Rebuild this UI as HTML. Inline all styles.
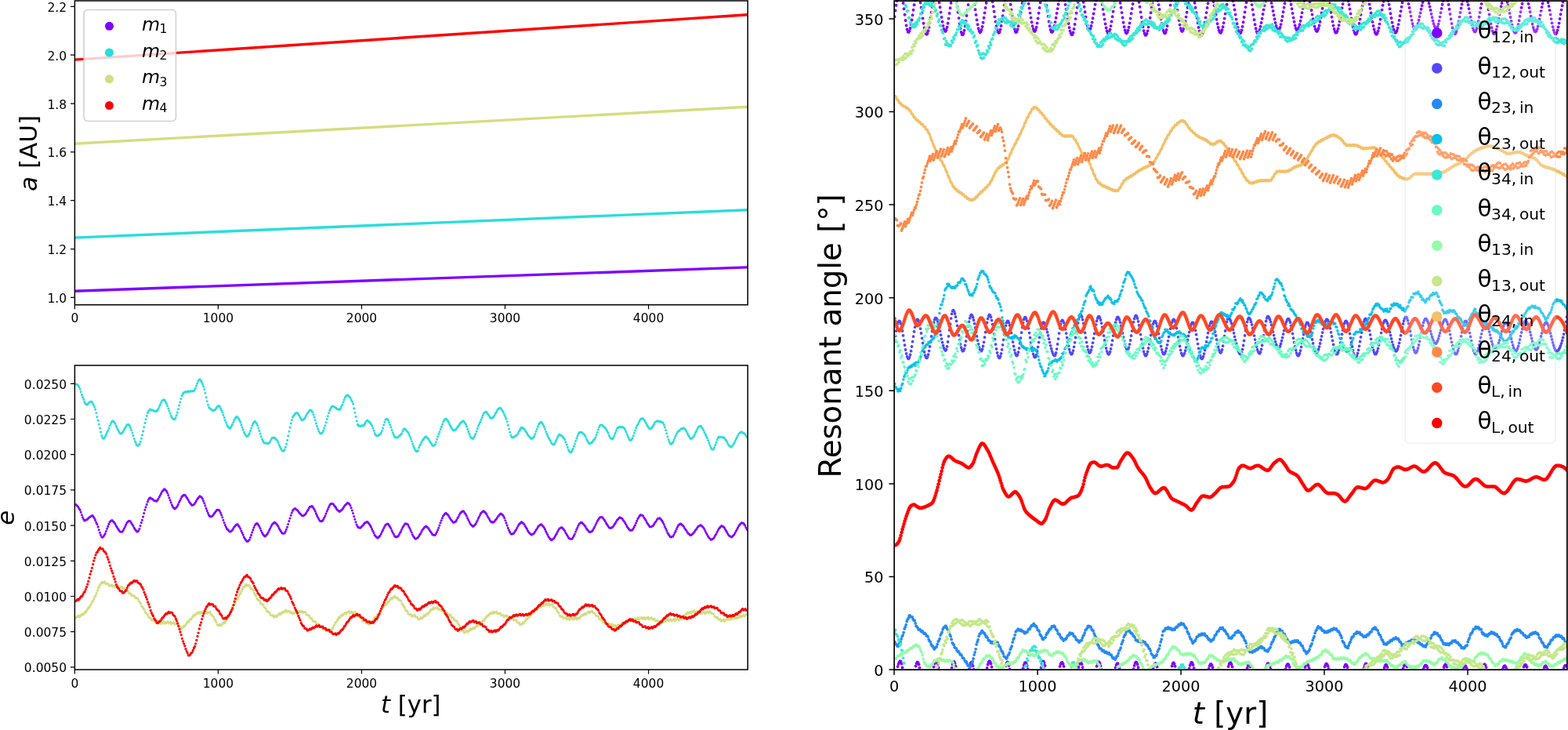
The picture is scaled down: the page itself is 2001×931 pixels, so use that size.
<!DOCTYPE html>
<html><head><meta charset="utf-8"><title>Resonant angles</title>
<style>html,body{margin:0;padding:0;background:#fff;width:2001px;height:931px;overflow:hidden}svg{display:block}</style>
</head><body>
<svg width="2001" height="931" viewBox="0 0 2001 931" font-family="'DejaVu Sans', 'Liberation Sans', sans-serif">
<rect width="100%" height="100%" fill="#fff"/>
<g>
<path d="M95.4 371.2L954 340.9" stroke="#8000ff" stroke-width="3.4" stroke-linecap="butt" fill="none"/>
<path d="M95.4 303.1L954 267.7" stroke="#2adddd" stroke-width="3.4" stroke-linecap="butt" fill="none"/>
<path d="M95.4 183.2L954 136.2" stroke="#d4dd80" stroke-width="3.4" stroke-linecap="butt" fill="none"/>
<path d="M95.4 76.1L954 18.8" stroke="#ff0000" stroke-width="3.4" stroke-linecap="butt" fill="none"/>
</g>
<path d="M96.4 489.9h0m1.2 0.1h0m1.1 0.6h0m1.2 1.1h0m1.1 2h0m1.2 2.6h0m1.1 3.4h0m1.2 3.8h0m1.1 3h0m1.2 2.9h0m1.1 3.2h0m1.2 2.3h0m1.1 0.9h0m1.2 0.3h0m1.1 -1.3h0m1.2 -1.5h0m1.1 -0.6h0m1.2 -0.6h0m1.1 0.3h0m1.2 1.5h0m1.1 2.7h0m1.2 2.4h0m1.1 3.1h0m1.2 4.7h0m1.1 4.8h0m1.2 4.5h0m1.1 4.9h0m1.2 5.1h0m1.1 4.9h0m1.2 4.5h0m1.1 2.9h0m1.2 0.8h0m1.1 -0.3h0m1.2 -2.3h0m1.1 -2.7h0m1.2 -2.6h0m1.1 -2.1h0m1.2 -3h0m1.1 -3.2h0m1.2 -2.5h0m1.1 -2.3h0m1.2 -1.4h0m1.1 0.8h0m1.2 0.9h0m1.1 1.8h0m1.2 2.8h0m1.1 2.5h0m1.2 2.4h0m1.1 2.1h0m1.2 2.2h0m1.1 0.6h0m1.2 -0.4h0m1.1 -0.5h0m1.2 -2h0m1.1 -2.3h0m1.2 -1.9h0m1.1 -2.2h0m1.2 -1.8h0m1.1 -0.2h0m1.2 0h0m1.1 1.3h0m1.2 2.7h0m1.1 3h0m1.2 3.4h0m1.1 3.6h0m1.2 3.9h0m1.1 3.2h0m1.2 2.6h0m1.1 2.4h0m1.2 0.7h0m1.1 -0.7h0m1.2 -1.4h0m1.1 -3.1h0m1.2 -3.9h0m1.1 -4.3h0m1.2 -5.1h0m1.1 -5.2h0m1.2 -5.3h0m1.1 -4.6h0m1.2 -4.5h0m1.1 -3.7h0m1.2 -2.4h0m1.1 -1.6h0m1.2 -0.5h0m1.1 0.9h0m1.2 0.1h0m1.1 0.2h0m1.2 1h0m1.1 0.1h0m1.2 -0.1h0m1.1 0.2h0m1.2 -1.6h0m1.1 -2.2h0m1.2 -2.5h0m1.1 -2.3h0m1.2 -2.6h0m1.1 -2.2h0m1.2 -0.7h0m1.1 -0.6h0m1.2 0.6h0m1.1 2.2h0m1.2 2.2h0m1.1 2.8h0m1.2 3.4h0m1.1 3.1h0m1.2 3.1h0m1.1 3.2h0m1.2 2.2h0m1.1 1.5h0m1.2 0.5h0m1.1 0.1h0m1.2 -2h0m1.1 -3.1h0m1.2 -3.5h0m1.1 -4.4h0m1.2 -4.7h0m1.1 -4.3h0m1.2 -4.2h0m1.1 -3.7h0m1.2 -2.3h0m1.1 -1.6h0m1.2 -0.7h0m1.1 -0.7h0m1.2 0.4h0m1.1 -0.5h0m1.2 -0.5h0m1.1 0.5h0m1.2 -0.4h0m1.1 -0.4h0m1.2 0.6h0m1.1 -0.4h0m1.2 -0.4h0m1.1 -0.7h0m1.2 -2.5h0m1.1 -3.2h0m1.2 -2.9h0m1.1 -2.8h0m1.2 -2h0m1.1 -0.6h0m1.2 1.7h0m1.1 2h0m1.2 2.5h0m1.1 3h0m1.2 3.6h0m1.1 4.7h0m1.2 5.5h0m1.1 5.1h0m1.2 4.4h0m1.1 3.4h0m1.2 1.3h0m1.1 0.8h0m1.2 0.6h0m1.1 1.2h0m1.2 0.1h0m1.1 -0.5h0m1.2 -0.5h0m1.1 -1.8h0m1.2 -1.9h0m1.1 -0.7h0m1.2 -0.7h0m1.1 1.1h0m1.2 2.7h0m1.1 2h0m1.2 2.6h0m1.1 3.4h0m1.2 3.2h0m1.1 3.3h0m1.2 3.1h0m1.1 3.1h0m1.2 2.1h0m1.1 1.2h0m1.2 1.1h0m1.1 -1h0m1.2 -1.9h0m1.1 -2.1h0m1.2 -2.9h0m1.1 -2.8h0m1.2 -2h0m1.1 -1.7h0m1.2 -0.8h0m1.1 1.3h0m1.2 1.3h0m1.1 2.1h0m1.2 2.7h0m1.1 3.3h0m1.2 3.2h0m1.1 3h0m1.2 3.2h0m1.1 2.3h0m1.2 1.6h0m1.1 1.6h0m1.2 -0.5h0m1.1 -1.6h0m1.2 -2.1h0m1.1 -3.2h0m1.2 -3.4h0m1.1 -3.3h0m1.2 -2.4h0m1.1 -2h0m1.2 -1h0m1.1 1.3h0m1.2 1.5h0m1.1 2.5h0m1.2 3.4h0m1.1 3.5h0m1.2 3.6h0m1.1 3.7h0m1.2 3.2h0m1.1 2.4h0m1.2 2.2h0m1.1 0.5h0m1.2 0h0m1.1 -0.1h0m1.2 0.8h0m1.1 -0.3h0m1.2 -0.9h0m1.1 -1.5h0m1.2 -2.5h0m1.1 -2.1h0m1.2 -0.2h0m1.1 -0.1h0m1.2 0.2h0m1.1 1.3h0m1.2 0.8h0m1.1 1.8h0m1.2 2.3h0m1.1 3h0m1.2 2.5h0m1.1 2.2h0m1.2 2.2h0m1.1 0.8h0m1.2 -0.5h0m1.1 -1.3h0m1.2 -3.2h0m1.1 -4.2h0m1.2 -4.7h0m1.1 -5.5h0m1.2 -5.6h0m1.1 -5.2h0m1.2 -5.2h0m1.1 -4.4h0m1.2 -3.6h0m1.1 -1.8h0m1.2 -1.5h0m1.1 -1.5h0m1.2 -0.2h0m1.1 -0.3h0m1.2 0.8h0m1.1 2.3h0m1.2 2.1h0m1.1 1.8h0m1.2 2h0m1.1 0.1h0m1.2 -0.9h0m1.1 -0.8h0m1.2 -2h0m1.1 -2.2h0m1.2 -2.3h0m1.1 -1.5h0m1.2 -1.8h0m1.1 -1.2h0m1.2 0.3h0m1.1 0.6h0m1.2 1.9h0m1.1 3h0m1.2 3.3h0m1.1 3.7h0m1.2 4.1h0m1.1 3.7h0m1.2 3.3h0m1.1 2.8h0m1.2 2.4h0m1.1 0.8h0m1.2 -0.4h0m1.1 -0.8h0m1.2 -2.5h0m1.1 -3.1h0m1.2 -3.4h0m1.1 -4h0m1.2 -4.2h0m1.1 -3.8h0m1.2 -3.9h0m1.1 -3.4h0m1.2 -2.4h0m1.1 -1.9h0m1.2 -1h0m1.1 -0.1h0m1.2 1.1h0m1.1 0.5h0m1.2 0.6h0m1.1 1.4h0m1.2 0.4h0m1.1 0.1h0m1.2 0.3h0m1.1 -1.5h0m1.2 -2.3h0m1.1 -2.4h0m1.2 -3.1h0m1.1 -3.1h0m1.2 -2.7h0m1.1 -1.7h0m1.2 -1.3h0m1.1 -0.4h0m1.2 1.2h0m1.1 1h0m1.2 1.4h0m1.1 2.5h0m1.2 2.1h0m1.1 3h0m1.2 5.8h0m1.1 5.4h0m1.2 5.1h0m1.1 5.6h0m1.2 4.2h0m1.1 1.9h0m1.2 -0.3h0m1.1 0.6h0m1.2 -0.4h0m1.1 -0.4h0m1.2 0.4h0m1.1 -0.6h0m1.2 -2h0m1.1 -2.1h0m1.2 -1.8h0m1.1 -0.3h0m1.2 1.2h0m1.1 0.7h0m1.2 1h0m1.1 1.8h0m1.2 2.2h0m1.1 3h0m1.2 3.2h0m1.1 3.3h0m1.2 2.2h0m1.1 0.7h0m1.2 0.6h0m1.1 -0.8h0m1.2 -1.1h0m1.1 -0.4h0m1.2 -1.5h0m1.1 -2.8h0m1.2 -3.5h0m1.1 -4h0m1.2 -3.8h0m1.1 -3h0m1.2 -0.8h0m1.1 0.2h0m1.2 1.4h0m1.1 2.8h0m1.2 2.9h0m1.1 3.2h0m1.2 3.7h0m1.1 3.2h0m1.2 2.6h0m1.1 2.6h0m1.2 0.9h0m1.1 -0.1h0m1.2 0.3h0m1.1 -0.9h0m1.2 -1h0m1.1 -1.2h0m1.2 -0.5h0m1.1 -1.7h0m1.2 -3.1h0m1.1 -2.2h0m1.2 -0.6h0m1.1 0.5h0m1.2 1.6h0m1.1 1.1h0m1.2 1.4h0m1.1 2.5h0m1.2 2.6h0m1.1 2.9h0m1.2 3.2h0m1.1 3.4h0m1.2 3h0m1.1 2.5h0m1.2 2.5h0m1.1 1.3h0m1.2 0.4h0m1.1 -1.1h0m1.2 -3.8h0m1.1 -2.8h0m1.2 -1.9h0m1.1 -2.4h0m1.2 -2.2h0m1.1 -1.4h0m1.2 -1.6h0m1.1 -1.2h0m1.2 -0.5h0m1.1 1.1h0m1.2 1h0m1.1 1.5h0m1.2 2.3h0m1.1 1.8h0m1.2 1.5h0m1.1 1.9h0m1.2 0.5h0m1.1 -0.5h0m1.2 -1.3h0m1.1 -3h0m1.2 -3.5h0m1.1 -3.3h0m1.2 -3.4h0m1.1 -2.8h0m1.2 -3.2h0m1.1 -3.1h0m1.2 -3.3h0m1.1 -3.1h0m1.2 -1.9h0m1.1 -1.6h0m1.2 -0.5h0m1.1 1.3h0m1.2 1.3h0m1.1 1.9h0m1.2 2.6h0m1.1 2.3h0m1.2 2.1h0m1.1 1.6h0m1.2 1.6h0m1.1 0.1h0m1.2 -0.7h0m1.1 -0.3h0m1.2 -1.6h0m1.1 -1.8h0m1.2 -1.2h0m1.1 -1.9h0m1.2 -1.8h0m1.1 -0.8h0m1.2 -1.2h0m1.1 -0.7h0m1.2 1h0m1.1 1.2h0m1.2 2.1h0m1.1 2.8h0m1.2 3.4h0m1.1 3.1h0m1.2 3h0m1.1 3h0m1.2 1.8h0m1.1 0.8h0m1.2 0.5h0m1.1 -1.5h0m1.2 -2.3h0m1.1 -2.4h0m1.2 -3.3h0m1.1 -3.4h0m1.2 -3.3h0m1.1 -2.6h0m1.2 -2.6h0m1.1 -2.9h0m1.2 -2.6h0m1.1 -2.9h0m1.2 -2.5h0m1.1 -1.1h0m1.2 -0.9h0m1.1 0.2h0m1.2 1.8h0m1.1 1.5h0m1.2 1.6h0m1.1 2.1h0m1.2 1h0m1.1 -0.1h0m1.2 -0.9h0m1.1 -0.8h0m1.2 -2.1h0m1.1 -2.2h0m1.2 -1.8h0m1.1 -2.2h0m1.2 -1.9h0m1.1 -0.5h0m1.2 -0.5h0m1.1 0.4h0m1.2 1.8h0m1.1 1.7h0m1.2 2.2h0m1.1 2.8h0m1.2 2.4h0m1.1 2.5h0m1.2 3.6h0m1.1 4.6h0m1.2 4.6h0m1.1 4.3h0m1.2 3.8h0m1.1 2.3h0m1.2 0.3h0m1.1 0.3h0m1.2 -0.9h0m1.1 -1.1h0m1.2 -0.5h0m1.1 -1.3h0m1.2 -1.6h0m1.1 -2.3h0m1.2 -1.9h0m1.1 -2.1h0m1.2 -1.3h0m1.1 0.9h0m1.2 0.5h0m1.1 0.9h0m1.2 2h0m1.1 1.5h0m1.2 1.7h0m1.1 2.2h0m1.2 1.5h0m1.1 1.2h0m1.2 1.6h0m1.1 0.4h0m1.2 -0.2h0m1.1 -1.3h0m1.2 -1.6h0m1.1 -2.8h0m1.2 -3.2h0m1.1 -3h0m1.2 -3.2h0m1.1 -2.8h0m1.2 -1.5h0m1.1 -1.3h0m1.2 -0.1h0m1.1 1.7h0m1.2 1.8h0m1.1 2.5h0m1.2 2.8h0m1.1 3.3h0m1.2 2.9h0m1.1 2.5h0m1.2 2.5h0m1.1 1.9h0m1.2 2h0m1.1 2.5h0m1.2 1.3h0m1.1 0.6h0m1.2 0.3h0m1.1 -1.9h0m1.2 -2.5h0m1.1 -2.5h0m1.2 -2.7h0m1.1 -2.2h0m1.2 -1.1h0m1.1 0.9h0m1.2 0.4h0m1.1 0.8h0m1.2 1.7h0m1.1 1h0m1.2 1.9h0m1.1 3.2h0m1.2 3.3h0m1.1 3.3h0m1.2 3.2h0m1.1 2.1h0m1.2 0.7h0m1.1 0.1h0m1.2 -1.8h0m1.1 -2.5h0m1.2 -3.1h0m1.1 -3.2h0m1.2 -3.6h0m1.1 -3.5h0m1.2 -2.9h0m1.1 -2.6h0m1.2 -2h0m1.1 -0.1h0m1.2 -0.1h0m1.1 0.2h0m1.2 1.4h0m1.1 0.6h0m1.2 1.4h0m1.1 2.1h0m1.2 3h0m1.1 2.3h0m1.2 1.8h0m1.1 1.7h0m1.2 -0.2h0m1.1 -0.9h0m1.2 -0.4h0m1.1 -1.5h0m1.2 -1.7h0m1.1 -1h0m1.2 -2.4h0m1.1 -3.1h0m1.2 -3.1h0m1.1 -3.5h0m1.2 -3.1h0m1.1 -2.3h0m1.2 -0.5h0m1.1 -0.1h0m1.2 0.5h0m1.1 1.5h0m1.2 0.9h0m1.1 1h0m1.2 2h0m1.1 2h0m1.2 2.4h0m1.1 3h0m1.2 2.2h0m1.1 1.5h0m1.2 0.6h0m1.1 0.3h0m1.2 -2h0m1.1 -2.7h0m1.2 -2.8h0m1.1 -3.2h0m1.2 -2.8h0m1.1 -1.1h0m1.2 -0.6h0m1.1 -0.3h0m1.2 0.7h0m1.1 -0.3h0m1.2 -0.3h0m1.1 0.8h0m1.2 0.9h0m1.1 2h0m1.2 2.7h0m1.1 3.2h0m1.2 2.7h0m1.1 2.3h0m1.2 2.1h0m1.1 0.3h0m1.2 -1.1h0m1.1 -1.6h0m1.2 -3h0m1.1 -3.5h0m1.2 -3.2h0m1.1 -3.4h0m1.2 -2.7h0m1.1 -1.8h0m1.2 -2.4h0m1.1 -2.3h0m1.2 -1.9h0m1.1 -0.6h0m1.2 -0.5h0m1.1 0.5h0m1.2 1.8h0m1.1 1.7h0m1.2 1.9h0m1.1 2.6h0m1.2 1.8h0m1.1 1.5h0m1.2 1.6h0m1.1 0h0m1.2 -0.9h0m1.1 -1.6h0m1.2 -1.5h0m1.1 -2.2h0m1.2 -2.1h0m1.1 -0.8h0m1.2 -0.8h0m1.1 -0.3h0m1.2 0.8h0m1.1 -0.1h0m1.2 0h0m1.1 1h0m1.2 0h0m1.1 0.8h0m1.2 2.6h0m1.1 3.1h0m1.2 3.7h0m1.1 4.1h0m1.2 4.3h0m1.1 3.7h0m1.2 2.9h0m1.1 2.3h0m1.2 0.4h0m1.1 -1h0m1.2 -1.5h0m1.1 -2.7h0m1.2 -2.9h0m1.1 -2.6h0m1.2 -2.6h0m1.1 -1.9h0m1.2 -1.4h0m1.1 -0.5h0m1.2 -1.2h0m1.1 -1.1h0m1.2 0h0m1.1 -0.7h0m1.2 -0.4h0m1.1 1.2h0m1.2 1.2h0m1.1 1.9h0m1.2 2.6h0m1.1 2.2h0m1.2 1.9h0m1.1 2.1h0m1.2 0.6h0m1.1 -0.5h0m1.2 -1.2h0m1.1 -1.3h0m1.2 -2.3h0m1.1 -2.6h0m1.2 -2.1h0m1.1 -2.5h0m1.2 -2.1h0m1.1 -0.8h0m1.2 -0.7h0m1.1 0.1h0m1.2 1.7h0m1.1 1.7h0m1.2 2.1h0m1.1 2.8h0m1.2 2.4h0m1.1 2.3h0m1.2 2.2h0m1.1 3.1h0m1.2 3.1h0m1.1 3h0m1.2 3h0m1.1 1.8h0m1.2 0.4h0m1.1 -0.2h0m1.2 -2.4h0m1.1 -3.1h0m1.2 -3.1h0m1.1 -3.2h0m1.2 -2.6h0m1.1 -1.5h0m1.2 0.5h0m1.1 -0.2h0m1.2 -0.1h0m1.1 0.8h0m1.2 -0.1h0m1.1 0.4h0m1.2 1.9h0m1.1 1.6h0m1.2 2h0m1.1 2.5h0m1.2 1.7h0m1.1 1.1h0m1.2 1.2h0m1.1 -0.7h0m1.2 -1.3h0m1.1 -1.8h0m1.2 -1.7h0m1.1 -2.4h0m1.2 -2.6h0m1.1 -2.1h0m1.2 -2.4h0m1.1 -2.1h0m1.2 -0.9h0m1.1 -1.1h0m1.2 -0.4h0m1.1 0.9h0m1.2 0.4h0m1.1 0.7h0m1.2 1h0m1.1 2.1h0m1.2 1.6h0" stroke="#2adddd" stroke-width="3.1" stroke-linecap="round" fill="none"/>
<path d="M96.3 643.3h0m1.2 0.8h0m1.1 1.1h0m1.2 1.3h0m1.1 2.1h0m1.2 1.8h0m1.1 2.8h0m1.2 3.5h0m1.1 3.2h0m1.2 2.4h0m1.1 1.7h0m1.2 -0.4h0m1.1 -0.8h0m1.2 -0.3h0m1.1 -1.2h0m1.2 -1.3h0m1.1 -0.5h0m1.2 -1h0m1.1 -0.7h0m1.2 -0.3h0m1.1 1.7h0m1.2 1.9h0m1.1 2.3h0m1.2 2.8h0m1.1 2.4h0m1.2 3.3h0m1.1 3.9h0m1.2 3.5h0m1.1 2.9h0m1.2 2.5h0m1.1 0.5h0m1.2 -0.9h0m1.1 -1.8h0m1.2 -2h0m1.1 -3h0m1.2 -3.2h0m1.1 -2.9h0m1.2 -3h0m1.1 -2.6h0m1.2 -1.2h0m1.1 -0.9h0m1.2 0.1h0m1.1 1.5h0m1.2 1.1h0m1.1 1.6h0m1.2 2.4h0m1.1 1.9h0m1.2 1.8h0m1.1 1.6h0m1.2 1.9h0m1.1 0.7h0m1.2 -0.1h0m1.1 -0.1h0m1.2 -1.8h0m1.1 -2.3h0m1.2 -2.2h0m1.1 -2.6h0m1.2 -2.4h0m1.1 -1.3h0m1.2 -1h0m1.1 -0.2h0m1.2 0.8h0m1.1 1.9h0m1.2 1.7h0m1.1 1.9h0m1.2 2.5h0m1.1 1.8h0m1.2 1.4h0m1.1 1.6h0m1.2 0.1h0m1.1 -1.3h0m1.2 -2.4h0m1.1 -3.8h0m1.2 -3.9h0m1.1 -3.3h0m1.2 -4.2h0m1.1 -4.5h0m1.2 -4.3h0m1.1 -3.4h0m1.2 -3.5h0m1.1 -3.5h0m1.2 -2.6h0m1.1 -1.9h0m1.2 -0.6h0m1.1 1.1h0m1.2 0.4h0m1.1 0.6h0m1.2 1.4h0m1.1 0.4h0m1.2 0.1h0m1.1 0.4h0m1.2 -1.3h0m1.1 -1.9h0m1.2 -2.2h0m1.1 -2h0m1.2 -2.4h0m1.1 -2.4h0m1.2 -1.3h0m1.1 -1.3h0m1.2 -0.7h0m1.1 1.3h0m1.2 1.3h0m1.1 2.2h0m1.2 3.1h0m1.1 3.1h0m1.2 3.2h0m1.1 3h0m1.2 3.1h0m1.1 2.3h0m1.2 1.4h0m1.1 1.3h0m1.2 -0.7h0m1.1 -1.3h0m1.2 -1.4h0m1.1 -2.4h0m1.2 -2.7h0m1.1 -2.3h0m1.2 -2.5h0m1.1 -2.3h0m1.2 -1h0m1.1 -1h0m1.2 -0.1h0m1.1 0.6h0m1.2 1.9h0m1.1 1.6h0m1.2 1.8h0m1.1 2.4h0m1.2 1.7h0m1.1 1.3h0m1.2 1.6h0m1.1 0.1h0m1.2 -0.8h0m1.1 -0.7h0m1.2 -1.8h0m1.1 -2.1h0m1.2 -2.1h0m1.1 -1.4h0m1.2 -1.5h0m1.1 -1.1h0m1.2 0.7h0m1.1 0.8h0m1.2 1.8h0m1.1 2.8h0m1.2 2.8h0m1.1 3.2h0m1.2 3.5h0m1.1 3h0m1.2 2.8h0m1.1 2.7h0m1.2 1.5h0m1.1 0.5h0m1.2 -0.4h0m1.1 -0.4h0m1.2 -1.6h0m1.1 -1.8h0m1.2 -1.3h0m1.1 -1.7h0m1.2 -1.4h0m1.1 0.1h0m1.2 0h0m1.1 1.2h0m1.2 2.5h0m1.1 2.6h0m1.2 3.1h0m1.1 3.5h0m1.2 3.2h0m1.1 3h0m1.2 2.5h0m1.1 2.4h0m1.2 1.1h0m1.1 1.1h0m1.2 1.4h0m1.1 0h0m1.2 -1h0m1.1 -0.8h0m1.2 -2h0m1.1 -2h0m1.2 -1.2h0m1.1 -1.5h0m1.2 -0.8h0m1.1 0.2h0m1.2 1.7h0m1.1 1.5h0m1.2 2.1h0m1.1 2.9h0m1.2 2.5h0m1.1 2.5h0m1.2 2.9h0m1.1 2h0m1.2 1.6h0m1.1 1.7h0m1.2 0.1h0m1.1 -0.9h0m1.2 -1.3h0m1.1 -2.7h0m1.2 -3.1h0m1.1 -3.4h0m1.2 -3.1h0m1.1 -3.2h0m1.2 -2.7h0m1.1 -1.4h0m1.2 -1h0m1.1 0.2h0m1.2 1.8h0m1.1 1.9h0m1.2 2.4h0m1.1 2.9h0m1.2 2.5h0m1.1 2h0m1.2 1.4h0m1.1 1.3h0m1.2 -0.6h0m1.1 -1.3h0m1.2 -1.2h0m1.1 -2.2h0m1.2 -2.5h0m1.1 -2.2h0m1.2 -2.5h0m1.1 -2.3h0m1.2 -1.2h0m1.1 -1.3h0m1.2 -0.6h0m1.1 1.1h0m1.2 0.9h0m1.1 1.5h0m1.2 1.8h0m1.1 2.5h0m1.2 2h0m1.1 1.7h0m1.2 2h0m1.1 0.7h0m1.2 0h0m1.1 -0.3h0m1.2 -2.1h0m1.1 -2.7h0m1.2 -3h0m1.1 -3.7h0m1.2 -3.9h0m1.1 -3.6h0m1.2 -3.7h0m1.1 -3.3h0m1.2 -2.8h0m1.1 -1.5h0m1.2 -1h0m1.1 -0.2h0m1.2 1.3h0m1.1 0.8h0m1.2 1h0m1.1 1.9h0m1.2 1.2h0m1.1 1.1h0m1.2 1.5h0m1.1 0.5h0m1.2 -0.2h0m1.1 -0.8h0m1.2 -0.7h0m1.1 -1.9h0m1.2 -2.2h0m1.1 -1.6h0m1.2 -2.1h0m1.1 -1.7h0m1.2 -0.5h0m1.1 -0.5h0m1.2 0.3h0m1.1 1.9h0m1.2 1.8h0m1.1 2.3h0m1.2 3h0m1.1 2.5h0m1.2 2.4h0m1.1 2.1h0m1.2 2.1h0m1.1 0.8h0m1.2 -0.2h0m1.1 -0.2h0m1.2 -1.8h0m1.1 -2.3h0m1.2 -2.2h0m1.1 -3h0m1.2 -3h0m1.1 -2.5h0m1.2 -2.7h0m1.1 -2.3h0m1.2 -1.8h0m1.1 -0.3h0m1.2 -0.3h0m1.1 0.5h0m1.2 1.8h0m1.1 1.4h0m1.2 1.5h0m1.1 2.1h0m1.2 1.2h0m1.1 0.7h0m1.2 1h0m1.1 -0.7h0m1.2 -1.1h0m1.1 -0.8h0m1.2 -1.7h0m1.1 -1.8h0m1.2 -1.8h0m1.1 -0.9h0m1.2 -1.4h0m1.1 -0.9h0m1.2 0.7h0m1.1 0.8h0m1.2 1.9h0m1.1 3.1h0m1.2 3.2h0m1.1 3.6h0m1.2 4h0m1.1 3.7h0m1.2 3.4h0m1.1 3.4h0m1.2 2.3h0m1.1 1.4h0m1.2 0.2h0m1.1 0.3h0m1.2 -1.1h0m1.1 -1.4h0m1.2 -0.8h0m1.1 -1.6h0m1.2 -1.5h0m1.1 -0.4h0m1.2 -0.8h0m1.1 -0.2h0m1.2 1.4h0m1.1 1.3h0m1.2 1.8h0m1.1 2.1h0m1.2 2.8h0m1.1 2.4h0m1.2 2.3h0m1.1 2.6h0m1.2 1.6h0m1.1 1.1h0m1.2 1.2h0m1.1 -0.5h0m1.2 -1.2h0m1.1 -1.1h0m1.2 -2.3h0m1.1 -2.5h0m1.2 -2.1h0m1.1 -2.6h0m1.2 -2.3h0m1.1 -2h0m1.2 -0.7h0m1.1 -0.7h0m1.2 0.2h0m1.1 1.8h0m1.2 1.6h0m1.1 2.1h0m1.2 2.8h0m1.1 2.3h0m1.2 2.2h0m1.1 2.3h0m1.2 1.2h0m1.1 0.3h0m1.2 -0.5h0m1.1 -0.5h0m1.2 -1.8h0m1.1 -2.3h0m1.2 -1.9h0m1.1 -2.6h0m1.2 -2.5h0m1.1 -1.8h0m1.2 -1.9h0m1.1 -1.3h0m1.2 0.2h0m1.1 0.2h0m1.2 1.1h0m1.1 2.4h0m1.2 2.2h0m1.1 2.6h0m1.2 2.5h0m1.1 2.9h0m1.2 2.2h0m1.1 1.5h0m1.2 1.5h0m1.1 -0.1h0m1.2 -0.8h0m1.1 -0.6h0m1.2 -1.8h0m1.1 -2h0m1.2 -1.6h0m1.1 -2.3h0m1.2 -2.1h0m1.1 -1.3h0m1.2 -1.6h0m1.1 -1.2h0m1.2 -0.6h0m1.1 1h0m1.2 0.8h0m1.1 1.3h0m1.2 2.1h0m1.1 1.7h0m1.2 1.5h0m1.1 1.9h0m1.2 0.8h0m1.1 0.1h0m1.2 0.1h0m1.1 -1.6h0m1.2 -2.2h0m1.1 -2.6h0m1.2 -2.7h0m1.1 -3.2h0m1.2 -3.4h0m1.1 -2.9h0m1.2 -3h0m1.1 -2.7h0m1.2 -1.6h0m1.1 -1.4h0m1.2 -0.8h0m1.1 1.1h0m1.2 0.8h0m1.1 1.4h0m1.2 2.2h0m1.1 1.8h0m1.2 1.6h0m1.1 1.3h0m1.2 1.6h0m1.1 0.1h0m1.2 -0.6h0m1.1 -0.7h0m1.2 -1.9h0m1.1 -2.2h0m1.2 -1.8h0m1.1 -2.4h0m1.2 -2.1h0m1.1 -1.1h0m1.2 -1.1h0m1.1 -0.4h0m1.2 0.4h0m1.1 1.9h0m1.2 1.6h0m1.1 2.1h0m1.2 2.8h0m1.1 2.3h0m1.2 2.2h0m1.1 2.5h0m1.2 1.6h0m1.1 1h0m1.2 1.1h0m1.1 -0.6h0m1.2 -1.3h0m1.1 -1.1h0m1.2 -2.3h0m1.1 -2.4h0m1.2 -2.6h0m1.1 -2.1h0m1.2 -2.5h0m1.1 -2.1h0m1.2 -1.1h0m1.1 -1.1h0m1.2 -0.5h0m1.1 1.2h0m1.2 1h0m1.1 1.5h0m1.2 2.4h0m1.1 1.9h0m1.2 1.9h0m1.1 2.2h0m1.2 1.4h0m1.1 0.7h0m1.2 0h0m1.1 0.2h0m1.2 -1.2h0m1.1 -1.6h0m1.2 -1.2h0m1.1 -1.9h0m1.2 -1.9h0m1.1 -1h0m1.2 -1.4h0m1.1 -0.9h0m1.2 0.8h0m1.1 0.7h0m1.2 1.7h0m1.1 2.4h0m1.2 3.2h0m1.1 3.1h0m1.2 3.2h0m1.1 3.3h0m1.2 2.8h0m1.1 2.2h0m1.2 2.1h0m1.1 0.7h0m1.2 -0.4h0m1.1 -0.2h0m1.2 -1.6h0m1.1 -1.9h0m1.2 -1.6h0m1.1 -2.3h0m1.2 -2.2h0m1.1 -2.1h0m1.2 -1h0m1.1 -1.3h0m1.2 -0.7h0m1.1 1h0m1.2 0.6h0m1.1 1.2h0m1.2 2.2h0m1.1 1.8h0m1.2 1.9h0m1.1 2.4h0m1.2 1.7h0m1.1 1.3h0m1.2 0.9h0m1.1 1.1h0m1.2 -0.4h0m1.1 -0.9h0m1.2 -0.8h0m1.1 -1.8h0m1.2 -2.1h0m1.1 -1.5h0m1.2 -2h0m1.1 -1.8h0m1.2 -0.7h0m1.1 -0.9h0m1.2 -0.3h0m1.1 1.3h0m1.2 1.1h0m1.1 1.6h0m1.2 2.1h0m1.1 2.7h0m1.2 2.3h0m1.1 2.2h0m1.2 2.5h0m1.1 1.7h0m1.2 1.1h0m1.1 1.3h0m1.2 -0.4h0m1.1 -1h0m1.2 -0.9h0m1.1 -2h0m1.2 -2.2h0m1.1 -1.8h0m1.2 -2.3h0m1.1 -2.1h0m1.2 -1.9h0m1.1 -0.6h0m1.2 -0.7h0m1.1 0h0m1.2 1.4h0m1.1 1.3h0m1.2 1.6h0m1.1 2.4h0m1.2 1.9h0m1.1 1.8h0m1.2 2.2h0m1.1 1.3h0m1.2 0.6h0m1.1 -0.1h0m1.2 0h0m1.1 -1.6h0m1.2 -2.2h0m1.1 -2.2h0m1.2 -2.9h0m1.1 -2.9h0m1.2 -2.5h0m1.1 -2.6h0m1.2 -2.2h0m1.1 -0.9h0m1.2 -0.8h0m1.1 0h0m1.2 1.4h0m1.1 1h0m1.2 1.4h0m1.1 1.6h0m1.2 2.2h0m1.1 1.5h0m1.2 1.2h0m1.1 1.6h0m1.2 0.3h0m1.1 -0.5h0m1.2 -0.3h0m1.1 -1.6h0m1.2 -2.1h0m1.1 -1.8h0m1.2 -2.5h0m1.1 -2.5h0m1.2 -2.5h0m1.1 -1.7h0m1.2 -1.9h0m1.1 -1.5h0m1.2 0h0m1.1 -0.2h0m1.2 0.6h0m1.1 1.8h0m1.2 1.4h0m1.1 1.7h0m1.2 2.4h0m1.1 1.7h0m1.2 1.6h0m1.1 1.9h0m1.2 0.7h0m1.1 0.1h0m1.2 -0.6h0m1.1 -0.4h0m1.2 -1.6h0m1.1 -1.9h0m1.2 -1.5h0m1.1 -2.1h0m1.2 -2h0m1.1 -1.1h0m1.2 -1.4h0m1.1 -0.9h0m1.2 0.6h0m1.1 0.3h0m1.2 0.9h0m1.1 2h0m1.2 1.6h0m1.1 1.8h0m1.2 1.9h0m1.1 2.4h0m1.2 1.6h0m1.1 1.4h0m1.2 1.6h0m1.1 0.4h0m1.2 -0.3h0m1.1 -0.2h0m1.2 -1.8h0m1.1 -2.2h0m1.2 -2.1h0m1.1 -2.8h0m1.2 -2.8h0m1.1 -2.6h0m1.2 -1.8h0m1.1 -1.9h0m1.2 -1.3h0m1.1 0.4h0m1.2 0.2h0m1.1 0.9h0m1.2 2.1h0m1.1 1.7h0m1.2 1.8h0m1.1 2.5h0m1.2 1.8h0m1.1 1.5h0m1.2 1.9h0m1.1 0.6h0m1.2 -0.2h0m1.1 -0.8h0m1.2 -0.6h0m1.1 -1.8h0m1.2 -2h0m1.1 -1.4h0m1.2 -1.9h0m1.1 -1.7h0m1.2 -0.3h0m1.1 -0.4h0m1.2 0.3h0m1.1 1.7h0m1.2 1.5h0m1.1 2h0m1.2 2.3h0m1.1 2.9h0m1.2 2.5h0m1.1 2.5h0m1.2 2.8h0m1.1 2h0m1.2 1.5h0m1.1 1.7h0m1.2 0.4h0m1.1 -0.5h0m1.2 -0.5h0m1.1 -2h0m1.2 -2.4h0m1.1 -2.2h0m1.2 -2.7h0m1.1 -2.5h0m1.2 -2.3h0m1.1 -0.9h0m1.2 -0.9h0m1.1 0h0m1.2 1.3h0m1.1 0.9h0m1.2 1.2h0m1.1 2.2h0m1.2 1.5h0m1.1 1.6h0m1.2 2.1h0m1.1 1.3h0m1.2 0.9h0m1.1 1.3h0m1.2 0h0m1.1 -0.7h0m1.2 -1.1h0m1.1 -0.8h0m1.2 -1.8h0m1.1 -1.9h0m1.2 -1.2h0m1.1 -1.9h0m1.2 -1.6h0m1.1 -0.6h0m1.2 -0.8h0m1.1 -0.3h0m1.2 1.2h0m1.1 0.9h0m1.2 1.4h0m1.1 1.9h0m1.2 2.5h0m1.1 2.1h0m1.2 2h0m1.1 2.4h0m1.2 1.6h0m1.1 1.1h0m1.2 1.4h0m1.1 -0.1h0m1.2 -0.8h0m1.1 -0.6h0m1.2 -1.8h0m1.1 -2.1h0m1.2 -1.8h0m1.1 -2.4h0m1.2 -2.3h0m1.1 -2.1h0m1.2 -1.3h0m1.1 -1.4h0m1.2 -0.9h0m1.1 0.7h0m1.2 0.5h0m1.1 1.1h0m1.2 2.2h0m1.1 1.8h0m1.2 1.8h0m1.1 2.4h0m1.2 1.6h0m1.1 1.1h0m1.2 0.5h0m1.1 0.7h0m1.2 -0.8h0m1.1 -1.4h0m1.2 -1.1h0m1.1 -2.2h0m1.2 -2.3h0m1.1 -1.9h0m1.2 -2.3h0m1.1 -2.3h0m1.2 -1.3h0m1.1 -1.6h0m1.2 -1.1h0m1.1 0.4h0m1.2 0.2h0m1.1 1.1h0m1.2 1.7h0m1.1 2.6h0m1.2 2.5h0" stroke="#8000ff" stroke-width="3.1" stroke-linecap="round" fill="none"/>
<path d="M96.7 787.9h0m1.2 -0.8h0m1.1 -0.9h0m1.2 -1h0m1.1 1.5h0m1.2 -1.1h0m1.1 -1.1h0m1.2 -1.3h0m1.1 0.9h0m1.2 -1.6h0m1.1 -1.8h0m1.2 0.2h0m1.1 -1.9h0m1.2 -2h0m1.1 -2h0m1.2 -0.2h0m1.1 -2.3h0m1.2 -2.4h0m1.1 -2.4h0m1.2 -1.2h0m1.1 -2.7h0m1.2 -2.7h0m1.1 -1.4h0m1.2 -3.1h0m1.1 -3.4h0m1.2 -3.3h0m1.1 -1.8h0m1.2 -2.3h0m1.1 -1.7h0m1.2 -1.6h0m1.1 1h0m1.2 -1h0m1.1 -0.6h0m1.2 2.4h0m1.1 0.1h0m1.2 0.2h0m1.1 0.2h0m1.2 2.4h0m1.1 -0.3h0m1.2 -0.5h0m1.1 -0.5h0m1.2 2.1h0m1.1 -0.6h0m1.2 -0.5h0m1.1 2.1h0m1.2 -0.6h0m1.1 -0.5h0m1.2 -0.5h0m1.1 2.2h0m1.2 -0.4h0m1.1 -0.4h0m1.2 -0.4h0m1.1 2.3h0m1.2 -0.3h0m1.1 -0.1h0m1.2 2.4h0m1.1 0.3h0m1.2 0.4h0m1.1 0.4h0m1.2 2.7h0m1.1 0.4h0m1.2 0.3h0m1.1 2.4h0m1.2 0.1h0m1.1 0.1h0m1.2 0h0m1.1 2.5h0m1.2 0.2h0m1.1 0.4h0m1.2 0.8h0m1.1 2.9h0m1.2 1.4h0m1.1 1.7h0m1.2 3.2h0m1.1 1.6h0m1.2 1.5h0m1.1 1.3h0m1.2 3h0m1.1 1.5h0m1.2 1.3h0m1.1 1.2h0m1.2 2.9h0m1.1 0.6h0m1.2 0.3h0m1.1 2.6h0m1.2 0.2h0m1.1 0.1h0m1.2 0.1h0m1.1 2.4h0m1.2 -0.1h0m1.1 -0.3h0m1.2 -0.4h0m1.1 2.1h0m1.2 -0.7h0m1.1 -0.7h0m1.2 2h0m1.1 -0.8h0m1.2 -0.7h0m1.1 -0.8h0m1.2 2h0m1.1 -0.7h0m1.2 -0.8h0m1.1 -0.8h0m1.2 2.1h0m1.1 -0.8h0m1.2 -0.7h0m1.1 2.1h0m1.2 -0.6h0m1.1 -0.6h0m1.2 -0.5h0m1.1 2.1h0m1.2 -0.2h0m1.1 0.2h0m1.2 0.5h0m1.1 2.6h0m1.2 0.5h0m1.1 0.2h0m1.2 2.3h0m1.1 -0.9h0m1.2 -1.3h0m1.1 -1.5h0m1.2 0.3h0m1.1 -1.9h0m1.2 -1.9h0m1.1 -1.9h0m1.2 0.4h0m1.1 -1.8h0m1.2 -1.9h0m1.1 0.1h0m1.2 -1.9h0m1.1 -1.8h0m1.2 -1.7h0m1.1 0.6h0m1.2 -1.3h0m1.1 -1.2h0m1.2 -1.2h0m1.1 1.3h0m1.2 -1.1h0m1.1 -1h0m1.2 1.7h0m1.1 -0.9h0m1.2 -0.8h0m1.1 -0.7h0m1.2 2h0m1.1 -0.8h0m1.2 -0.7h0m1.1 2h0m1.2 -0.8h0m1.1 -0.7h0m1.2 0h0m1.1 2.7h0m1.2 1h0m1.1 1.2h0m1.2 1.2h0m1.1 2.9h0m1.2 1.7h0m1.1 2h0m1.2 3.3h0m1.1 1h0m1.2 -0.4h0m1.1 -0.9h0m1.2 1.5h0m1.1 -1.2h0m1.2 -1.4h0m1.1 -1.3h0m1.2 0.8h0m1.1 -1.8h0m1.2 -2.2h0m1.1 -1.1h0m1.2 -2.8h0m1.1 -3h0m1.2 -2.9h0m1.1 -1.4h0m1.2 -2.5h0m1.1 -2.6h0m1.2 -2.6h0m1.1 -1.1h0m1.2 -2.6h0m1.1 -2.6h0m1.2 -0.9h0m1.1 -2.4h0m1.2 -2.4h0m1.1 -2.3h0m1.2 -1h0m1.1 -2.6h0m1.2 -2.5h0m1.1 -2.5h0m1.2 -0.3h0m1.1 -1.9h0m1.2 -1.5h0m1.1 1.8h0m1.2 -0.5h0m1.1 0.1h0m1.2 0.6h0m1.1 2.7h0m1.2 0.9h0m1.1 0.9h0m1.2 1.3h0m1.1 3.3h0m1.2 1.9h0m1.1 1.9h0m1.2 3.2h0m1.1 1.2h0m1.2 1h0m1.1 0.8h0m1.2 2.8h0m1.1 0.8h0m1.2 0.7h0m1.1 0.8h0m1.2 2.8h0m1.1 1h0m1.2 1h0m1.1 2.9h0m1.2 0.9h0m1.1 0.8h0m1.2 0.5h0m1.1 2.7h0m1.2 0.5h0m1.1 0.4h0m1.2 0h0m1.1 2.2h0m1.2 -0.8h0m1.1 -1.1h0m1.2 1.1h0m1.1 -1.4h0m1.2 -1.4h0m1.1 -1.3h0m1.2 1.1h0m1.1 -1.4h0m1.2 -1.4h0m1.1 1h0m1.2 -1.2h0m1.1 -1.2h0m1.2 -1h0m1.1 2.1h0m1.2 -0.5h0m1.1 -0.3h0m1.2 -0.1h0m1.1 2.3h0m1.2 -0.3h0m1.1 -0.5h0m1.2 2h0m1.1 -0.8h0m1.2 -0.9h0m1.1 -0.9h0m1.2 1.8h0m1.1 -0.9h0m1.2 -0.9h0m1.1 -0.9h0m1.2 1.7h0m1.1 -0.9h0m1.2 -0.8h0m1.1 1.9h0m1.2 -0.6h0m1.1 0h0m1.2 0.3h0m1.1 2.7h0m1.2 0.6h0m1.1 0.4h0m1.2 0.5h0m1.1 2.7h0m1.2 0.7h0m1.1 0.6h0m1.2 2.7h0m1.1 0.5h0m1.2 0.3h0m1.1 0.2h0m1.2 2.5h0m1.1 0.2h0m1.2 0.2h0m1.1 0.3h0m1.2 2.6h0m1.1 0.6h0m1.2 0.6h0m1.1 2.6h0m1.2 0.3h0m1.1 0h0m1.2 -0.4h0m1.1 2.1h0m1.2 -0.5h0m1.1 -0.6h0m1.2 -0.6h0m1.1 2h0m1.2 -0.8h0m1.1 -1.5h0m1.2 -0.3h0m1.1 -2.6h0m1.2 -2.7h0m1.1 -2.7h0m1.2 -0.8h0m1.1 -2h0m1.2 -2h0m1.1 -1.9h0m1.2 0.1h0m1.1 -1.8h0m1.2 -1.6h0m1.1 0.7h0m1.2 -1.2h0m1.1 -1.2h0m1.2 -1.2h0m1.1 1.4h0m1.2 -1.1h0m1.1 -1.1h0m1.2 -0.9h0m1.1 1.9h0m1.2 -0.8h0m1.1 -0.6h0m1.2 2.1h0m1.1 -0.6h0m1.2 -0.5h0m1.1 -0.4h0m1.2 2.2h0m1.1 -0.3h0m1.2 0h0m1.1 2.7h0m1.2 1.1h0m1.1 1.3h0m1.2 1.2h0m1.1 2.9h0m1.2 0.3h0m1.1 0.2h0m1.2 0h0m1.1 2.4h0m1.2 -0.1h0m1.1 -0.4h0m1.2 2.2h0m1.1 -1h0m1.2 -1.3h0m1.1 -1.6h0m1.2 0.2h0m1.1 -1.9h0m1.2 -1.9h0m1.1 -1.8h0m1.2 0.2h0m1.1 -2h0m1.2 -2h0m1.1 -0.1h0m1.2 -2h0m1.1 -2h0m1.2 -1.9h0m1.1 -0.1h0m1.2 -2h0m1.1 -1.9h0m1.2 -2h0m1.1 0.2h0m1.2 -1.7h0m1.1 -1.8h0m1.2 0.2h0m1.1 -1.9h0m1.2 -1.8h0m1.1 -1.7h0m1.2 0.7h0m1.1 -1.3h0m1.2 -1h0m1.1 -0.8h0m1.2 2.2h0m1.1 -0.2h0m1.2 0h0m1.1 2.5h0m1.2 0.2h0m1.1 0.5h0m1.2 1h0m1.1 3.2h0m1.2 1.7h0m1.1 1.8h0m1.2 1.6h0m1.1 3.1h0m1.2 1h0m1.1 0.9h0m1.2 2.8h0m1.1 0.7h0m1.2 0.5h0m1.1 0h0m1.2 2.2h0m1.1 -0.5h0m1.2 -0.6h0m1.1 -0.5h0m1.2 2.2h0m1.1 0.1h0m1.2 0.3h0m1.1 2.6h0m1.2 -0.2h0m1.1 -0.8h0m1.2 -1h0m1.1 1.2h0m1.2 -1.3h0m1.1 -1.5h0m1.2 -1.5h0m1.1 0.8h0m1.2 -1.5h0m1.1 -1.4h0m1.2 0.6h0m1.1 -1.8h0m1.2 -1.8h0m1.1 -1.8h0m1.2 0.3h0m1.1 -1.6h0m1.2 -1.4h0m1.1 1.4h0m1.2 -0.8h0m1.1 -0.5h0m1.2 -0.3h0m1.1 2.3h0m1.2 -0.1h0m1.1 -0.1h0m1.2 0h0m1.1 2.3h0m1.2 -0.1h0m1.1 -0.1h0m1.2 2.4h0m1.1 0h0m1.2 0h0m1.1 0h0m1.2 2.5h0m1.1 0.1h0m1.2 0.2h0m1.1 0.3h0m1.2 2.6h0m1.1 0.3h0m1.2 0.5h0m1.1 2.6h0m1.2 0.6h0m1.1 0.6h0m1.2 0.8h0m1.1 2.8h0m1.2 1.3h0m1.1 1.7h0m1.2 1.6h0m1.1 3.2h0m1.2 1.2h0m1.1 0.4h0m1.2 2.3h0m1.1 -0.8h0m1.2 -0.9h0m1.1 -1h0m1.2 1.4h0m1.1 -1.2h0m1.2 -1.2h0m1.1 -1.3h0m1.2 1.2h0m1.1 -1.3h0m1.2 -1.2h0m1.1 1.1h0m1.2 -1.3h0m1.1 -1.4h0m1.2 -1.4h0m1.1 0.9h0m1.2 -1.5h0m1.1 -1.4h0m1.2 -1.5h0m1.1 0.6h0m1.2 -1.7h0m1.1 -1.8h0m1.2 0.1h0m1.1 -1.9h0m1.2 -1.9h0m1.1 -1.8h0m1.2 0.3h0m1.1 -1.6h0m1.2 -1.4h0m1.1 -1.3h0m1.2 1.1h0m1.1 -1.2h0m1.2 -1.2h0m1.1 1.6h0m1.2 -0.9h0m1.1 -0.6h0m1.2 -0.4h0m1.1 2.3h0m1.2 -0.1h0m1.1 -0.1h0m1.2 0h0m1.1 2.4h0m1.2 -0.1h0m1.1 -0.3h0m1.2 2.2h0m1.1 -0.5h0m1.2 -0.5h0m1.1 -0.5h0m1.2 2.2h0m1.1 -0.5h0m1.2 -0.4h0m1.1 2.2h0m1.2 -0.3h0m1.1 -0.1h0m1.2 0.1h0m1.1 2.5h0m1.2 0.2h0m1.1 0.2h0m1.2 0.1h0m1.1 2.6h0m1.2 0.4h0m1.1 0.2h0m1.2 2.4h0m1.1 -0.4h0m1.2 -0.9h0m1.1 -1.3h0m1.2 0.8h0m1.1 -1.8h0m1.2 -1.9h0m1.1 -1.9h0m1.2 0h0m1.1 -1.8h0m1.2 -1.8h0m1.1 0.4h0m1.2 -1.8h0m1.1 -1.9h0m1.2 -1.8h0m1.1 0.2h0m1.2 -1.7h0m1.1 -1.6h0m1.2 -1.6h0m1.1 0.9h0m1.2 -1.4h0m1.1 -1.4h0m1.2 1h0m1.1 -1.3h0m1.2 -1.2h0m1.1 -1.2h0m1.2 1.5h0m1.1 -1h0m1.2 -0.9h0m1.1 -1h0m1.2 1.8h0m1.1 -0.8h0m1.2 -0.9h0m1.1 2h0m1.2 -0.8h0m1.1 -0.3h0m1.2 0.2h0m1.1 2.7h0m1.2 0.7h0m1.1 0.8h0m1.2 0.8h0m1.1 2.8h0m1.2 1.3h0m1.1 1.5h0m1.2 3.2h0m1.1 1h0m1.2 0.4h0m1.1 -0.2h0m1.2 2.4h0m1.1 -0.3h0m1.2 -0.3h0m1.1 -0.5h0m1.2 2.2h0m1.1 -0.7h0m1.2 -0.7h0m1.1 2h0m1.2 -0.8h0m1.1 -0.7h0m1.2 -0.8h0m1.1 2h0m1.2 -0.7h0m1.1 -0.8h0m1.2 -0.8h0m1.1 2.1h0m1.2 -0.9h0m1.1 -1.1h0m1.2 0.9h0m1.1 -1.6h0m1.2 -1.6h0m1.1 -1.6h0m1.2 0.8h0m1.1 -1.2h0m1.2 -1.2h0m1.1 1.2h0m1.2 -1.2h0m1.1 -1.2h0m1.2 -1.1h0m1.1 1.5h0m1.2 -1h0m1.1 -0.9h0m1.2 -0.6h0m1.1 2.3h0m1.2 0.3h0m1.1 0.5h0m1.2 2.7h0m1.1 0.5h0m1.2 0.5h0m1.1 0.6h0m1.2 2.8h0m1.1 0.7h0m1.2 0.7h0m1.1 0.5h0m1.2 2.5h0m1.1 0.1h0m1.2 -0.1h0m1.1 2.3h0m1.2 -0.2h0m1.1 -0.2h0m1.2 -0.4h0m1.1 2.3h0m1.2 -0.4h0m1.1 -0.4h0m1.2 -0.4h0m1.1 2.2h0m1.2 -0.5h0m1.1 -0.5h0m1.2 2.1h0m1.1 -0.7h0m1.2 -0.9h0m1.1 -1h0m1.2 1.4h0m1.1 -1.2h0m1.2 -1.3h0m1.1 -1.3h0m1.2 1.3h0m1.1 -1.2h0m1.2 -1.2h0m1.1 1.2h0m1.2 -1.3h0m1.1 -1.2h0m1.2 -1.3h0m1.1 1.3h0m1.2 -1.2h0m1.1 -1h0m1.2 -1.1h0m1.1 1.8h0m1.2 -0.9h0m1.1 -0.9h0m1.2 1.9h0m1.1 -0.9h0m1.2 -0.8h0m1.1 -0.9h0m1.2 1.9h0m1.1 -0.9h0m1.2 -0.8h0m1.1 -0.9h0m1.2 1.9h0m1.1 -0.9h0m1.2 -0.8h0m1.1 1.9h0m1.2 -0.8h0m1.1 -0.7h0m1.2 -0.7h0m1.1 2.1h0m1.2 -0.5h0m1.1 -0.5h0m1.2 -0.5h0m1.1 2.2h0m1.2 -0.5h0m1.1 -0.4h0m1.2 2.3h0m1.1 0.1h0m1.2 0.1h0m1.1 0h0m1.2 2.3h0m1.1 -0.6h0m1.2 -0.8h0m1.1 1.8h0m1.2 -1h0m1.1 -1.1h0m1.2 -1h0m1.1 1.5h0m1.2 -1h0m1.1 -1h0m1.2 -1h0m1.1 1.8h0m1.2 -0.8h0m1.1 -0.8h0m1.2 1.9h0m1.1 -0.8h0m1.2 -0.8h0m1.1 -0.8h0m1.2 2h0m1.1 -0.9h0m1.2 -0.8h0m1.1 -0.8h0m1.2 1.9h0m1.1 -1h0m1.2 -1.1h0m1.1 1h0m1.2 -1.6h0m1.1 -1.7h0m1.2 -1.7h0m1.1 0.5h0m1.2 -1.6h0m1.1 -1.5h0m1.2 -1.4h0m1.1 1.4h0m1.2 -1h0m1.1 -1h0m1.2 1.6h0m1.1 -1h0m1.2 -0.9h0m1.1 -0.9h0m1.2 2h0m1.1 -0.7h0m1.2 -0.5h0m1.1 -0.5h0m1.2 2.2h0m1.1 -0.5h0m1.2 -0.5h0m1.1 2.2h0m1.2 -0.6h0m1.1 -0.8h0m1.2 -0.8h0m1.1 1.9h0m1.2 -0.8h0m1.1 -0.9h0m1.2 -0.9h0m1.1 1.9h0m1.2 -0.9h0m1.1 -0.8h0m1.2 2.1h0m1.1 0h0m1.2 0.5h0m1.1 0.8h0m1.2 2.9h0m1.1 0.7h0m1.2 0.5h0m1.1 0h0m1.2 2.4h0m1.1 -0.1h0m1.2 -0.1h0m1.1 2.4h0m1.2 -0.4h0m1.1 -0.5h0m1.2 -0.7h0m1.1 1.8h0m1.2 -1h0m1.1 -1.1h0m1.2 -1.1h0m1.1 1.3h0m1.2 -1.1h0m1.1 -1h0m1.2 1.6h0m1.1 -0.9h0m1.2 -1h0m1.1 -0.9h0m1.2 1.7h0m1.1 -1h0m1.2 -0.9h0m1.1 1.6h0m1.2 -1h0m1.1 -1h0m1.2 -0.9h0m1.1 1.6h0m1.2 -1h0m1.1 -1h0m1.2 -1h0m1.1 1.6h0m1.2 -1h0m1.1 -1.1h0" stroke="#d4dd80" stroke-width="3.3" stroke-linecap="round" fill="none"/>
<path d="M96.7 766.5h0m1.2 -0.9h0m1.1 -1.1h0m1.2 0.7h0m1.1 -1.5h0m1.2 -1.5h0m1.1 -1.6h0m1.2 -0.3h0m1.1 -2.2h0m1.2 -2.3h0m1.1 -1.4h0m1.2 -2.8h0m1.1 -2.9h0m1.2 -3.6h0m1.1 -3.6h0m1.2 -4.6h0m1.1 -4.7h0m1.2 -3.7h0m1.1 -4.2h0m1.2 -4.6h0m1.1 -4.5h0m1.2 -3.6h0m1.1 -3.7h0m1.2 -3h0m1.1 -1h0m1.2 -2.2h0m1.1 -1.9h0m1.2 -1.4h0m1.1 1.5h0m1.2 -0.1h0m1.1 0.4h0m1.2 2.5h0m1.1 0.9h0m1.2 1.2h0m1.1 2h0m1.2 3.6h0m1.1 3.1h0m1.2 3.5h0m1.1 4.3h0m1.2 3.6h0m1.1 3.3h0m1.2 3h0m1.1 4h0m1.2 3.3h0m1.1 3.4h0m1.2 3.8h0m1.1 2.7h0m1.2 1.8h0m1.1 0.9h0m1.2 2.3h0m1.1 0.5h0m1.2 0.2h0m1.1 2.1h0m1.2 -0.3h0m1.1 -0.7h0m1.2 -1.5h0m1.1 -1.2h0m1.2 -2.9h0m1.1 -2.8h0m1.2 -0.8h0m1.1 -1.4h0m1.2 -1.4h0m1.1 0.6h0m1.2 -1.3h0m1.1 -1.2h0m1.2 -1h0m1.1 1.4h0m1.2 -0.7h0m1.1 -0.2h0m1.2 2.2h0m1.1 0.6h0m1.2 0.8h0m1.1 1h0m1.2 2.6h0m1.1 1.7h0m1.2 2.2h0m1.1 3.6h0m1.2 2.9h0m1.1 3h0m1.2 2.9h0m1.1 3.6h0m1.2 3.1h0m1.1 3.3h0m1.2 4.1h0m1.1 3h0m1.2 2.5h0m1.1 1.8h0m1.2 3.1h0m1.1 1.7h0m1.2 1.3h0m1.1 2.6h0m1.2 0.1h0m1.1 -0.9h0m1.2 -1.4h0m1.1 -0.1h0m1.2 -2.1h0m1.1 -2.1h0m1.2 -0.5h0m1.1 -1.8h0m1.2 -1.5h0m1.1 -1.5h0m1.2 0.5h0m1.1 -1.4h0m1.2 -1.2h0m1.1 1.3h0m1.2 -0.6h0m1.1 0h0m1.2 0.4h0m1.1 2.5h0m1.2 1h0m1.1 1.1h0m1.2 3h0m1.1 2.6h0m1.2 3.2h0m1.1 3.4h0m1.2 4h0m1.1 3.6h0m1.2 3.8h0m1.1 4.5h0m1.2 3.5h0m1.1 3.1h0m1.2 2.9h0m1.1 3.9h0m1.2 2.9h0m1.1 2.3h0m1.2 2.9h0m1.1 0.1h0m1.2 -1.1h0m1.1 -1.8h0m1.2 -0.9h0m1.1 -2.7h0m1.2 -2.9h0m1.1 -2h0m1.2 -3.6h0m1.1 -4.5h0m1.2 -4.9h0m1.1 -4.4h0m1.2 -5.1h0m1.1 -4.6h0m1.2 -3.5h0m1.1 -4.3h0m1.2 -4.2h0m1.1 -3.1h0m1.2 -3.1h0m1.1 -2.6h0m1.2 -2.6h0m1.1 -1h0m1.2 -2h0m1.1 -1.4h0m1.2 1.6h0m1.1 -0.4h0m1.2 -0.1h0m1.1 0.1h0m1.2 2.2h0m1.1 0.3h0m1.2 0.4h0m1.1 2.6h0m1.2 1.1h0m1.1 1.2h0m1.2 1.1h0m1.1 2.7h0m1.2 1.4h0m1.1 1.5h0m1.2 2.8h0m1.1 0.8h0m1.2 -0.1h0m1.1 -0.8h0m1.2 0.8h0m1.1 -1.6h0m1.2 -1.8h0m1.1 -0.5h0m1.2 -2.2h0m1.1 -2.2h0m1.2 -2.4h0m1.1 -2.4h0m1.2 -4h0m1.1 -4.5h0m1.2 -3.8h0m1.1 -4.4h0m1.2 -4h0m1.1 -3.3h0m1.2 -2.3h0m1.1 -3.1h0m1.2 -2.9h0m1.1 -1.4h0m1.2 -2.2h0m1.1 -2h0m1.2 -2h0m1.1 -0.1h0m1.2 -1.4h0m1.1 -0.9h0m1.2 2h0m1.1 0.4h0m1.2 1h0m1.1 1.2h0m1.2 2.9h0m1.1 1.3h0m1.2 1.8h0m1.1 3.3h0m1.2 2.3h0m1.1 2.2h0m1.2 1.8h0m1.1 2.8h0m1.2 1.4h0m1.1 1.1h0m1.2 2.7h0m1.1 0.7h0m1.2 0.5h0m1.1 0.1h0m1.2 2.1h0m1.1 0h0m1.2 -0.2h0m1.1 1.9h0m1.2 -0.9h0m1.1 -1.3h0m1.2 -1.6h0m1.1 -0.3h0m1.2 -1.9h0m1.1 -2h0m1.2 0h0m1.1 -1.8h0m1.2 -1.8h0m1.1 -0.1h0m1.2 -1.7h0m1.1 -1.4h0m1.2 -1.3h0m1.1 1h0m1.2 -1h0m1.1 -1h0m1.2 1.6h0m1.1 -0.6h0m1.2 -0.1h0m1.1 0.2h0m1.2 2.2h0m1.1 0.5h0m1.2 0.7h0m1.1 2.8h0m1.2 1.9h0m1.1 2.4h0m1.2 2.6h0m1.1 3.5h0m1.2 2.2h0m1.1 2.3h0m1.2 3.3h0m1.1 2.3h0m1.2 2.3h0m1.1 2.3h0m1.2 3.4h0m1.1 2.7h0m1.2 2.8h0m1.1 3.5h0m1.2 2.2h0m1.1 1.4h0m1.2 0.7h0m1.1 2.5h0m1.2 0.6h0m1.1 0.2h0m1.2 2.1h0m1.1 -0.4h0m1.2 -0.9h0m1.1 -1h0m1.2 0.9h0m1.1 -1.3h0m1.2 -1.2h0m1.1 0.9h0m1.2 -1h0m1.1 -1.1h0m1.2 -1.1h0m1.1 1.2h0m1.2 -0.8h0m1.1 -0.7h0m1.2 1.9h0m1.1 -0.2h0m1.2 -0.1h0m1.1 -0.1h0m1.2 2.1h0m1.1 -0.1h0m1.2 0h0m1.1 2.1h0m1.2 0.1h0m1.1 0.1h0m1.2 0.1h0m1.1 2.1h0m1.2 0.2h0m1.1 0.3h0m1.2 2.2h0m1.1 0.2h0m1.2 -0.1h0m1.1 -0.4h0m1.2 1.5h0m1.1 -1h0m1.2 -1.2h0m1.1 0.6h0m1.2 -1.6h0m1.1 -1.6h0m1.2 -1.6h0m1.1 0h0m1.2 -2h0m1.1 -2.2h0m1.2 -1h0m1.1 -2.3h0m1.2 -2.2h0m1.1 -0.3h0m1.2 -1.9h0m1.1 -1.9h0m1.2 -1.9h0m1.1 0.1h0m1.2 -1.5h0m1.1 -1.3h0m1.2 1.2h0m1.1 -0.9h0m1.2 -0.9h0m1.1 -0.8h0m1.2 1.6h0m1.1 -0.4h0m1.2 0h0m1.1 2.3h0m1.2 0.5h0m1.1 0.6h0m1.2 0.4h0m1.1 2.2h0m1.2 0.1h0m1.1 0.1h0m1.2 2.2h0m1.1 0.1h0m1.2 -0.1h0m1.1 -0.1h0m1.2 1.9h0m1.1 -0.5h0m1.2 -0.9h0m1.1 1h0m1.2 -1.5h0m1.1 -1.5h0m1.2 -1.8h0m1.1 0h0m1.2 -2.3h0m1.1 -2.7h0m1.2 -2.1h0m1.1 -3.1h0m1.2 -3h0m1.1 -2.8h0m1.2 -2h0m1.1 -3h0m1.2 -2.9h0m1.1 -1.7h0m1.2 -2.6h0m1.1 -2.7h0m1.2 -2.6h0m1.1 -1.1h0m1.2 -2.2h0m1.1 -1.8h0m1.2 0.1h0m1.1 -1.6h0m1.2 -1.4h0m1.1 -1.3h0m1.2 1.4h0m1.1 -0.5h0m1.2 -0.2h0m1.1 2.1h0m1.2 0.2h0m1.1 0.3h0m1.2 0.5h0m1.1 2.3h0m1.2 0.6h0m1.1 1h0m1.2 2.8h0m1.1 1.5h0m1.2 1.6h0m1.1 1.5h0m1.2 2.9h0m1.1 1.3h0m1.2 1.2h0m1.1 2.8h0m1.2 0.9h0m1.1 1.1h0m1.2 1h0m1.1 2.6h0m1.2 0.6h0m1.1 0.2h0m1.2 1.9h0m1.1 -0.9h0m1.2 -1h0m1.1 0.9h0m1.2 -1.4h0m1.1 -1.4h0m1.2 -1.4h0m1.1 0.7h0m1.2 -1.3h0m1.1 -1.3h0m1.2 0.7h0m1.1 -1.3h0m1.2 -1.3h0m1.1 -1.2h0m1.2 1.1h0m1.1 -0.9h0m1.2 -0.9h0m1.1 1.4h0m1.2 -0.8h0m1.1 -0.8h0m1.2 -0.7h0m1.1 1.8h0m1.2 -0.1h0m1.1 0.5h0m1.2 2.4h0m1.1 0.9h0m1.2 0.9h0m1.1 0.9h0m1.2 2.7h0m1.1 1.3h0m1.2 1.6h0m1.1 3h0m1.2 1.6h0m1.1 1.6h0m1.2 1.8h0m1.1 3.1h0m1.2 1.9h0m1.1 1.6h0m1.2 2.9h0m1.1 0.9h0m1.2 1h0m1.1 0.8h0m1.2 2.5h0m1.1 0.4h0m1.2 0h0m1.1 1.8h0m1.2 -0.9h0m1.1 -1h0m1.2 -1.1h0m1.1 0.8h0m1.2 -1.3h0m1.1 -1.3h0m1.2 0.7h0m1.1 -1.5h0m1.2 -1.6h0m1.1 -1.7h0m1.2 0.2h0m1.1 -1.6h0m1.2 -1.4h0m1.1 0.9h0m1.2 -0.8h0m1.1 -0.7h0m1.2 -0.5h0m1.1 1.8h0m1.2 -0.4h0m1.1 -0.3h0m1.2 1.9h0m1.1 -0.3h0m1.2 -0.2h0m1.1 -0.1h0m1.2 2.1h0m1.1 0.1h0m1.2 0.2h0m1.1 2.2h0m1.2 0.3h0m1.1 0.3h0m1.2 0.7h0m1.1 2.6h0m1.2 0.8h0m1.1 0.4h0m1.2 2.1h0m1.1 -0.6h0m1.2 -0.7h0m1.1 1.7h0m1.2 -0.7h0m1.1 -0.7h0m1.2 -0.7h0m1.1 1.6h0m1.2 -1.1h0m1.1 -1.1h0m1.2 0.6h0m1.1 -1.5h0m1.2 -1.5h0m1.1 -1.6h0m1.2 0.3h0m1.1 -1.5h0m1.2 -1.6h0m1.1 -0.1h0m1.2 -2h0m1.1 -1.9h0m1.2 -2h0m1.1 -0.2h0m1.2 -1.7h0m1.1 -1.4h0m1.2 0.8h0m1.1 -1.2h0m1.2 -1.1h0m1.1 -1.2h0m1.2 1.1h0m1.1 -1h0m1.2 -0.9h0m1.1 1.4h0m1.2 -0.7h0m1.1 -0.7h0m1.2 -0.7h0m1.1 1.7h0m1.2 -0.7h0m1.1 -0.7h0m1.2 1.7h0m1.1 -0.6h0m1.2 -0.7h0m1.1 -0.7h0m1.2 1.5h0m1.1 -1h0m1.2 -1.2h0m1.1 0.8h0m1.2 -1.4h0m1.1 -1.3h0m1.2 -1.4h0m1.1 0.6h0m1.2 -1.5h0m1.1 -1.6h0m1.2 0.2h0m1.1 -1.7h0m1.2 -1.6h0m1.1 -1.6h0m1.2 0.3h0m1.1 -1.6h0m1.2 -1.6h0m1.1 0.2h0m1.2 -1.6h0m1.1 -1.5h0m1.2 -1.4h0m1.1 1h0m1.2 -0.8h0m1.1 -0.6h0m1.2 1.8h0m1.1 -0.5h0m1.2 -0.4h0m1.1 -0.4h0m1.2 2h0m1.1 -0.3h0m1.2 -0.2h0m1.1 2h0m1.2 0.1h0m1.1 0.5h0m1.2 0.8h0m1.1 2.5h0m1.2 1h0m1.1 0.8h0m1.2 2.5h0m1.1 0.8h0m1.2 1h0m1.1 2.6h0m1.2 1h0m1.1 0.7h0m1.2 0.3h0m1.1 2h0m1.2 -0.7h0m1.1 -0.6h0m1.2 1.7h0m1.1 -0.7h0m1.2 -0.7h0m1.1 -0.7h0m1.2 1.7h0m1.1 -0.8h0m1.2 -1.2h0m1.1 0.2h0m1.2 -2h0m1.1 -2h0m1.2 -2h0m1.1 0h0m1.2 -1.5h0m1.1 -1.4h0m1.2 0.6h0m1.1 -1.4h0m1.2 -1.3h0m1.1 -1.1h0m1.2 1.4h0m1.1 -0.7h0m1.2 -0.6h0m1.1 1.8h0m1.2 -0.5h0m1.1 -0.4h0m1.2 -0.4h0m1.1 1.9h0m1.2 -0.3h0m1.1 -0.1h0m1.2 2.3h0m1.1 0.8h0m1.2 1.1h0m1.1 1.4h0m1.2 2.9h0m1.1 1.5h0m1.2 1.4h0m1.1 2.7h0m1.2 1.3h0m1.1 1.3h0m1.2 1.5h0m1.1 2.8h0m1.2 1.3h0m1.1 1h0m1.2 2.4h0m1.1 0.5h0m1.2 0.4h0m1.1 0.4h0m1.2 2.2h0m1.1 0.1h0m1.2 -0.1h0m1.1 1.9h0m1.2 -0.7h0m1.1 -1h0m1.2 -1.3h0m1.1 0.4h0m1.2 -1.6h0m1.1 -1.6h0m1.2 0.4h0m1.1 -1.4h0m1.2 -1.4h0m1.1 -1.5h0m1.2 0.5h0m1.1 -1.5h0m1.2 -1.4h0m1.1 0.7h0m1.2 -1.2h0m1.1 -1.1h0m1.2 -0.9h0m1.1 1.8h0m1.2 -0.5h0m1.1 -0.5h0m1.2 2h0m1.1 -0.3h0m1.2 -0.2h0m1.1 2h0m1.2 -0.2h0m1.1 0h0m1.2 0.2h0m1.1 2.3h0m1.2 0.5h0m1.1 0.4h0m1.2 2.2h0m1.1 0.1h0m1.2 -0.3h0m1.1 -0.3h0m1.2 2h0m1.1 -0.4h0m1.2 -0.4h0m1.1 1.8h0m1.2 -0.6h0m1.1 -0.7h0m1.2 -0.8h0m1.1 1.3h0m1.2 -1.1h0m1.1 -1.2h0m1.2 0.9h0m1.1 -1.3h0m1.2 -1.2h0m1.1 -1.3h0m1.2 0.4h0m1.1 -1.7h0m1.2 -1.6h0m1.1 0.1h0m1.2 -1.7h0m1.1 -1.5h0m1.2 -1.6h0m1.1 0.1h0m1.2 -1.7h0m1.1 -1.7h0m1.2 0.4h0m1.1 -1.3h0m1.2 -1h0m1.1 -0.7h0m1.2 1.8h0m1.1 -0.5h0m1.2 -0.4h0m1.1 1.9h0m1.2 -0.4h0m1.1 -0.3h0m1.2 -0.3h0m1.1 1.9h0m1.2 -0.4h0m1.1 -0.3h0m1.2 1.9h0m1.1 -0.3h0m1.2 -0.2h0m1.1 -0.3h0m1.2 1.9h0m1.1 -0.3h0m1.2 -0.5h0m1.1 1.8h0m1.2 -0.8h0m1.1 -0.8h0m1.2 -0.9h0m1.1 1.2h0m1.2 -1.1h0m1.1 -1.1h0m1.2 1h0m1.1 -1.2h0m1.2 -1.2h0m1.1 -1.2h0m1.2 0.5h0m1.1 -1.6h0m1.2 -1.6h0m1.1 0.2h0m1.2 -1.7h0m1.1 -1.5h0m1.2 -1.5h0m1.1 0.8h0m1.2 -1.3h0m1.1 -1.3h0m1.2 0.9h0m1.1 -1.2h0m1.2 -1h0m1.1 1.6h0m1.2 -0.7h0m1.1 -0.5h0m1.2 -0.5h0m1.1 1.8h0m1.2 -0.4h0m1.1 -0.4h0m1.2 1.9h0m1.1 -0.3h0m1.2 -0.1h0m1.1 0.3h0m1.2 2.3h0m1.1 0.6h0m1.2 0.6h0m1.1 2.4h0m1.2 0.3h0m1.1 0.2h0m1.2 0.2h0m1.1 2.2h0m1.2 0.1h0m1.1 0h0m1.2 2h0m1.1 -0.3h0m1.2 -0.7h0m1.1 -0.7h0m1.2 1.4h0m1.1 -0.9h0m1.2 -0.9h0m1.1 1.2h0m1.2 -1h0m1.1 -1.1h0m1.2 -1h0m1.1 0.9h0m1.2 -1.4h0m1.1 -1.6h0m1.2 0.2h0m1.1 -1.6h0m1.2 -1.4h0m1.1 -1.1h0m1.2 1.6h0m1.1 -0.7h0m1.2 -0.7h0m1.1 1.7h0" stroke="#ff0000" stroke-width="3.3" stroke-linecap="round" fill="none"/>
<defs><clipPath id="c3"><rect x="1141.1" y="0" width="858.7" height="854"/></clipPath></defs>
<g clip-path="url(#c3)">
<path d="M1141.6 21.3h0m1 -7.8h0m1 -6.8h0m1 -5.7h0m1 849.1h0m1 -3.4h0m1 -2.3h0m1 -1.1h0m1 0.4h0m1 2.9h0m1 4.8h0m1 -847.4h0m1 7.2h0m1 7.5h0m1 7.3h0m1 6.4h0m1 5h0m1 3.1h0m1 0.6h0m1 -1.7h0m1 -3.4h0m1 -4.7h0m1 -5.8h0m1 -6.3h0m1 -6.5h0m1 -6.4h0m1 -5.7h0m1 848.9h0m1 -3.4h0m1 -1.7h0m1 0.5h0m1 2.5h0m1 4.2h0m1 -848.2h0m1 6.3h0m1 6.8h0m1 6.9h0m1 6.4h0m1 5.7h0m1 4.5h0m1 2.9h0m1 0.9h0m1 -1.3h0m1 -3.2h0m1 -4.6h0m1 -5.8h0m1 -6.5h0m1 -6.8h0m1 -6.8h0m1 -6.4h0m1 848.2h0m1 -4.3h0m1 -2.8h0m1 -0.7h0m1 1.3h0m1 3h0m1 4.4h0m1 -848.3h0m1 6.1h0m1 6.3h0m1 6.3h0m1 5.9h0m1 5.1h0m1 4h0m1 2.4h0m1 0.7h0m1 -1.7h0m1 -3.5h0m1 -5.1h0m1 -6.1h0m1 -6.6h0m1 -6.8h0m1 -6.5h0m1 848h0m1 -4.4h0m1 -2.7h0m1 -0.6h0m1 1.9h0m1 3.9h0m1 -848.1h0m1 6.7h0m1 7.3h0m1 7.4h0m1 7h0m1 6.1h0m1 4.8h0m1 2.9h0m1 0.5h0m1 -1.9h0m1 -3.8h0m1 -5.3h0m1 -6.4h0m1 -7h0m1 -7.1h0m1 -6.8h0m1 847.7h0m1 -4.9h0m1 -3.2h0m1 -1h0m1 1.2h0m1 3.2h0m1 4.6h0m1 -847.9h0m1 6.4h0m1 6.7h0m1 6.5h0m1 5.9h0m1 4.9h0m1 3.4h0m1 1.6h0m1 -0.7h0m1 -2.5h0m1 -4h0m1 -5.2h0m1 -6h0m1 -6.4h0m1 -6.4h0m1 -6.2h0m1 848.2h0m1 -4.5h0m1 -3.1h0m1 -1.3h0m1 0.8h0m1 2.6h0m1 4.1h0m1 -848.4h0m1 6.1h0m1 6.5h0m1 6.6h0m1 6.2h0m1 5.5h0m1 4.5h0m1 3h0m1 1.3h0m1 -1h0m1 -3.1h0m1 -4.8h0m1 -5.9h0m1 -6.8h0m1 -6.9h0m1 -6.8h0m1 -6.1h0m1 848.7h0m1 -3.4h0m1 -1.3h0m1 1h0m1 3.2h0m1 4.8h0m1 -847.8h0m1 6.7h0m1 6.9h0m1 6.6h0m1 6h0m1 4.9h0m1 3.2h0m1 1.2h0m1 -1h0m1 -2.8h0m1 -4.1h0m1 -5.2h0m1 -5.9h0m1 -6.3h0m1 -6.2h0m1 -5.8h0m1 848.6h0m1 -4.1h0m1 -2.6h0m1 -0.8h0m1 1.2h0m1 2.8h0m1 4.2h0m1 -848.5h0m1 5.8h0m1 6.1h0m1 6h0m1 5.7h0m1 4.9h0m1 3.8h0m1 2.4h0m1 0.6h0m1 -1.7h0m1 -3.6h0m1 -5.1h0m1 -6.1h0m1 -6.8h0m1 -6.8h0m1 -6.6h0m1 848h0m1 -4.5h0m1 -2.7h0m1 -0.6h0m1 1.7h0m1 3.8h0m1 -848.4h0m1 6.3h0m1 6.9h0m1 7.1h0m1 6.6h0m1 5.8h0m1 4.6h0m1 2.7h0m1 0.5h0m1 -1.3h0m1 -2.8h0m1 -4h0m1 -4.9h0m1 -5.4h0m1 -5.8h0m1 -5.8h0m1 -5.6h0m1 -5h0m1 849.4h0m1 -3.1h0m1 -1.7h0m1 -0.1h0m1 1.7h0m1 3.2h0m1 -849.3h0m1 5.3h0m1 5.9h0m1 6.2h0m1 6.1h0m1 5.9h0m1 5.3h0m1 4.3h0m1 3.1h0m1 1.6h0m1 -0.3h0m1 -2.6h0m1 -4.5h0m1 -5.9h0m1 -6.9h0m1 -7.3h0m1 -7.2h0m1 -6.7h0m1 848h0m1 -4.2h0m1 -2.2h0m1 0.2h0m1 2.4h0m1 4h0m1 -848.4h0m1 6.1h0m1 6.5h0m1 6.5h0m1 6h0m1 5h0m1 3.8h0m1 1.9h0m1 -0.1h0m1 -2h0m1 -3.4h0m1 -4.4h0m1 -5.3h0m1 -5.8h0m1 -5.9h0m1 -5.8h0m1 -5.3h0m1 849.2h0m1 -3.4h0m1 -1.9h0m1 -0.2h0m1 1.7h0m1 3.4h0m1 4.6h0m1 -848.1h0m1 6.1h0m1 6.4h0m1 6.3h0m1 5.9h0m1 5h0m1 3.9h0m1 2.5h0m1 0.6h0m1 -1.5h0m1 -3.2h0m1 -4.7h0m1 -5.6h0m1 -6.2h0m1 -6.5h0m1 -6.3h0m1 -5.8h0m1 848.8h0m1 -3.5h0m1 -1.9h0m1 0.2h0m1 2.3h0m1 3.8h0m1 -848.6h0m1 5.9h0m1 6.4h0m1 6.4h0m1 6.2h0m1 5.5h0m1 4.3h0m1 2.9h0m1 1.1h0m1 -1h0m1 -2.7h0m1 -4.1h0m1 -5.2h0m1 -5.9h0m1 -6.3h0m1 -6.3h0m1 -6h0m1 848.3h0m1 -4.4h0m1 -3.1h0m1 -1.4h0m1 0.5h0m1 2.4h0m1 4h0m1 -848.5h0m1 6h0m1 6.6h0m1 6.6h0m1 6.4h0m1 5.9h0m1 4.9h0m1 3.6h0m1 2h0m1 0h0m1 -1.9h0m1 -3.5h0m1 -4.8h0m1 -5.7h0m1 -6.2h0m1 -6.5h0m1 -6.3h0m1 -5.9h0m1 848.7h0m1 -3.9h0m1 -2.3h0m1 -0.6h0m1 1.5h0m1 3h0m1 -849.5h0m1 5.2h0m1 5.9h0m1 6.1h0m1 6.1h0m1 5.7h0m1 5h0m1 4h0m1 2.6h0m1 1h0m1 -1.2h0m1 -3.3h0m1 -4.9h0m1 -6h0m1 -6.8h0m1 -7h0m1 -6.7h0m1 -6h0m1 848.9h0m1 -3.2h0m1 -1.1h0m1 1.2h0m1 3.3h0m1 -849h0m1 5.8h0m1 6.4h0m1 6.7h0m1 6.3h0m1 5.7h0m1 4.5h0m1 3h0m1 0.9h0m1 -1.1h0m1 -2.7h0m1 -4h0m1 -5h0m1 -5.6h0m1 -5.9h0m1 -6h0m1 -5.6h0m1 848.7h0m1 -4.1h0m1 -2.8h0m1 -1.1h0m1 0.7h0m1 2.6h0m1 4h0m1 -848.4h0m1 6h0m1 6.5h0m1 6.6h0m1 6.4h0m1 5.7h0m1 4.8h0m1 3.4h0m1 1.8h0m1 -0.2h0m1 -2h0m1 -3.6h0m1 -4.8h0m1 -5.7h0m1 -6.2h0m1 -6.3h0m1 -6.2h0m1 -5.7h0m1 848.8h0m1 -3.7h0m1 -2.1h0m1 -0.3h0m1 1.5h0m1 3.1h0m1 -849.5h0m1 5.2h0m1 5.7h0m1 5.9h0m1 5.9h0m1 5.5h0m1 4.8h0m1 3.7h0m1 2.4h0m1 0.8h0m1 -1.1h0m1 -2.7h0m1 -3.9h0m1 -5h0m1 -5.6h0m1 -6h0m1 -6h0m1 -5.8h0m1 -5.2h0m1 849.4h0m1 -3.2h0m1 -1.7h0m1 0.1h0m1 1.9h0m1 3.3h0m1 -849.2h0m1 5.4h0m1 5.8h0m1 6.2h0m1 6h0m1 5.6h0m1 4.9h0m1 3.9h0m1 2.6h0m1 0.9h0m1 -1.1h0m1 -3h0m1 -4.5h0m1 -5.6h0m1 -6.3h0m1 -6.5h0m1 -6.4h0m1 -5.8h0m1 848.8h0m1 -3.4h0m1 -1.6h0m1 0.5h0m1 2.6h0m1 -849.5h0m1 5.4h0m1 6.1h0m1 6.5h0m1 6.5h0m1 6h0m1 5.1h0m1 3.8h0m1 2.1h0m1 0.1h0m1 -1.6h0m1 -2.9h0m1 -4h0m1 -4.8h0m1 -5.3h0m1 -5.7h0m1 -5.6h0m1 -5.5h0m1 -4.9h0m1 849.5h0m1 -3.1h0m1 -1.9h0m1 -0.3h0m1 1.2h0m1 2.4h0m1 3.5h0m1 -849.4h0m1 4.9h0m1 5.2h0m1 5.2h0m1 5.1h0m1 4.7h0m1 4h0m1 3.1h0m1 2h0m1 0.6h0m1 -1.1h0m1 -2.6h0m1 -3.9h0m1 -4.8h0m1 -5.4h0m1 -5.7h0m1 -5.6h0m1 -5.3h0m1 849.1h0m1 -3.6h0m1 -2.3h0m1 -0.6h0m1 1.1h0m1 2.7h0m1 -849.7h0m1 4.8h0m1 5.4h0m1 5.7h0m1 5.7h0m1 5.2h0m1 4.6h0m1 3.5h0m1 2.2h0m1 0.6h0m1 -1.2h0m1 -2.5h0m1 -3.7h0m1 -4.5h0m1 -5.1h0m1 -5.5h0m1 -5.4h0m1 -5.2h0m1 -4.6h0m1 849.9h0m1 -2.8h0m1 -1.3h0m1 0.2h0m1 1.9h0m1 3.2h0m1 -849.5h0m1 5h0m1 5.4h0m1 5.6h0m1 5.5h0m1 5.1h0m1 4.4h0m1 3.5h0m1 2.2h0m1 0.7h0m1 -1.1h0m1 -2.6h0m1 -3.8h0m1 -4.8h0m1 -5.4h0m1 -5.8h0m1 -5.7h0m1 -5.4h0m1 -4.9h0m1 849.8h0m1 -2.7h0m1 -1.1h0m1 0.6h0m1 2.4h0m1 3.7h0m1 -848.9h0m1 5.5h0m1 5.9h0m1 6h0m1 5.7h0m1 5.2h0m1 4.4h0m1 3.1h0m1 1.6h0m1 -0.1h0m1 -1.8h0m1 -3.2h0m1 -4.3h0m1 -5.1h0m1 -5.5h0m1 -5.7h0m1 -5.7h0m1 -5.2h0m1 -4.6h0m1 850.1h0m1 -2.4h0m1 -0.7h0m1 0.9h0m1 2.6h0m1 -849.8h0m1 4.8h0m1 5.5h0m1 5.9h0m1 6h0m1 5.7h0m1 5.2h0m1 4.3h0m1 3.2h0m1 1.8h0m1 0h0m1 -1.6h0m1 -3h0m1 -4.1h0m1 -4.9h0m1 -5.4h0m1 -5.8h0m1 -5.8h0m1 -5.5h0m1 -5h0m1 849.4h0m1 -3.2h0m1 -1.9h0m1 -0.4h0m1 1.4h0m1 2.7h0m1 -849.9h0m1 4.8h0m1 5.4h0m1 5.7h0m1 5.8h0m1 5.6h0m1 5.1h0m1 4.5h0m1 3.4h0m1 2.2h0m1 0.7h0m1 -1.2h0m1 -2.8h0m1 -4.1h0m1 -5.1h0m1 -5.8h0m1 -6.1h0m1 -6.1h0m1 -5.8h0m1 -5h0m1 849.6h0m1 -2.7h0m1 -1.1h0m1 0.8h0m1 2.5h0m1 -849.9h0m1 4.8h0m1 5.5h0m1 5.9h0m1 5.8h0m1 5.7h0m1 5h0m1 4h0m1 2.9h0m1 1.3h0m1 -0.6h0m1 -2.1h0m1 -3.5h0m1 -4.6h0m1 -5.2h0m1 -5.7h0m1 -5.9h0m1 -5.6h0m1 -5.3h0m1 849.2h0m1 -3.4h0m1 -2.1h0m1 -0.4h0m1 1.2h0m1 2.5h0m1 -850h0m1 4.5h0m1 5h0m1 5.4h0m1 5.3h0m1 5.1h0m1 4.5h0m1 3.7h0m1 2.7h0m1 1.2h0m1 -0.2h0m1 -1.6h0m1 -2.6h0m1 -3.5h0m1 -4.1h0m1 -4.5h0m1 -4.8h0m1 -4.8h0m1 -4.5h0m1 -4.2h0m1 850.2h0m1 -2.7h0m1 -1.7h0m1 -0.4h0m1 0.9h0m1 2h0m1 -850.7h0m1 3.7h0m1 4.2h0m1 4.5h0m1 4.7h0m1 4.5h0m1 4.3h0m1 3.7h0m1 3.1h0m1 2.1h0m1 1h0m1 -0.3h0m1 -2h0m1 -3.3h0m1 -4.2h0m1 -5h0m1 -5.3h0m1 -5.4h0m1 -5.2h0m1 -4.6h0m1 849.9h0m1 -2.6h0m1 -1.1h0m1 0.7h0m1 2.6h0m1 -849.8h0m1 5.1h0m1 5.9h0m1 6.2h0m1 6.2h0m1 5.9h0m1 5.3h0m1 4.1h0m1 2.8h0m1 1h0m1 -0.8h0m1 -2.3h0m1 -3.6h0m1 -4.4h0m1 -5.1h0m1 -5.5h0m1 -5.7h0m1 -5.4h0m1 -5.1h0m1 -4.3h0m1 850.3h0m1 -2.1h0m1 -0.5h0m1 1h0m1 2.3h0m1 -850.2h0m1 4.3h0m1 4.9h0m1 5.3h0m1 5.3h0m1 5.1h0m1 4.6h0m1 4h0m1 3h0m1 1.8h0m1 0.3h0m1 -1.4h0m1 -2.9h0m1 -4.1h0m1 -4.9h0m1 -5.5h0m1 -5.8h0m1 -5.7h0m1 -5.3h0m1 849h0m1 -3.6h0m1 -2.4h0m1 -0.7h0m1 1.1h0m1 2.8h0m1 -849.6h0m1 5.1h0m1 5.7h0m1 6.1h0m1 6.1h0m1 5.7h0m1 5.1h0m1 4.1h0m1 2.8h0m1 1.1h0m1 -0.6h0m1 -2h0m1 -3.1h0m1 -4h0m1 -4.6h0m1 -5.1h0m1 -5.3h0m1 -5.3h0m1 -5h0m1 -4.4h0m1 849.9h0m1 -2.8h0m1 -1.6h0m1 -0.1h0m1 1.3h0m1 2.5h0m1 -850.3h0m1 4.2h0m1 4.8h0m1 5.1h0m1 5.1h0m1 5h0m1 4.7h0m1 4h0m1 3.2h0m1 2.1h0m1 0.9h0m1 -0.7h0m1 -2.1h0m1 -3.4h0m1 -4.4h0m1 -5h0m1 -5.5h0m1 -5.5h0m1 -5.5h0m1 -5.1h0m1 -4.3h0m1 850.2h0m1 -2.2h0m1 -0.8h0m1 0.9h0m1 2.3h0m1 -850.2h0m1 4.3h0m1 5h0m1 5.3h0m1 5.5h0m1 5.2h0m1 4.9h0m1 4.1h0m1 3.2h0m1 2h0m1 0.5h0m1 -1.1h0m1 -2.4h0m1 -3.5h0m1 -4.2h0m1 -4.9h0m1 -5.1h0m1 -5.3h0m1 -5h0m1 -4.6h0m1 -3.9h0m1 850.7h0m1 -1.7h0m1 -0.3h0m1 1.3h0m1 2.6h0m1 -849.9h0m1 4.6h0m1 5.2h0m1 5.5h0m1 5.5h0m1 5.3h0m1 4.8h0m1 4.1h0m1 3h0m1 1.7h0m1 0.2h0m1 -1.6h0m1 -3h0m1 -4.1h0m1 -4.9h0m1 -5.6h0m1 -5.7h0m1 -5.7h0m1 -5.4h0m1 -4.8h0m1 849.9h0m1 -2.5h0m1 -1.1h0m1 0.2h0m1 0.9h0" stroke="#8000ff" stroke-width="3.9" stroke-linecap="round" fill="none"/>
<path d="M1141.6 435.4h0m1 -7h0m1 -6.3h0m1 -5.2h0m1 -4h0m1 -2.6h0m1 -1h0m1 0.8h0m1 2.7h0m1 4h0m1 5.2h0m1 5.9h0m1 6.2h0m1 6.1h0m1 5.8h0m1 5h0m1 3.8h0m1 2.3h0m1 0.4h0m1 -1.7h0m1 -3.3h0m1 -4.8h0m1 -5.7h0m1 -6.3h0m1 -6.5h0m1 -6.3h0m1 -5.7h0m1 -4.8h0m1 -3.3h0m1 -1.7h0m1 0.4h0m1 2.4h0m1 3.9h0m1 5h0m1 5.9h0m1 6.3h0m1 6.3h0m1 6h0m1 5.3h0m1 4.2h0m1 2.7h0m1 0.8h0m1 -1.3h0m1 -3.1h0m1 -4.6h0m1 -5.7h0m1 -6.3h0m1 -6.6h0m1 -6.5h0m1 -5.9h0m1 -5.1h0m1 -3.8h0m1 -2h0m1 -0.1h0m1 1.4h0m1 2.7h0m1 3.5h0m1 4.3h0m1 4.8h0m1 4.9h0m1 4.9h0m1 4.6h0m1 4h0m1 3.2h0m1 2.2h0m1 0.9h0m1 -1.2h0m1 -3.9h0m1 -5.9h0m1 -7.2h0m1 -7.8h0m1 -7.8h0m1 -7.1h0m1 -5.8h0m1 -3.6h0m1 -1h0m1 1.4h0m1 2.9h0m1 4.2h0m1 5.2h0m1 5.9h0m1 6.2h0m1 6.2h0m1 5.9h0m1 5.3h0m1 4.3h0m1 3.1h0m1 1.5h0m1 -0.5h0m1 -2.5h0m1 -4.3h0m1 -5.4h0m1 -6.2h0m1 -6.5h0m1 -6.3h0m1 -5.7h0m1 -4.6h0m1 -3.2h0m1 -1.1h0m1 0.8h0m1 2.4h0m1 3.5h0m1 4.5h0m1 5.1h0m1 5.5h0m1 5.6h0m1 5.3h0m1 4.8h0m1 4.1h0m1 3h0m1 1.6h0m1 -0.1h0m1 -2.2h0m1 -3.9h0m1 -5.2h0m1 -6.1h0m1 -6.5h0m1 -6.4h0m1 -5.8h0m1 -4.9h0m1 -3.5h0m1 -1.6h0m1 0.6h0m1 2.5h0m1 4h0m1 5.1h0m1 5.9h0m1 6.5h0m1 6.6h0m1 6.4h0m1 5.9h0m1 5h0m1 3.8h0m1 2.3h0m1 0.4h0m1 -1.8h0m1 -3.7h0m1 -5.1h0m1 -6.1h0m1 -6.5h0m1 -6.6h0m1 -6.1h0m1 -5.2h0m1 -3.9h0m1 -2h0m1 0.1h0m1 2h0m1 3.4h0m1 4.5h0m1 5.2h0m1 5.7h0m1 5.7h0m1 5.4h0m1 4.8h0m1 3.9h0m1 2.6h0m1 0.9h0m1 -1.2h0m1 -3.4h0m1 -5h0m1 -6.2h0m1 -6.8h0m1 -6.9h0m1 -6.6h0m1 -5.8h0m1 -4.4h0m1 -2.5h0m1 -0.3h0m1 1.6h0m1 3.1h0m1 4.3h0m1 5.2h0m1 5.8h0m1 6.1h0m1 6h0m1 5.7h0m1 5.1h0m1 4.1h0m1 2.8h0m1 1.3h0m1 -0.7h0m1 -2.7h0m1 -4.3h0m1 -5.4h0m1 -6h0m1 -6.3h0m1 -6h0m1 -5.4h0m1 -4.3h0m1 -2.7h0m1 -0.7h0m1 0.8h0m1 1.8h0m1 2.7h0m1 3.3h0m1 3.9h0m1 4.2h0m1 4.3h0m1 4.4h0m1 4.2h0m1 3.9h0m1 3.4h0m1 2.7h0m1 1.9h0m1 0.9h0m1 -0.6h0m1 -3h0m1 -4.9h0m1 -6.2h0m1 -6.8h0m1 -7h0m1 -6.5h0m1 -5.3h0m1 -3.7h0m1 -1.3h0m1 0.9h0m1 2.4h0m1 3.7h0m1 4.6h0m1 5.2h0m1 5.5h0m1 5.5h0m1 5.1h0m1 4.4h0m1 3.5h0m1 2.1h0m1 0.6h0m1 -1.5h0m1 -3.2h0m1 -4.7h0m1 -5.6h0m1 -6.3h0m1 -6.4h0m1 -6.4h0m1 -5.8h0m1 -4.8h0m1 -3.6h0m1 -1.8h0m1 0.2h0m1 2.1h0m1 3.7h0m1 4.9h0m1 5.7h0m1 6.1h0m1 6.3h0m1 5.9h0m1 5.3h0m1 4.2h0m1 2.8h0m1 1h0m1 -1h0m1 -2.7h0m1 -4h0m1 -5h0m1 -5.7h0m1 -6h0m1 -5.9h0m1 -5.5h0m1 -4.7h0m1 -3.5h0m1 -2h0m1 -0.3h0m1 1.6h0m1 2.9h0m1 4.1h0m1 4.9h0m1 5.4h0m1 5.7h0m1 5.7h0m1 5.4h0m1 4.7h0m1 3.9h0m1 2.7h0m1 1.2h0m1 -0.6h0m1 -2.5h0m1 -3.9h0m1 -4.9h0m1 -5.7h0m1 -6.1h0m1 -6.1h0m1 -5.7h0m1 -4.9h0m1 -3.9h0m1 -2.5h0m1 -0.6h0m1 1.1h0m1 2.3h0m1 3.4h0m1 4.1h0m1 4.7h0m1 5h0m1 4.9h0m1 4.7h0m1 4.2h0m1 3.5h0m1 2.4h0m1 1.2h0m1 -0.4h0m1 -2.4h0m1 -4h0m1 -5.1h0m1 -5.8h0m1 -6.1h0m1 -5.9h0m1 -5.4h0m1 -4.3h0m1 -2.9h0m1 -1.1h0m1 0.9h0m1 2.6h0m1 3.9h0m1 5h0m1 5.6h0m1 6.1h0m1 6.1h0m1 5.9h0m1 5.3h0m1 4.5h0m1 3.3h0m1 1.8h0m1 0h0m1 -1.8h0m1 -3.3h0m1 -4.4h0m1 -5.2h0m1 -5.6h0m1 -5.7h0m1 -5.5h0m1 -4.9h0m1 -4h0m1 -2.7h0m1 -1.1h0m1 0.7h0m1 2.3h0m1 3.6h0m1 4.6h0m1 5.1h0m1 5.5h0m1 5.4h0m1 5.1h0m1 4.4h0m1 3.3h0m1 2.1h0m1 0.3h0m1 -1.2h0m1 -2.6h0m1 -3.7h0m1 -4.4h0m1 -5h0m1 -5.2h0m1 -5.3h0m1 -5h0m1 -4.4h0m1 -3.7h0m1 -2.6h0m1 -1.2h0m1 0.4h0m1 2.2h0m1 3.7h0m1 4.8h0m1 5.5h0m1 5.9h0m1 6h0m1 5.6h0m1 4.9h0m1 4h0m1 2.5h0m1 0.8h0m1 -0.9h0m1 -2.2h0m1 -3.4h0m1 -4.1h0m1 -4.7h0m1 -4.9h0m1 -5.1h0m1 -4.8h0m1 -4.4h0m1 -3.6h0m1 -2.7h0m1 -1.5h0m1 0.1h0m1 1.8h0m1 3.4h0m1 4.6h0m1 5.4h0m1 5.9h0m1 6h0m1 5.7h0m1 5.1h0m1 4.2h0m1 2.8h0m1 1.2h0m1 -0.7h0m1 -2.3h0m1 -3.5h0m1 -4.5h0m1 -5.1h0m1 -5.6h0m1 -5.7h0m1 -5.5h0m1 -5h0m1 -4.2h0m1 -3.2h0m1 -1.8h0m1 -0.2h0m1 1.5h0m1 2.8h0m1 3.8h0m1 4.6h0m1 5h0m1 5.1h0m1 5h0m1 4.4h0m1 3.7h0m1 2.5h0m1 1.2h0m1 -0.8h0m1 -3.1h0m1 -4.8h0m1 -5.9h0m1 -6.6h0m1 -6.7h0m1 -6.2h0m1 -5.2h0m1 -3.7h0m1 -1.5h0m1 0.5h0m1 1.4h0m1 2.4h0m1 3h0m1 3.7h0m1 4.1h0m1 4.3h0m1 4.5h0m1 4.4h0m1 4.3h0m1 4h0m1 3.5h0m1 2.8h0m1 2.1h0m1 1.2h0m1 0h0m1 -2h0m1 -3.9h0m1 -5.2h0m1 -6h0m1 -6.6h0m1 -6.4h0m1 -6h0m1 -4.9h0m1 -3.6h0m1 -1.6h0m1 0.5h0m1 1.7h0m1 2.8h0m1 3.7h0m1 4.3h0m1 4.7h0m1 5h0m1 5h0m1 4.7h0m1 4.3h0m1 3.7h0m1 2.8h0m1 1.7h0m1 0.5h0m1 -1.7h0m1 -3.6h0m1 -5h0m1 -6.1h0m1 -6.6h0m1 -6.6h0m1 -6.2h0m1 -5.3h0m1 -3.9h0m1 -2.1h0m1 0h0m1 1.4h0m1 2.3h0m1 3.2h0m1 3.8h0m1 4.3h0m1 4.4h0m1 4.5h0m1 4.3h0m1 4h0m1 3.4h0m1 2.6h0m1 1.7h0m1 0.5h0m1 -0.8h0m1 -2h0m1 -2.9h0m1 -3.7h0m1 -4.1h0m1 -4.5h0m1 -4.4h0m1 -4.3h0m1 -3.9h0m1 -3.2h0m1 -2.4h0m1 -1.3h0m1 0h0m1 1.7h0m1 2.9h0m1 4.1h0m1 4.9h0m1 5.4h0m1 5.6h0m1 5.5h0m1 5.2h0m1 4.6h0m1 3.7h0m1 2.5h0m1 1h0m1 -0.7h0m1 -2.3h0m1 -3.6h0m1 -4.6h0m1 -5.1h0m1 -5.5h0m1 -5.4h0m1 -5.1h0m1 -4.4h0m1 -3.3h0m1 -2.1h0m1 -0.3h0m1 1.2h0m1 2.7h0m1 3.6h0m1 4.4h0m1 4.9h0m1 4.9h0m1 4.9h0m1 4.4h0m1 3.6h0m1 2.7h0m1 1.2h0m1 -0.2h0m1 -1.6h0m1 -2.5h0m1 -3.4h0m1 -4.1h0m1 -4.5h0m1 -4.7h0m1 -4.7h0m1 -4.5h0m1 -4.1h0m1 -3.5h0m1 -2.6h0m1 -1.7h0m1 -0.4h0m1 1.1h0m1 2.5h0m1 3.6h0m1 4.3h0m1 5h0m1 5.2h0m1 5.3h0m1 5h0m1 4.5h0m1 3.8h0m1 2.7h0m1 1.4h0m1 -0.2h0m1 -1.9h0m1 -3.2h0m1 -4.3h0m1 -5h0m1 -5.5h0m1 -5.4h0m1 -5.2h0m1 -4.6h0m1 -3.7h0m1 -2.5h0m1 -0.9h0m1 0.8h0m1 2.4h0m1 3.5h0m1 4.5h0m1 5.1h0m1 5.5h0m1 5.6h0m1 5.3h0m1 4.8h0m1 4.1h0m1 3h0m1 1.6h0m1 0h0m1 -1.7h0m1 -3.2h0m1 -4.2h0m1 -5.1h0m1 -5.6h0m1 -5.8h0m1 -5.8h0m1 -5.4h0m1 -4.8h0m1 -3.8h0m1 -2.6h0m1 -1.1h0m1 0.7h0m1 2.1h0m1 3.3h0m1 4.3h0m1 4.9h0m1 5.2h0m1 5.4h0m1 5.3h0m1 4.8h0m1 4h0m1 3.1h0m1 1.9h0m1 0.3h0m1 -1.2h0m1 -2.6h0m1 -3.6h0m1 -4.4h0m1 -4.9h0m1 -5.2h0m1 -5.2h0m1 -4.9h0m1 -4.3h0m1 -3.5h0m1 -2.5h0m1 -1.1h0m1 0.4h0m1 1.4h0m1 2.4h0m1 3.2h0m1 3.6h0m1 4.1h0m1 4.3h0m1 4.3h0m1 4.1h0m1 3.7h0m1 3.3h0m1 2.5h0m1 1.7h0m1 0.6h0m1 -0.8h0m1 -2.1h0m1 -3.3h0m1 -4.2h0m1 -4.7h0m1 -5.1h0m1 -5.2h0m1 -4.9h0m1 -4.6h0m1 -3.8h0m1 -2.9h0m1 -1.6h0m1 -0.2h0m1 1.5h0m1 2.8h0m1 3.9h0m1 4.6h0m1 5.2h0m1 5.5h0m1 5.4h0m1 5h0m1 4.5h0m1 3.6h0m1 2.4h0m1 1h0m1 -0.6h0m1 -2.1h0m1 -3.2h0m1 -4h0m1 -4.7h0m1 -5.1h0m1 -5.1h0m1 -5.1h0m1 -4.5h0m1 -4h0m1 -2.9h0m1 -1.8h0m1 -0.3h0m1 0.8h0m1 1.9h0m1 2.6h0m1 3.2h0m1 3.6h0m1 3.7h0m1 3.8h0m1 3.6h0m1 3.2h0m1 2.6h0m1 1.9h0m1 0.8h0m1 -0.2h0m1 -1.3h0m1 -2.1h0m1 -2.8h0m1 -3.4h0m1 -3.6h0m1 -3.7h0m1 -3.6h0m1 -3.3h0m1 -2.9h0m1 -2.3h0m1 -1.3h0m1 -0.4h0m1 1h0m1 2.1h0m1 3.1h0m1 3.9h0m1 4.4h0m1 4.8h0m1 4.9h0m1 4.8h0m1 4.5h0m1 4h0m1 3.3h0m1 2.4h0m1 1.2h0m1 -0.2h0m1 -1.6h0m1 -2.9h0m1 -3.7h0m1 -4.5h0m1 -4.9h0m1 -5.1h0m1 -5h0m1 -4.7h0m1 -4h0m1 -3.2h0m1 -2h0m1 -0.6h0m1 0.9h0m1 2.2h0m1 3.4h0m1 4.1h0m1 4.7h0m1 4.9h0m1 5.1h0m1 4.8h0m1 4.4h0m1 3.6h0m1 2.7h0m1 1.5h0m1 0h0m1 -1.4h0m1 -2.6h0m1 -3.5h0m1 -4.1h0m1 -4.7h0m1 -4.8h0m1 -4.7h0m1 -4.5h0m1 -3.9h0m1 -3.2h0m1 -2.1h0m1 -0.9h0m1 0.5h0m1 1.7h0m1 2.6h0m1 3.2h0m1 3.9h0m1 4h0m1 4.2h0m1 4h0m1 3.7h0m1 3.1h0m1 2.3h0m1 1.4h0m1 0.1h0m1 -0.9h0m1 -1.9h0m1 -2.5h0m1 -3.2h0m1 -3.5h0m1 -3.8h0m1 -3.8h0m1 -3.7h0m1 -3.5h0m1 -3h0m1 -2.5h0m1 -1.6h0m1 -0.8h0m1 0.4h0m1 1.7h0m1 2.6h0m1 3.4h0m1 4h0m1 4.3h0m1 4.4h0m1 4.2h0m1 4h0m1 3.3h0m1 2.5h0m1 1.6h0m1 0.2h0m1 -1h0m1 -2.3h0m1 -3.2h0m1 -3.8h0m1 -4.3h0m1 -4.6h0m1 -4.6h0m1 -4.3h0m1 -3.8h0m1 -3.2h0m1 -2.3h0m1 -1h0m1 0.2h0m1 1.3h0m1 2.2h0m1 3h0m1 3.4h0m1 3.9h0m1 4h0m1 4.1h0m1 3.9h0m1 3.5h0m1 3h0m1 2.3h0m1 1.4h0m1 0.4h0m1 -0.9h0m1 -1.9h0m1 -2.8h0m1 -3.4h0m1 -3.9h0m1 -4.1h0m1 -4.1h0m1 -3.9h0m1 -3.6h0m1 -2.9h0m1 -2.1h0m1 -1.1h0m1 0.1h0m1 1.2h0m1 2.2h0m1 2.8h0m1 3.5h0m1 3.8h0m1 4h0m1 4.1h0m1 3.9h0m1 3.6h0m1 3h0m1 2.4h0m1 1.5h0m1 0.5h0m1 -0.3h0m1 -0.9h0m1 -1.5h0m1 -1.9h0m1 -2.5h0m1 -3h0m1 -3.4h0m1 -3.9h0m1 -4.4h0m1 -4.9h0m1 -5.2h0m1 -5.7h0m1 -6.1h0" stroke="#5247fc" stroke-width="3.8" stroke-linecap="round" fill="none"/>
<path d="M1142.2 819h0m1 2.6h0m1 0.6h0m1 1.8h0m1 0.3h0m1 -3.1h0m1 -1.8h0m1 -1h0m1 -3.6h0m1 -3.2h0m1 -1.5h0m1 -3.5h0m1 -4.5h0m1 -2.3h0m1 -3h0m1 -4.3h0m1 -2.4h0m1 -1.6h0m1 -3.1h0m1 -0.6h0m1 1.9h0m1 0.1h0m1 0.2h0m1 2.7h0m1 1.5h0m1 0.3h0m1 3.4h0m1 3.5h0m1 0.9h0m1 1.5h0m1 2.3h0m1 -0.2h0m1 0h0m1 2.1h0m1 0.5h0m1 -0.5h0m1 1.8h0m1 1.3h0m1 -0.7h0m1 1.2h0m1 2.2h0m1 0h0m1 1.3h0m1 3.6h0m1 1.8h0m1 1.1h0m1 3.1h0m1 2h0m1 0.2h0m1 2h0m1 2h0m1 -1.2h0m1 -1.3h0m1 -0.5h0m1 -3.2h0m1 -3.6h0m1 -1.2h0m1 -2.5h0m1 -4.3h0m1 -2.2h0m1 -1.8h0m1 -3.6h0m1 -2.2h0m1 -0.3h0m1 -1.5h0m1 -0.1h0m1 2.6h0m1 1.4h0m1 0.5h0m1 3.1h0m1 3.6h0m1 2h0m1 3.8h0m1 4.4h0m1 1.2h0m1 1.4h0m1 3.1h0m1 1.1h0m1 0.2h0m1 2.7h0m1 1.6h0m1 -0.2h0m1 1.7h0m1 2.2h0m1 -0.1h0m1 1.1h0m1 2.8h0m1 0.7h0m1 0.5h0m1 2.8h0m1 1.4h0m1 0h0m1 2.4h0m1 2.4h0m1 -0.1h0m1 0.9h0m1 1.5h0m1 -2.3h0m1 -3.4h0m1 -1.8h0m1 -3.6h0m1 -4.9h0m1 -3.3h0m1 -4h0m1 -5.9h0m1 -3.5h0m1 -2.6h0m1 -4.5h0m1 -2.8h0m1 -0.5h0m1 -1.9h0m1 -1.8h0m1 1.6h0m1 1.4h0m1 0h0m1 2.2h0m1 2.5h0m1 0h0m1 1.3h0m1 2.9h0m1 0.8h0m1 0.3h0m1 2.3h0m1 0.5h0m1 -1.5h0m1 0.9h0m1 0.9h0m1 -1.5h0m1 0.1h0m1 1.4h0m1 -0.9h0m1 0h0m1 3h0m1 1.8h0m1 0.8h0m1 3h0m1 2.4h0m1 0.7h0m1 2.5h0m1 3.4h0m1 0.5h0m1 0.7h0m1 1.7h0m1 -1.3h0m1 -2.9h0m1 -1.1h0m1 -2.3h0m1 -4.1h0m1 -2.1h0m1 -2.2h0m1 -4.9h0m1 -3.6h0m1 -1.6h0m1 -4h0m1 -4.1h0m1 -1.2h0m1 -1h0m1 -1.4h0m1 1h0m1 1h0m1 -1.1h0m1 0.3h0m1 1.8h0m1 -0.2h0m1 0.3h0m1 2.3h0m1 0.2h0m1 -1.6h0m1 0.2h0m1 -0.6h0m1 -2.8h0m1 -0.9h0m1 0.2h0m1 -2.5h0m1 -1.8h0m1 0.3h0m1 -1.3h0m1 -1.5h0m1 1.6h0m1 1.3h0m1 -0.1h0m1 2.2h0m1 2.9h0m1 0.4h0m1 1.5h0m1 3.5h0m1 1.7h0m1 1.3h0m1 3h0m1 0.8h0m1 -1.7h0m1 -0.3h0m1 -0.8h0m1 -3.4h0m1 -1.9h0m1 -0.4h0m1 -2.4h0m1 -2h0m1 0.1h0m1 -1.5h0m1 -2.4h0m1 0.3h0m1 0.2h0m1 -1.3h0m1 1.4h0m1 2.8h0m1 0.7h0m1 1.5h0m1 3.3h0m1 1.1h0m1 0.3h0m1 2.8h0m1 1.8h0m1 -0.1h0m1 1.7h0m1 1.6h0m1 -1.3h0m1 -0.8h0m1 0.4h0m1 -2.1h0m1 -2.4h0m1 -0.1h0m1 -1.3h0m1 -2.3h0m1 0.3h0m1 1h0m1 -0.8h0m1 1h0m1 2.6h0m1 0.4h0m1 0.8h0m1 2.9h0m1 1.1h0m1 -0.1h0m1 1.8h0m1 1.1h0m1 -1.7h0m1 -0.5h0m1 -0.2h0m1 -3.1h0m1 -2.7h0m1 -0.9h0m1 -2.9h0m1 -3.5h0m1 -1h0m1 -1.4h0m1 -2.7h0m1 -0.1h0m1 1.1h0m1 -0.7h0m1 0.9h0m1 2.9h0m1 1h0m1 0.9h0m1 3.3h0m1 2.5h0m1 1.9h0m1 4.5h0m1 4.3h0m1 1.3h0m1 1.8h0m1 2.6h0m1 0.3h0m1 0.2h0m1 2.3h0m1 0.6h0m1 -0.7h0m1 1.7h0m1 1h0m1 -1.1h0m1 0.7h0m1 1.6h0m1 -0.8h0m1 0h0m1 2.1h0m1 0.4h0m1 0.1h0m1 2.6h0m1 1.6h0m1 -0.4h0m1 1.2h0m1 0.9h0m1 -2.2h0m1 -1.9h0m1 -0.6h0m1 -3.1h0m1 -3.5h0m1 -1h0m1 -2.6h0m1 -4.6h0m1 -2.5h0m1 -2.4h0m1 -4.3h0m1 -2.2h0m1 -1h0m1 -3.1h0m1 -2.3h0m1 0.9h0m1 0.1h0m1 -0.8h0m1 2h0m1 1.6h0m1 -0.3h0m1 1.4h0m1 2.4h0m1 0.4h0m1 1.3h0m1 3.2h0m1 0.9h0m1 -0.5h0m1 1.5h0m1 0.5h0m1 -1.4h0m1 0.7h0m1 1.2h0m1 -1.2h0m1 -0.1h0m1 1.7h0m1 -0.2h0m1 -0.1h0m1 2.4h0m1 1.3h0m1 -0.1h0m1 2.1h0m1 2.4h0m1 0.5h0m1 2.3h0m1 3.7h0m1 1.2h0m1 1h0m1 2.6h0m1 0.2h0m1 -1.9h0m1 -0.3h0m1 -1.4h0m1 -3.9h0m1 -2.3h0m1 -1.6h0m1 -4h0m1 -4.5h0m1 -3.3h0m1 -5.2h0m1 -4.9h0m1 -0.9h0m1 -0.6h0m1 -2.3h0m1 -0.1h0m1 0.6h0m1 -1.6h0m1 -0.2h0m1 1.7h0m1 -0.3h0m1 -0.5h0m1 1.9h0m1 0.4h0m1 -1.3h0m1 0.7h0m1 0.2h0m1 -2.4h0m1 -1h0m1 0.3h0m1 -2h0m1 -1.4h0m1 0.8h0m1 -0.9h0m1 -1.8h0m1 0.9h0m1 0.9h0m1 -0.7h0m1 1.6h0m1 2.6h0m1 0.3h0m1 1.5h0m1 3.8h0m1 2h0m1 1.2h0m1 3.4h0m1 2.6h0m1 0.8h0m1 2.6h0m1 2.2h0m1 -1.4h0m1 -1.2h0m1 -0.1h0m1 -2.5h0m1 -2.8h0m1 -0.2h0m1 -0.8h0m1 -2h0m1 0.4h0m1 0.4h0m1 -1.7h0m1 -0.2h0m1 1.2h0m1 -0.9h0m1 -0.3h0m1 2.2h0m1 0.9h0m1 0h0m1 2.4h0m1 1.9h0m1 -0.4h0m1 1.2h0m1 1.7h0m1 -1.2h0m1 -1.1h0m1 0.1h0m1 -2.1h0m1 -3h0m1 -0.7h0m1 -1.4h0m1 -2.9h0m1 -0.7h0m1 -0.2h0m1 -2.6h0m1 -1.3h0m1 0.8h0m1 -0.9h0m1 -0.5h0m1 2.3h0m1 1.3h0m1 -0.1h0m1 2.2h0m1 2.2h0m1 0.3h0m1 2h0m1 2.9h0m1 0.2h0m1 -0.5h0m1 1h0m1 -1h0m1 -2.4h0m1 -0.2h0m1 -0.7h0m1 -2.7h0m1 -0.8h0m1 0.3h0m1 -1.7h0m1 -0.5h0m1 1.9h0m1 0.2h0m1 0h0m1 2.5h0m1 1.9h0m1 0.1h0m1 2.2h0m1 3h0m1 1.2h0m1 2.7h0m1 4.1h0m1 1.4h0m1 1h0m1 3.3h0m1 1.5h0m1 -0.8h0m1 0.8h0m1 0.6h0m1 -1.8h0m1 -0.4h0m1 0.8h0m1 -1.5h0m1 -1.3h0m1 0.9h0m1 -0.9h0m1 -2.1h0m1 0.3h0m1 0h0m1 -1.8h0m1 0.5h0m1 1.8h0m1 -0.3h0m1 0.6h0m1 2.5h0m1 0.4h0m1 -0.5h0m1 1.5h0m1 -0.1h0m1 -2.7h0m1 -1.2h0m1 -1.2h0m1 -3.7h0m1 -2.7h0m1 -0.8h0m1 -2.7h0m1 -3h0m1 -0.9h0m1 -2.2h0m1 -3.5h0m1 -1h0m1 -0.5h0m1 -2.1h0m1 0.1h0m1 1.9h0m1 -0.1h0m1 0.5h0m1 2.7h0m1 1.1h0m1 0h0m1 2.5h0m1 2.5h0m1 0.6h0m1 2.2h0m1 2.8h0m1 -0.2h0m1 -0.3h0m1 1.3h0m1 -0.7h0m1 -1.5h0m1 0.8h0m1 0h0m1 -1.8h0m1 0.4h0m1 0.9h0m1 -1.2h0m1 0.2h0m1 2.3h0m1 0.2h0m1 0.2h0m1 2.4h0m1 1.4h0m1 0.3h0m1 2.8h0m1 2.8h0m1 0.3h0m1 1.4h0m1 2.2h0m1 -1h0m1 -1.7h0m1 -0.2h0m1 -2.4h0m1 -3.8h0m1 -1.6h0m1 -2h0m1 -4.2h0m1 -2.9h0m1 -2.1h0m1 -4.2h0m1 -3.1h0m1 -1.2h0m1 -2.5h0m1 -1.8h0m1 1.5h0m1 0.9h0m1 -0.7h0m1 1.5h0m1 2.1h0m1 -0.3h0m1 0.6h0m1 2.2h0m1 -0.3h0m1 -0.9h0m1 1.2h0m1 -0.2h0m1 -1.9h0m1 0.4h0m1 0.2h0m1 -2h0m1 -0.5h0m1 0.9h0m1 -1.4h0m1 -1h0m1 1.4h0m1 0.1h0m1 -0.8h0m1 1.9h0m1 1.6h0m1 -0.2h0m1 1.6h0m1 2.8h0m1 1.4h0m1 2.5h0m1 4.2h0m1 1.6h0m1 0.8h0m1 3.1h0m1 1.9h0m1 -0.2h0m1 1.1h0m1 0.5h0m1 -3.2h0m1 -3h0m1 -1.5h0m1 -3.3h0m1 -2.7h0m1 -0.1h0m1 -1.3h0m1 -2.7h0m1 -0.3h0m1 -0.1h0m1 -2.1h0m1 -0.3h0m1 1.4h0m1 -0.5h0m1 -0.1h0m1 2.3h0m1 0.7h0m1 -0.3h0m1 1.8h0m1 1.2h0m1 -1.2h0m1 0.2h0m1 0.9h0m1 -1.8h0m1 -1.3h0m1 0.7h0m1 -1.3h0m1 -2.1h0m1 -0.1h0m1 -0.9h0m1 -2.8h0m1 -0.6h0m1 0.2h0m1 -1.8h0m1 -0.1h0m1 2.3h0m1 0.7h0m1 0.8h0m1 3.4h0m1 2h0m1 0.3h0m1 2.7h0m1 3h0m1 0.8h0m1 2.1h0m1 3h0m1 0h0m1 -0.6h0m1 1.2h0m1 -0.8h0m1 -2.1h0m1 0.2h0m1 -0.2h0m1 -2.2h0m1 -0.3h0m1 0.6h0m1 -1.8h0m1 -1.1h0m1 0.9h0m1 -0.8h0m1 -1.4h0m1 1.3h0m1 0.9h0m1 -0.7h0m1 1.6h0m1 2.1h0m1 0.4h0m1 2.1h0m1 3h0m1 -0.6h0m1 -1.2h0m1 0.8h0m1 -0.6h0m1 -2.2h0m1 0.2h0m1 0.2h0m1 -1.9h0m1 -0.5h0m1 0.9h0m1 -1.4h0m1 -1.2h0m1 1.1h0m1 -0.5h0m1 -1.5h0m1 1.1h0m1 1h0m1 -0.9h0m1 1.1h0m1 2h0m1 -0.4h0m1 0.2h0m1 2.1h0m1 0.3h0m1 -0.4h0m1 1.9h0m1 1h0m1 -1h0m1 0.8h0m1 0.9h0m1 -2.3h0m1 -1.7h0m1 -0.4h0m1 -2.8h0m1 -2.8h0m1 -0.3h0m1 -1.4h0m1 -3h0m1 -0.7h0m1 -0.5h0m1 -2.4h0m1 -0.3h0m1 1.6h0m1 -0.4h0m1 0.1h0m1 2.5h0m1 0.9h0m1 -0.2h0m1 2.7h0m1 2.5h0m1 0.6h0m1 2.2h0m1 2.5h0m1 -0.7h0m1 -0.1h0m1 1.7h0m1 -0.3h0m1 -1h0m1 1.3h0m1 0.2h0m1 -2h0m1 -0.3h0m1 0.1h0m1 -2.3h0m1 -0.9h0m1 1h0m1 -0.6h0m1 -0.6h0m1 2h0m1 0.8h0m1 -0.5h0m1 1.6h0m1 1.8h0m1 -0.1h0m1 1.4h0m1 2.5h0m1 -0.1h0m1 -0.5h0m1 1.1h0m1 -0.9h0m1 -2.2h0m1 -0.1h0m1 -0.8h0m1 -4.2h0m1 -2.9h0m1 -2.1h0m1 -3.6h0m1 -2.3h0m1 -0.3h0m1 -2.2h0m1 -2.8h0m1 -0.1h0m1 -0.7h0m1 -2.2h0m1 0.3h0m1 1.2h0m1 -1h0m1 0.4h0m1 2.2h0m1 0.1h0m1 0h0m1 3.5h0m1 2.3h0m1 -0.7h0m1 1.5h0m1 1.3h0m1 -1.1h0m1 0.3h0m1 1.5h0m1 -1.4h0m1 -1.7h0m1 0.3h0m1 -1h0m1 -1.5h0m1 1.2h0m1 0.8h0m1 -1.1h0m1 0.8h0m1 1.7h0m1 -0.6h0m1 0.1h0m1 2.5h0m1 0.8h0m1 0.4h0m1 2.9h0m1 2h0m1 0.3h0m1 2.9h0m1 3.3h0m1 0.4h0m1 0.4h0m1 0.9h0m1 -1.8h0m1 -2.6h0m1 -0.4h0m1 -1.8h0m1 -3.2h0m1 -1.2h0m1 -1.6h0m1 -3.9h0m1 -2h0m1 -0.2h0m1 -1.7h0m1 -1.3h0m1 0.9h0m1 -0.6h0m1 -1.6h0m1 1h0m1 0.7h0m1 -0.8h0m1 1.2h0m1 2.2h0m1 -0.1h0m1 0.5h0m1 2.4h0m1 0.5h0m1 -0.1h0m1 2.1h0m1 0.9h0m1 -1.3h0m1 0.1h0m1 0.2h0m1 -2.4h0m1 -1.3h0m1 0.7h0m1 -1.2h0m1 -1.2h0m1 1h0m1 -0.1h0m1 -1.6h0m1 0.8h0m1 1.1h0m1 -0.2h0m1 1.8h0m1 3.5h0m1 1.1h0m1 1h0m1 3h0m1 1.6h0m1 0.4h0m1 2.7h0m1 2h0m1 -0.5h0m1 0.7h0m1 0.8h0m1 -2.2h0m1 -2h0m1 -0.3h0m1 -2.2h0m1 -2.8h0m1 0h0m1 -0.7h0m1 -2.6h0m1 -0.5h0m1 0.1h0m1 -2.1h0m1 -0.7h0m1 1.3h0m1 -0.6h0m1 -0.8h0m1 1.6h0m1 0.5h0m1 -0.8h0m1 1.6h0m1 1.7h0m1 -0.4h0m1 1.4h0m1 2.7h0m1 0.7h0m1 1.1h0" stroke="#2489f5" stroke-width="3.8" stroke-linecap="round" fill="none"/>
<path d="M1141.9 489.6h0m1 3.6h0m1 2h0m1 0.8h0m1 3.1h0m1 -2.1h0m1 -0.6h0m1 2.2h0m1 -3.5h0m1 -3.9h0m1 -1.9h0m1 -5.3h0m1 -3.8h0m1 -1.8h0m1 -3.5h0m1 0.3h0m1 -2.6h0m1 -3h0m1 -1.2h0m1 -0.5h0m1 0.5h0m1 -2.1h0m1 1h0m1 -2.1h0m1 -0.2h0m1 -1.1h0m1 2.4h0m1 -4.1h0m1 1h0m1 -0.8h0m1 -0.4h0m1 -1.9h0m1 -2.7h0m1 -2.5h0m1 -2.7h0m1 -4.5h0m1 -1.6h0m1 -3.5h0m1 -0.8h0m1 0.9h0m1 -2.6h0m1 -0.9h0m1 0.4h0m1 -3.4h0m1 0.7h0m1 0.1h0m1 -0.6h0m1 -2.8h0m1 -0.7h0m1 -1.8h0m1 0.2h0m1 -3.4h0m1 -0.6h0m1 -4.9h0m1 -6h0m1 -3.7h0m1 -4.4h0m1 -8.7h0m1 -6.1h0m1 -4.8h0m1 -0.3h0m1 -3.8h0m1 -3.3h0m1 -4.7h0m1 -6.5h0m1 -2.1h0m1 -1.2h0m1 -4.6h0m1 2h0m1 -1.8h0m1 2.3h0m1 0.9h0m1 1h0m1 0.9h0m1 -1.4h0m1 1.2h0m1 -1.3h0m1 1.2h0m1 -2.1h0m1 -0.9h0m1 -0.3h0m1 -3.4h0m1 -0.3h0m1 0.4h0m1 -1.9h0m1 -2.8h0m1 -0.6h0m1 0h0m1 2.3h0m1 0.6h0m1 4.4h0m1 0.2h0m1 3.1h0m1 3.4h0m1 2.4h0m1 3.2h0m1 1.5h0m1 -0.7h0m1 0.1h0m1 1.2h0m1 -3h0m1 -0.8h0m1 -3h0m1 -1.8h0m1 -2.4h0m1 -3.8h0m1 -5.7h0m1 -2.5h0m1 -2.8h0m1 -2.9h0m1 -0.8h0m1 -1.9h0m1 0.5h0m1 -0.1h0m1 2.9h0m1 0.9h0m1 0.7h0m1 1.2h0m1 1.7h0m1 3.2h0m1 3.4h0m1 4.6h0m1 2.4h0m1 0.2h0m1 2.6h0m1 2.2h0m1 0.7h0m1 0.6h0m1 0.6h0m1 3.6h0m1 2.6h0m1 0.3h0m1 1.7h0m1 4.7h0m1 1.2h0m1 3.4h0m1 4.5h0m1 9.1h0m1 4h0m1 3.4h0m1 4.6h0m1 3.1h0m1 3.4h0m1 3.2h0m1 1.6h0m1 1.8h0m1 0.3h0m1 0.4h0m1 0.4h0m1 -1h0m1 1.8h0m1 -2.4h0m1 1.4h0m1 -3.2h0m1 2h0m1 -0.9h0m1 1.4h0m1 1.4h0m1 0.1h0m1 1.5h0m1 2.2h0m1 2.4h0m1 3h0m1 1.5h0m1 -0.3h0m1 1.8h0m1 0.2h0m1 0h0m1 2h0m1 -1.3h0m1 0.2h0m1 0.4h0m1 0.1h0m1 0.1h0m1 -0.2h0m1 0.3h0m1 1.6h0m1 -2.9h0m1 0.3h0m1 1.8h0m1 0.6h0m1 -0.9h0m1 4.2h0m1 4.3h0m1 4.4h0m1 4.5h0m1 3.3h0m1 1.3h0m1 3.4h0m1 2.2h0m1 2.5h0m1 3.5h0m1 -0.6h0m1 -2.7h0m1 -2.1h0m1 -1.2h0m1 -3.4h0m1 -4.7h0m1 -2h0m1 -0.3h0m1 0h0m1 -1.8h0m1 -0.3h0m1 -0.4h0m1 -0.2h0m1 -1.2h0m1 0.5h0m1 1.6h0m1 -1.7h0m1 -0.7h0m1 0.5h0m1 -2.3h0m1 -0.1h0m1 -1.7h0m1 -3.9h0m1 -0.1h0m1 -1.5h0m1 -4.5h0m1 -1.5h0m1 -1h0m1 -1.7h0m1 -5.4h0m1 -1.6h0m1 -1.1h0m1 -5.2h0m1 -2.4h0m1 -1.9h0m1 -4.1h0m1 -0.7h0m1 -3.3h0m1 -2.3h0m1 -1.7h0m1 -2.6h0m1 -0.4h0m1 -0.9h0m1 -4.9h0m1 0.7h0m1 -2.8h0m1 -2.9h0m1 -0.5h0m1 -3.6h0m1 -4.5h0m1 -3.1h0m1 -1.6h0m1 -6.7h0m1 -1.9h0m1 -1.9h0m1 -1.2h0m1 -2.4h0m1 -3.7h0m1 -1.2h0m1 3.3h0m1 2.5h0m1 -1h0m1 1.7h0m1 4.5h0m1 3.2h0m1 2.2h0m1 1.9h0m1 3h0m1 -1.1h0m1 3.2h0m1 -2.2h0m1 2.3h0m1 -1.1h0m1 0.8h0m1 -2.8h0m1 -1.9h0m1 -1.8h0m1 -1.5h0m1 -0.3h0m1 -0.9h0m1 -1.6h0m1 1.3h0m1 2h0m1 -0.3h0m1 1.9h0m1 3.2h0m1 1.1h0m1 -0.3h0m1 1.1h0m1 -3.3h0m1 0h0m1 0.6h0m1 -0.3h0m1 -2.1h0m1 -1.2h0m1 -3.7h0m1 -2.7h0m1 -3.5h0m1 -1.1h0m1 -4.7h0m1 -5h0m1 -1.8h0m1 -2.7h0m1 -4.8h0m1 -2.4h0m1 -1.6h0m1 0.8h0m1 -0.7h0m1 2.6h0m1 1.5h0m1 1.2h0m1 2h0m1 1.9h0m1 2.5h0m1 3.6h0m1 3.6h0m1 1.2h0m1 4.8h0m1 2.1h0m1 1.9h0m1 1.9h0m1 1h0m1 1.4h0m1 2.6h0m1 0.4h0m1 3.7h0m1 2.8h0m1 2.4h0m1 1.1h0m1 3.6h0m1 1.8h0m1 1.8h0m1 2.9h0m1 5.4h0m1 0.5h0m1 5.6h0m1 1.3h0m1 2.9h0m1 3.9h0m1 6.5h0m1 2.3h0m1 -0.5h0m1 1.6h0m1 2.3h0m1 1.5h0m1 0.3h0m1 0.3h0m1 -0.7h0m1 -2h0m1 -5.2h0m1 -1.8h0m1 -2.7h0m1 -1.2h0m1 -3.6h0m1 2.1h0m1 -0.9h0m1 -0.8h0m1 3.1h0m1 1.6h0m1 -0.1h0m1 1.4h0m1 -0.1h0m1 0h0m1 1.2h0m1 -0.8h0m1 0.9h0m1 -2.2h0m1 -0.2h0m1 -1.1h0m1 0h0m1 -0.2h0m1 -1.2h0m1 1.9h0m1 -0.1h0m1 1.6h0m1 1h0m1 -1.1h0m1 0.4h0m1 1.4h0m1 0.2h0m1 1.3h0m1 5.8h0m1 3.3h0m1 2.9h0m1 4h0m1 2.9h0m1 0.2h0m1 1.5h0m1 4.9h0m1 0.5h0m1 1.9h0m1 3.4h0m1 -0.5h0m1 -1.4h0m1 -0.2h0m1 -2.3h0m1 -2.6h0m1 -4.4h0m1 -1.4h0m1 -3.5h0m1 -1.5h0m1 0.5h0m1 0.6h0m1 -0.2h0m1 -3h0m1 2.5h0m1 -2.7h0m1 0.5h0m1 -0.6h0m1 -3.2h0m1 -0.6h0m1 -1.3h0m1 -3.7h0m1 -0.7h0m1 -5.4h0m1 -0.5h0m1 -3.7h0m1 -4.5h0m1 -1.9h0m1 -3.6h0m1 -2.3h0m1 -2.5h0m1 -3.9h0m1 -0.3h0m1 -3.6h0m1 -0.3h0m1 2.4h0m1 -1.4h0m1 1.8h0m1 -0.9h0m1 2h0m1 0.9h0m1 -1.5h0m1 2.9h0m1 -1.6h0m1 -0.1h0m1 0.3h0m1 -2.4h0m1 -1.9h0m1 -4.4h0m1 0.8h0m1 -2.1h0m1 -1.5h0m1 -4.9h0m1 -0.1h0m1 0.9h0m1 -1.9h0m1 -2.2h0m1 -1.3h0m1 -1.7h0m1 1.7h0m1 2.2h0m1 -1.4h0m1 3.4h0m1 2.7h0m1 0.1h0m1 3.3h0m1 1.9h0m1 3.3h0m1 1.7h0m1 1h0m1 -0.3h0m1 -1.5h0m1 -1.2h0m1 -2.6h0m1 -1.1h0m1 -2.1h0m1 -3.2h0m1 -0.1h0m1 -2.3h0m1 -5h0m1 -0.4h0m1 -3.2h0m1 -1.1h0m1 -3.1h0m1 0h0m1 0h0m1 1.9h0m1 0.3h0m1 3.3h0m1 -0.8h0m1 3.7h0m1 0.6h0m1 0.2h0m1 1.1h0m1 -3.2h0m1 -1.6h0m1 1.8h0m1 -3.4h0m1 -1.3h0m1 -3h0m1 -4.2h0m1 -3.1h0m1 -4h0m1 -4.1h0m1 -1.4h0m1 0.1h0m1 1h0m1 1.1h0m1 1.8h0m1 1.5h0m1 -0.3h0m1 3.2h0m1 3.7h0m1 1.5h0m1 7.1h0m1 1.4h0m1 3.6h0m1 1.8h0m1 1.8h0m1 3.8h0m1 -1.5h0m1 2.7h0m1 3.8h0m1 0.5h0m1 1.1h0m1 0.5h0m1 1.9h0m1 2.1h0m1 0.9h0m1 1.6h0m1 3.3h0m1 -0.5h0m1 0.2h0m1 4h0m1 2.5h0m1 1.8h0m1 5.1h0m1 0h0m1 3.9h0m1 1h0m1 -0.4h0m1 1.2h0m1 0.2h0m1 2.9h0m1 1.3h0m1 -2.3h0m1 2.2h0m1 1h0m1 -1.8h0m1 -2.4h0m1 -1.7h0m1 -5.4h0m1 -3.5h0m1 -3.9h0m1 -1.6h0m1 1.1h0m1 -2.4h0m1 0.5h0m1 -0.6h0m1 2.4h0m1 -0.7h0m1 0.9h0m1 2.2h0m1 -1.3h0m1 0.8h0m1 0.6h0m1 0.6h0m1 0.8h0m1 -0.3h0m1 -1.8h0m1 1.8h0m1 -2.2h0m1 0.8h0m1 -2.1h0m1 0h0m1 -0.8h0m1 0h0m1 2.9h0m1 -0.7h0m1 0.2h0m1 4.2h0m1 0.4h0m1 4.5h0m1 3.5h0m1 1.4h0m1 4.7h0m1 1h0m1 5.3h0m1 -0.5h0m1 4.1h0m1 3h0m1 1.3h0m1 0.1h0m1 2.3h0m1 0.5h0m1 -3h0m1 1.9h0m1 -2.3h0m1 -0.7h0m1 -4.7h0m1 -1.1h0m1 -4.4h0m1 -3h0m1 -4.8h0m1 -0.2h0m1 -2.1h0m1 -0.9h0m1 0.3h0m1 0.3h0m1 -0.3h0m1 -0.3h0m1 -3.2h0m1 0.8h0m1 -0.2h0m1 -1.8h0m1 0.7h0m1 -0.3h0m1 -3.4h0m1 -2.3h0m1 -2.9h0m1 0.3h0m1 -3.9h0m1 -1.5h0m1 -4.3h0m1 0.6h0m1 -1.4h0m1 -2.4h0m1 -3.4h0m1 -1.7h0m1 -2.1h0m1 -0.9h0m1 -2.2h0m1 1.8h0m1 -2.2h0m1 1.6h0m1 0h0m1 2.8h0m1 0.8h0m1 1.2h0m1 0.4h0m1 1h0m1 2h0m1 -1.6h0m1 -1.1h0m1 2h0m1 -2.4h0m1 3.4h0m1 -0.3h0m1 0.2h0m1 -3.5h0m1 -0.2h0m1 -4.9h0m1 1.6h0m1 -0.7h0m1 -2.5h0m1 1.9h0m1 -1h0m1 -0.7h0m1 1.8h0m1 -1.4h0m1 3.2h0m1 1h0m1 -2.4h0m1 2.7h0m1 1.8h0m1 1.3h0m1 -2.2h0m1 3h0m1 0.8h0m1 -1.9h0m1 -1.9h0m1 -1.5h0m1 -1h0m1 -4.8h0m1 -2.4h0m1 -0.8h0m1 -3.6h0m1 0.1h0m1 0.2h0m1 -4.7h0m1 0.3h0m1 0h0m1 -1.3h0m1 0.3h0m1 0.4h0m1 -2.3h0m1 2.9h0m1 1.1h0m1 2.9h0m1 -1h0m1 4.3h0m1 -1.1h0m1 2h0m1 -0.1h0m1 2.8h0m1 -1.9h0m1 -2.5h0m1 -0.4h0m1 -0.4h0m1 1.1h0m1 -3.6h0m1 -1.8h0m1 -0.4h0m1 0.5h0m1 -2.8h0m1 1.3h0m1 0.1h0m1 -0.9h0m1 -0.7h0m1 1.3h0m1 3.2h0m1 0.5h0m1 5.2h0m1 2.2h0m1 1.4h0m1 2.1h0m1 5.9h0m1 1.9h0m1 2.3h0m1 -1h0m1 0.2h0m1 0.6h0m1 -2.4h0m1 1.3h0m1 0.3h0m1 -3.1h0m1 1.4h0m1 -0.3h0m1 0.8h0m1 0.2h0m1 -1.6h0m1 0.5h0m1 1.9h0m1 2.1h0m1 0.2h0m1 3h0m1 1.3h0m1 -0.2h0m1 1.8h0m1 -0.2h0m1 2.4h0m1 2.7h0m1 -0.3h0m1 4.2h0m1 -1.4h0m1 1.3h0m1 -0.4h0m1 0.6h0m1 -1.6h0m1 -1.5h0m1 -4.6h0m1 -1.7h0m1 -2.2h0m1 -2.1h0m1 -1.6h0m1 -1h0m1 -2.5h0m1 -2.4h0m1 0.5h0m1 3.8h0m1 1.1h0m1 0.2h0m1 1.6h0m1 3.2h0m1 2.3h0m1 0.6h0m1 1.5h0m1 0.5h0m1 1.7h0m1 -1.1h0m1 3.3h0m1 -0.6h0m1 2.5h0m1 -1.6h0m1 0.6h0m1 0.6h0m1 2.5h0m1 -1.3h0m1 1.6h0m1 -0.5h0m1 3.3h0m1 -1.6h0m1 2.9h0m1 -0.6h0m1 1.5h0m1 -1.4h0m1 2.4h0m1 -0.4h0m1 1.5h0m1 1.1h0m1 2.9h0m1 0h0m1 2.9h0m1 0.8h0m1 2.4h0m1 2.9h0m1 -3h0m1 -0.1h0m1 -0.3h0m1 -1h0m1 -1.3h0m1 -0.2h0m1 -2.1h0m1 -1h0m1 -4.6h0m1 0.9h0m1 -3h0m1 0.8h0m1 -4.5h0m1 1.5h0m1 -4.1h0m1 2.3h0m1 -1.6h0m1 -3.9h0m1 1.3h0m1 -1.2h0m1 -2.9h0m1 -0.5h0m1 -3.9h0m1 -2h0m1 -0.4h0m1 -2.8h0m1 -0.4h0m1 -2.6h0m1 -1.1h0m1 -2h0m1 -1.7h0m1 1.6h0m1 -1.7h0m1 -0.2h0m1 -1.6h0m1 -0.1h0m1 0.5h0m1 1.7h0m1 -2.1h0m1 1.9h0m1 -0.1h0m1 0.7h0m1 0.7h0m1 -0.7h0m1 1h0m1 2.2h0m1 2.3h0m1 0.9h0m1 0.9h0m1 2.9h0m1 0.8h0m1 2.8h0m1 1.9h0m1 -2.8h0m1 -0.4h0m1 -2.4h0m1 -2h0m1 -1.6h0m1 -1.4h0m1 -3h0m1 -3.1h0m1 -3.6h0m1 -1.8h0m1 -1h0m1 -2.5h0m1 1.1h0m1 -2.3h0m1 0.7h0m1 1.1h0m1 -0.6h0m1 0.1h0m1 1.5h0m1 -0.9h0m1 2.9h0m1 1.6h0m1 0.5h0m1 0.5h0m1 2.2h0m1 2.4h0" stroke="#0ac0e8" stroke-width="3.6" stroke-linecap="round" fill="none"/>
<path d="M1141.6 806.1h0m1 -2.7h0m1 5.6h0m1 0.8h0m1 1.9h0m1 4.2h0m1 0.9h0m1 5.9h0m1 -1.8h0m1 8.2h0m1 0.8h0m1 9.2h0m1 6.6h0m1 -845.1h0m1 6.2h0m1 1.4h0m1 6.1h0m1 -0.5h0m1 8.9h0m1 0.4h0m1 5.5h0m1 0.6h0m1 2.8h0m1 2.2h0m1 -2.8h0m1 3.2h0m1 -4.3h0m1 3.2h0m1 -5.4h0m1 2.3h0m1 -4.9h0m1 0.9h0m1 -3.5h0m1 -5.2h0m1 -0.2h0m1 -6.3h0m1 2.6h0m1 -6.9h0m1 2.3h0m1 -5.2h0m1 1.1h0m1 -1.1h0m1 -0.3h0m1 1.3h0m1 -3.1h0m1 5h0m1 -4.4h0m1 4.5h0m1 -3.3h0m1 4.7h0m1 0.4h0m1 1.4h0m1 4.2h0m1 -1.4h0m1 7.3h0m1 -2.5h0m1 9.7h0m1 -2.5h0m1 7.8h0m1 -0.1h0m1 5.4h0m1 3h0m1 0.9h0m1 7.6h0m1 -0.7h0m1 7.8h0m1 -4h0m1 4.7h0m1 -1.4h0m1 1.9h0m1 0.8h0m1 -1.6h0m1 0.9h0m1 -5.7h0m1 1.9h0m1 -6.3h0m1 2.1h0m1 -5.1h0m1 -0.1h0m1 -2.7h0m1 -4.2h0m1 0h0m1 -4.5h0m1 2.4h0m1 -7h0m1 3.6h0m1 -6.5h0m1 3.2h0m1 -2.4h0m1 1.8h0m1 2.1h0m1 -2.5h0m1 6.1h0m1 -2.4h0m1 5.5h0m1 -3.8h0m1 5.7h0m1 -1.5h0m1 2.8h0m1 1.8h0m1 -0.8h0m1 5.9h0m1 -2h0m1 8.8h0m1 -1.8h0m1 6.7h0m1 -1.4h0m1 6.7h0m1 3.3h0m1 1.9h0m1 3.9h0m1 -4.5h0m1 5.7h0m1 -6.5h0m1 5.4h0m1 -4.6h0m1 1.1h0m1 -1.5h0m1 -4h0m1 1.3h0m1 -6.9h0m1 2.8h0m1 -7.5h0m1 3h0m1 -7.1h0m1 -1h0m1 -4.6h0m1 -1.5h0m1 -2.3h0m1 -5.1h0m1 0.7h0m1 -7.5h0m1 2.5h0m1 -6.4h0m1 4.1h0m1 -4h0m1 -0.9h0m1 0.4h0m1 -1.3h0m1 3.1h0m1 -4.1h0m1 6.2h0m1 -5.3h0m1 6h0m1 -3.2h0m1 2.2h0m1 -0.3h0m1 -0.2h0m1 4.5h0m1 -2.9h0m1 4h0m1 -4.5h0m1 6.1h0m1 -4.4h0m1 0.1h0m1 -1.6h0m1 -2.8h0m1 -0.4h0m1 -6.7h0m1 2.4h0m1 -7.4h0m1 3.6h0m1 -7.7h0m1 0.9h0m1 -3.5h0m1 -2.6h0m1 -1.9h0m1 846.8h0m1 -1h0m1 -8.6h0m1 2.6h0m1 -7.6h0m1 0.5h0m1 -6h0m1 -0.1h0m1 -1.4h0m1 -2.5h0m1 3.6h0m1 -4.9h0m1 5.2h0m1 -4.3h0m1 6.8h0m1 -1.5h0m1 5.5h0m1 2.9h0m1 -0.4h0m1 5.1h0m1 -2.2h0m1 7.6h0m1 -3.1h0m1 -845.6h0m1 852.4h0m1 -846.5h0m1 0.8h0m1 2.5h0m1 5.4h0m1 -1.8h0m1 8.4h0m1 -1.2h0m1 8.4h0m1 0.2h0m1 6.4h0m1 0.9h0m1 -0.7h0m1 1.4h0m1 -3.3h0m1 3.6h0m1 -4.6h0m1 4.4h0m1 -4.6h0m1 2.2h0m1 -3.6h0m1 0.1h0m1 -2.4h0m1 -3h0m1 0.1h0m1 -5.7h0m1 3h0m1 -6.6h0m1 1.9h0m1 -6.8h0m1 -1h0m1 -3.5h0m1 -5.1h0m1 0h0m1 846.5h0m1 2.1h0m1 -5.4h0m1 3.5h0m1 -3.7h0m1 3.3h0m1 -1.1h0m1 1.5h0m1 -848.2h0m1 0.2h0m1 7.3h0m1 -2h0m1 8.1h0m1 -2.3h0m1 7.4h0m1 -0.2h0m1 2.8h0m1 3.7h0m1 -1.7h0m1 6.3h0m1 -2.6h0m1 9h0m1 -4h0m1 6.8h0m1 0.4h0m1 2.6h0m1 1.5h0m1 1.1h0m1 4.5h0m1 -3.3h0m1 7.1h0m1 -2.8h0m1 5.4h0m1 -0.1h0m1 3.6h0m1 -0.2h0m1 -1.3h0m1 1.8h0m1 -5.5h0m1 4.7h0m1 -6.7h0m1 4.2h0m1 -6.3h0m1 2.2h0m1 -1.7h0m1 -2.7h0m1 1.7h0m1 -4h0m1 2.8h0m1 -5.6h0m1 4.8h0m1 -5.1h0m1 4.1h0m1 -1.7h0m1 0.5h0m1 1.1h0m1 -2.9h0m1 5.6h0m1 -4.6h0m1 5.9h0m1 -3.8h0m1 5.1h0m1 -2.1h0m1 0.9h0m1 3.1h0m1 -1.5h0m1 3.9h0m1 -3.1h0m1 5h0m1 -4.9h0m1 4.1h0m1 -4.7h0m1 1.4h0m1 -1.2h0m1 -3.2h0m1 3.1h0m1 -5.9h0m1 4.1h0m1 -5.3h0m1 3.5h0m1 -6.2h0m1 1.7h0m1 -2h0m1 -2.6h0m1 2.3h0m1 -5.6h0m1 3.1h0m1 -5.3h0m1 3.4h0m1 -6.6h0m1 3h0m1 -2.8h0m1 -2.1h0m1 1.6h0m1 -4.3h0m1 4.2h0m1 -5.6h0m1 6h0m1 -4h0m1 2.9h0m1 -2.9h0m1 2.7h0m1 1h0m1 -2.8h0m1 4.7h0m1 -3.8h0m1 5.9h0m1 -3.7h0m1 4.4h0m1 -1.1h0m1 1.8h0m1 -0.2h0m1 -1h0m1 3.1h0m1 -5.5h0m1 3.5h0m1 -5.6h0m1 3.9h0m1 -4.2h0m1 2.1h0m1 -2.7h0m1 -2.1h0m1 2h0m1 -5.7h0m1 3.3h0m1 -5.3h0m1 3.1h0m1 -6h0m1 0.6h0m1 -3.7h0m1 -2h0m1 -0.3h0m1 -6.6h0m1 3.3h0m1 -6.6h0m1 3.9h0m1 -6h0m1 1.3h0m1 849.2h0m1 -0.9h0m1 -0.3h0m1 -2.8h0m1 2.7h0m1 -2.8h0m1 -846.9h0m1 850.2h0m1 -846.5h0m1 -1.9h0m1 2.7h0m1 0.9h0m1 0.1h0m1 3.3h0m1 -3.2h0m1 5.5h0m1 -3.2h0m1 6.3h0m1 -3.5h0m1 4.2h0m1 1.2h0m1 0.3h0m1 3.6h0m1 -1.4h0m1 7.2h0m1 -3.5h0m1 7h0m1 -2.6h0m1 5h0m1 0.6h0m1 0.5h0m1 1.5h0m1 -3.9h0m1 3.8h0m1 -5.7h0m1 4.6h0m1 -6.8h0m1 2.9h0m1 -4.3h0m1 0.2h0m1 1.3h0m1 -4.2h0m1 1.7h0m1 -5.9h0m1 4.4h0m1 -6.2h0m1 3.3h0m1 -5.2h0m1 0.3h0m1 -0.7h0m1 -3.4h0m1 2h0m1 -5.6h0m1 4.9h0m1 -6.3h0m1 3.9h0m1 -4.8h0m1 3.7h0m1 -1.3h0m1 1.5h0m1 2.4h0m1 -1.7h0m1 6.1h0m1 -4.7h0m1 6.5h0m1 -1.6h0m1 4h0m1 1.3h0m1 2.4h0m1 5.8h0m1 -0.6h0m1 5.4h0m1 -1.5h0m1 7.2h0m1 -3.8h0m1 6.4h0m1 0.2h0m1 3.2h0m1 1.9h0m1 -0.9h0m1 5.9h0m1 -2.5h0m1 6.1h0m1 -4.3h0m1 5.9h0m1 -1.5h0m1 2.4h0m1 1.3h0m1 -1.6h0m1 4.5h0m1 -3.6h0m1 4.8h0m1 -7.1h0m1 4.4h0m1 -6.3h0m1 0.3h0m1 -3.4h0m1 -1h0m1 1.1h0m1 -6h0m1 2.4h0m1 -6.7h0m1 3.8h0m1 -4.9h0m1 1.1h0m1 -3.1h0m1 -0.6h0m1 -0.1h0m1 -3.8h0m1 4.3h0m1 -5.4h0m1 3.5h0m1 -5.3h0m1 4.2h0m1 -3.5h0m1 0.3h0m1 1.4h0m1 -2.2h0m1 3.3h0m1 -4.4h0m1 7.2h0m1 -4h0m1 5.1h0m1 -2.2h0m1 1.3h0m1 1.7h0m1 -0.2h0m1 2.9h0m1 -3.5h0m1 7.2h0m1 -4.5h0m1 4.9h0m1 -2.8h0m1 2.8h0m1 -0.1h0m1 0.8h0m1 3.1h0m1 -2.7h0m1 4.7h0m1 -4.7h0m1 3.9h0m1 -3.6h0m1 3.6h0m1 -2.4h0m1 -0.4h0m1 1.2h0m1 -4.2h0m1 3.3h0m1 -5h0m1 4h0m1 -7.1h0m1 3h0m1 -3.5h0m1 -1.2h0m1 -0.6h0m1 -2.6h0m1 2.3h0m1 -4.9h0m1 4.7h0m1 -6.2h0m1 2.9h0m1 -2.4h0m1 -0.1h0m1 -1.4h0m1 -1.2h0m1 3h0m1 -4.6h0m1 2.9h0m1 -5.8h0m1 5.6h0m1 -4.4h0m1 2.2h0m1 -1.8h0m1 -1.1h0m1 1.6h0m1 -5.7h0m1 4.2h0m1 -6h0m1 4.2h0m1 -3.4h0m1 2.7h0m1 -3.5h0m1 -1.3h0m1 0.7h0m1 -2.4h0m1 3.4h0m1 -6.4h0m1 4.6h0m1 -5.9h0m1 3.3h0m1 -3h0m1 -0.7h0m1 -1.1h0m1 -3.2h0m1 3.6h0m1 -6.6h0m1 4.5h0m1 -3.9h0m1 4.6h0m1 -4.5h0m1 2.7h0m1 1.8h0m1 -0.7h0m1 3.3h0m1 -3.5h0m1 6.4h0m1 -4.7h0m1 6.7h0m1 -3.1h0m1 3.6h0m1 -0.7h0m1 1.7h0m1 2.4h0m1 -2.4h0m1 7.1h0m1 -4.4h0m1 6.3h0m1 -2.9h0m1 4.8h0m1 -0.6h0m1 -0.3h0m1 2.3h0m1 -2.1h0m1 6.7h0m1 -4.9h0m1 5.6h0m1 -3.8h0m1 3.5h0m1 -2h0m1 0.9h0m1 1h0m1 -3.6h0m1 4.5h0m1 -7h0m1 4.5h0m1 -5.8h0m1 5.1h0m1 -5.5h0m1 1.8h0m1 -1.1h0m1 -2.9h0m1 1.7h0m1 -4.4h0m1 2.6h0m1 -6.3h0m1 4.5h0m1 -4.9h0m1 1.4h0m1 -1.8h0m1 -0.6h0m1 2.3h0m1 -4.7h0m1 3h0m1 -5.2h0m1 5.3h0m1 -5.7h0m1 3.7h0m1 -1.7h0m1 1.7h0m1 2.5h0m1 -1.3h0m1 3.9h0m1 -3.3h0m1 6.8h0m1 -3.2h0m1 5.3h0m1 0.5h0m1 2.2h0m1 4h0m1 0.4h0m1 4.8h0m1 -2.7h0m1 8.3h0m1 -4.7h0m1 6.6h0m1 -1.2h0m1 3.5h0m1 2.7h0m1 -1h0m1 4.8h0m1 -2.7h0m1 5.7h0m1 -6.1h0m1 5.4h0m1 -3.9h0m1 1h0m1 -0.9h0m1 -1.4h0m1 0.9h0m1 -3.5h0m1 2.8h0m1 -4.8h0m1 3.9h0m1 -4.7h0m1 1.5h0m1 -2.6h0m1 -2.2h0m1 0h0m1 -4.5h0m1 2.5h0m1 -7.3h0m1 3h0m1 -5.1h0m1 2.9h0m1 -3.4h0m1 -0.1h0m1 0.8h0m1 -3.3h0m1 4h0m1 -4.3h0m1 5.3h0m1 -4.7h0m1 5.4h0m1 -2.6h0m1 1.9h0m1 0.6h0m1 -1h0m1 3.7h0m1 -3.2h0m1 5.6h0m1 -1.9h0m1 5.7h0m1 -1.7h0m1 5.1h0m1 0.8h0m1 1.1h0m1 1.7h0m1 -2.9h0m1 6.5h0m1 -4.4h0m1 6.1h0m1 -4.7h0m1 5h0m1 -2.8h0m1 0.8h0m1 1.7h0m1 -3.1h0m1 3.8h0m1 -4.4h0m1 4.9h0m1 -7h0m1 2.2h0m1 -3.8h0m1 -0.5h0m1 0h0m1 -3.9h0m1 2.2h0m1 -5.1h0m1 2.6h0m1 -5.7h0m1 2.6h0m1 -4h0m1 -0.2h0m1 -0.7h0m1 -3.7h0m1 2.4h0m1 -6.2h0m1 4.9h0m1 -6.6h0m1 3.2h0m1 -4.2h0m1 0.5h0m1 -1h0m1 -1.3h0m1 1.1h0m1 -3.9h0m1 5h0m1 -5.1h0m1 4.7h0m1 -3.7h0m1 5.8h0m1 -1.9h0m1 1.5h0m1 1.7h0m1 -2.2h0m1 5.3h0m1 -5.3h0m1 4.7h0m1 -4.4h0m1 3.6h0m1 -1.1h0m1 0.9h0m1 0.2h0m1 -3.3h0m1 4.3h0m1 -3.8h0m1 4.6h0m1 -5.4h0m1 4.3h0m1 -4h0m1 1.1h0m1 0.1h0m1 -1.9h0m1 1.4h0m1 -4.3h0m1 3.8h0m1 -6.5h0m1 4.9h0m1 -4h0m1 1.8h0m1 -1.8h0m1 -1.3h0m1 2.9h0m1 -2.5h0m1 5.3h0m1 -5.2h0m1 5.4h0m1 -2.8h0m1 2.4h0m1 -1.2h0m1 0.6h0m1 1.2h0m1 -3.7h0m1 4.4h0m1 -5h0m1 5.8h0m1 -5.4h0m1 5h0m1 -3.9h0m1 1.8h0m1 2.2h0m1 -0.9h0m1 4h0m1 -3.1h0m1 6.4h0m1 -2.2h0m1 4.5h0m1 -0.9h0m1 0.9h0m1 0.8h0m1 -2.2h0m1 1.9h0m1 -4.9h0m1 4.8h0m1 -5.4h0m1 2.8h0m1 -4h0m1 1.6h0m1 -2.4h0m1 -1.3h0m1 1.3h0m1 -4.4h0m1 4.1h0m1 -5h0m1 4.4h0m1 -6.1h0m1 3.3h0m1 -2.3h0m1 -1.2h0m1 1.9h0m1 -2.4h0m1 3.6h0m1 -4.4h0m1 4.3h0m1 -3.9h0m1 4.3h0m1 -1.4h0m1 0.4h0m1 2.4h0m1 -2h0m1 4.4h0m1 -3.4h0m1 5.5h0m1 -4.5h0m1 5.2h0m1 -1.7h0m1 3.1h0m1 1.5h0m1 0.9h0m1 4.1h0m1 -1.5h0m1 4.9h0m1 -3.1h0m1 5h0m1 -1.9h0m1 2.9h0m1 0.4h0m1 0.3h0m1 3.1h0m1 -3.3h0m1 4.9h0m1 -5h0m1 6h0m1 -4.9h0m1 4.4h0m1 -2.1h0m1 0.1h0m1 1h0m1 -2.7h0m1 3.9h0m1 -3.7h0m1 5h0m1 -4.6h0m1 3.5h0m1 -1.7h0m1 -0.4h0" stroke="#3ae8d6" stroke-width="3.9" stroke-linecap="round" fill="none"/>
<path d="M1141.9 427.4h0m1 6.2h0m1 2h0m1 0.7h0m1 5.3h0m1 -1.3h0m1 8.7h0m1 -2.1h0m1 9.2h0m1 -2.5h0m1 8.5h0m1 -0.2h0m1 5.4h0m1 1.1h0m1 5h0m1 5.7h0m1 0.1h0m1 7.8h0m1 -4.1h0m1 6.7h0m1 -6.7h0m1 6.5h0m1 -8.1h0m1 4.5h0m1 -4.9h0m1 -0.7h0m1 -2.3h0m1 -5.5h0m1 1h0m1 -8.5h0m1 2.6h0m1 -10.1h0m1 3.1h0m1 -10.8h0m1 2.6h0m1 -8.8h0m1 -2.2h0m1 -6.9h0m1 -5.1h0m1 -1.1h0m1 -8.5h0m1 3.1h0m1 -7.8h0m1 4h0m1 -7.8h0m1 3.5h0m1 -4.7h0m1 3.4h0m1 -0.8h0m1 1.4h0m1 3.7h0m1 -2h0m1 7.4h0m1 -2.1h0m1 7.7h0m1 -3.2h0m1 9.4h0m1 -0.5h0m1 8.8h0m1 0.1h0m1 5.2h0m1 4.3h0m1 0.2h0m1 6.8h0m1 -1.2h0m1 8.3h0m1 -3.9h0m1 7.1h0m1 -4.7h0m1 4h0m1 -5.3h0m1 0.4h0m1 0.4h0m1 -4.9h0m1 2.1h0m1 -7.7h0m1 5.6h0m1 -8.6h0m1 4h0m1 -11h0m1 3.6h0m1 -9.1h0m1 -0.4h0m1 -3.7h0m1 -3.8h0m1 -0.7h0m1 -8.1h0m1 2.1h0m1 -8.7h0m1 2.5h0m1 -8.3h0m1 6.7h0m1 -5.6h0m1 4.9h0m1 0.1h0m1 -0.9h0m1 5.4h0m1 -3.8h0m1 8h0m1 -4.4h0m1 9.5h0m1 -3.8h0m1 7.6h0m1 -2h0m1 8.6h0m1 1.2h0m1 2.5h0m1 5.5h0m1 -0.3h0m1 9.2h0m1 -0.8h0m1 8.8h0m1 -5.8h0m1 5.9h0m1 -5.3h0m1 3.3h0m1 -6.2h0m1 1.6h0m1 -1.7h0m1 -4.1h0m1 1.7h0m1 -8h0m1 2.3h0m1 -9.6h0m1 2.3h0m1 -11.5h0m1 3.5h0m1 -7.2h0m1 -1.1h0m1 -5.2h0m1 -4h0m1 0.3h0m1 -4.9h0m1 4.8h0m1 -7.1h0m1 6.6h0m1 -4.7h0m1 8.7h0m1 -2.6h0m1 7.2h0m1 0.8h0m1 2.2h0m1 5h0m1 -0.4h0m1 9.1h0m1 -3.7h0m1 10.6h0m1 -3.7h0m1 9.2h0m1 -1.8h0m1 8.5h0m1 2.2h0m1 5.3h0m1 7.8h0m1 0.7h0m1 7.2h0m1 -2.4h0m1 5.6h0m1 -7.3h0m1 6.4h0m1 -5.8h0m1 2.9h0m1 -4.3h0m1 1.5h0m1 -3.7h0m1 -5.9h0m1 -0.8h0m1 -11.5h0m1 2.5h0m1 -11h0m1 5.2h0m1 -9.9h0m1 1.8h0m1 -8.2h0m1 1.5h0m1 -5.4h0m1 -2.4h0m1 2.1h0m1 -8h0m1 4.7h0m1 -7.8h0m1 4.5h0m1 -8.7h0m1 6.8h0m1 -6.2h0m1 5.2h0m1 -2.1h0m1 3.6h0m1 4h0m1 -2.8h0m1 9.3h0m1 -4.4h0m1 10h0m1 -3.6h0m1 8.7h0m1 0.1h0m1 8.2h0m1 0.4h0m1 3.8h0m1 5.1h0m1 -0.3h0m1 8.4h0m1 -2.5h0m1 8.7h0m1 -2.9h0m1 6.1h0m1 -6.8h0m1 3.5h0m1 -3.8h0m1 -1h0m1 -0.2h0m1 -5.9h0m1 0.7h0m1 -8.4h0m1 4.2h0m1 -10.5h0m1 3.8h0m1 -9.5h0m1 0.7h0m1 -6.6h0m1 -0.7h0m1 -4.3h0m1 -3.8h0m1 0.2h0m1 -7.1h0m1 5h0m1 -8.8h0m1 3.1h0m1 -7.5h0m1 5.1h0m1 -3.4h0m1 3.3h0m1 -0.3h0m1 0.9h0m1 5h0m1 -0.8h0m1 7.8h0m1 -6h0m1 10.1h0m1 -5.8h0m1 10.1h0m1 -3.7h0m1 5.6h0m1 -0.5h0m1 2.1h0m1 5.2h0m1 -1.1h0m1 6.2h0m1 -4.1h0m1 6h0m1 -3.1h0m1 6h0m1 -2.3h0m1 5.2h0m1 -2.5h0m1 1.2h0m1 -0.1h0m1 -3.8h0m1 2.3h0m1 -9.4h0m1 5.2h0m1 -8.9h0m1 4.1h0m1 -10.8h0m1 4.1h0m1 -6h0m1 -0.7h0m1 -2.5h0m1 -2.6h0m1 0.9h0m1 -7.4h0m1 4h0m1 -10.3h0m1 5.3h0m1 -9.7h0m1 3.8h0m1 -6.1h0m1 1.7h0m1 -4h0m1 -0.2h0m1 2.5h0m1 -3.7h0m1 5.3h0m1 -4.9h0m1 6.9h0m1 -4.7h0m1 7.8h0m1 -5.5h0m1 5.7h0m1 0.6h0m1 4.6h0m1 3.4h0m1 1.4h0m1 6.3h0m1 -2.7h0m1 10.2h0m1 -6h0m1 8.9h0m1 -3.1h0m1 5.5h0m1 -2.4h0m1 4.2h0m1 0.4h0m1 -1.6h0m1 3h0m1 -4.9h0m1 4.6h0m1 -7.2h0m1 4.2h0m1 -8.1h0m1 4.4h0m1 -5h0m1 1.4h0m1 -3.5h0m1 -3h0m1 2.1h0m1 -5.1h0m1 3.7h0m1 -7.5h0m1 4.8h0m1 -8h0m1 5.8h0m1 -4.7h0m1 3.1h0m1 -2.3h0m1 1.6h0m1 3.8h0m1 -2.4h0m1 6.3h0m1 -3.3h0m1 6.6h0m1 -4.2h0m1 6.5h0m1 -3.2h0m1 7.1h0m1 -1h0m1 1h0m1 2.1h0m1 0.8h0m1 6.8h0m1 -4.4h0m1 8.3h0m1 -4.5h0m1 9.5h0m1 -7.9h0m1 4.5h0m1 -5.4h0m1 -0.8h0m1 -2.6h0m1 -4.9h0m1 1.6h0m1 -6.2h0m1 3.8h0m1 -7.4h0m1 4.5h0m1 -7.2h0m1 2.6h0m1 -5.4h0m1 2.8h0m1 -2h0m1 -3.3h0m1 2.6h0m1 -6.1h0m1 4.4h0m1 -8.3h0m1 4.9h0m1 -5.8h0m1 6.7h0m1 -5.4h0m1 4.5h0m1 -1h0m1 2.1h0m1 3.5h0m1 0.1h0m1 7.2h0m1 -4.5h0m1 8h0m1 -5h0m1 8h0m1 -3.4h0m1 7.2h0m1 -2.1h0m1 4.6h0m1 1.9h0m1 -1.1h0m1 7.7h0m1 -4.3h0m1 9.6h0m1 -5.9h0m1 9h0m1 -5.6h0m1 6.5h0m1 -4.7h0m1 1.4h0m1 1.4h0m1 -3.2h0m1 1.2h0m1 -4.9h0m1 4h0m1 -8.7h0m1 6.8h0m1 -7.1h0m1 3.5h0m1 -6.2h0m1 -0.5h0m1 -3.9h0m1 -3.4h0m1 1.8h0m1 -7.3h0m1 4.2h0m1 -8.3h0m1 4.3h0m1 -9.4h0m1 2.5h0m1 -5.5h0m1 1h0m1 -1.8h0m1 -1.4h0m1 2.3h0m1 -3.5h0m1 4.4h0m1 -4.5h0m1 6.8h0m1 -7.3h0m1 6.5h0m1 -5h0m1 4.6h0m1 -3.1h0m1 0.5h0m1 1.6h0m1 -0.9h0m1 4.7h0m1 -4.1h0m1 7.9h0m1 -5.8h0m1 6.7h0m1 -3h0m1 6h0m1 -3.7h0m1 3.2h0m1 2h0m1 0.3h0m1 6.8h0m1 -4.2h0m1 6.9h0m1 -4.2h0m1 7.5h0m1 -6.8h0m1 5.1h0m1 -4.1h0m1 2h0m1 -2.3h0m1 -4h0m1 1.3h0m1 -4.3h0m1 3h0m1 -8.4h0m1 5.8h0m1 -6.5h0m1 4.9h0m1 -6.4h0m1 -0.3h0m1 -1.7h0m1 -2.5h0m1 1.1h0m1 -4.9h0m1 3.9h0m1 -7h0m1 7.1h0m1 -7.3h0m1 6.2h0m1 -5.5h0m1 6h0m1 -3.5h0m1 0.8h0m1 1.5h0m1 -2.2h0m1 3.7h0m1 -5.5h0m1 8.6h0m1 -6h0m1 5.9h0m1 -3.6h0m1 4.8h0m1 -1.9h0m1 4.3h0m1 0.9h0m1 -0.5h0m1 3.1h0m1 -3.3h0m1 6.6h0m1 -3.7h0m1 6h0m1 -3.1h0m1 6.2h0m1 -2.7h0m1 2.9h0m1 -1.9h0m1 -0.2h0m1 3h0m1 -4.4h0m1 4.1h0m1 -8.1h0m1 6.9h0m1 -9.5h0m1 6.1h0m1 -5.6h0m1 1.4h0m1 -2.4h0m1 -0.5h0m1 0.8h0m1 -7.3h0m1 5.4h0m1 -8.8h0m1 5.6h0m1 -7.2h0m1 5.3h0m1 -5.4h0m1 3.9h0m1 -2.7h0m1 1.1h0m1 3h0m1 -3.2h0m1 5.5h0m1 -6.3h0m1 8.4h0m1 -7.1h0m1 6.5h0m1 -4.1h0m1 4.5h0m1 -1.6h0m1 2.4h0m1 0.3h0m1 0.8h0m1 3.5h0m1 -4.4h0m1 7.8h0m1 -4.9h0m1 7.7h0m1 -4.9h0m1 5.4h0m1 -0.7h0m1 2.9h0m1 0.5h0m1 -1.5h0m1 3.3h0m1 -2.1h0m1 3.6h0m1 -6.7h0m1 6.3h0m1 -7.3h0m1 6.2h0m1 -5.5h0m1 3h0m1 -4.6h0m1 0.6h0m1 0.4h0m1 -4.8h0m1 5.9h0m1 -8.2h0m1 5.2h0m1 -7.3h0m1 6.9h0m1 -6.3h0m1 2.7h0m1 -2.4h0m1 -1.7h0m1 1.7h0m1 -2.5h0m1 2.7h0m1 -5.8h0m1 8.6h0m1 -6.5h0m1 5.2h0m1 -4.9h0m1 5.7h0m1 -2.4h0m1 2.3h0m1 0.3h0m1 -2.3h0m1 6.6h0m1 -5.1h0m1 7.7h0m1 -6.7h0m1 8.9h0m1 -3.7h0m1 5h0m1 -2.4h0m1 3.8h0m1 -0.3h0m1 -0.6h0m1 4.2h0m1 -4h0m1 4.5h0m1 -6.8h0m1 3.9h0m1 -5.7h0m1 4.8h0m1 -7.4h0m1 2.9h0m1 -2.9h0m1 -0.3h0m1 -0.3h0m1 -4.6h0m1 4.5h0m1 -6.3h0m1 3.9h0m1 -8.6h0m1 6.4h0m1 -7.9h0m1 3.3h0m1 -3.5h0m1 -0.2h0m1 0.4h0m1 -4.4h0m1 3.6h0m1 -5.7h0m1 7.5h0m1 -7.9h0m1 5.2h0m1 -6.5h0m1 4h0m1 -3.2h0m1 2.8h0m1 0.2h0m1 -0.7h0m1 3.3h0m1 -3.2h0m1 6.6h0m1 -6.8h0m1 8.1h0m1 -4.5h0m1 8.3h0m1 -3.6h0m1 3.2h0m1 1.9h0m1 1h0m1 6.5h0m1 -1.1h0m1 6.9h0m1 -3.1h0m1 7.7h0m1 -4.1h0m1 7.3h0m1 -6.2h0m1 2.2h0m1 -2.3h0m1 -1.7h0m1 1.8h0m1 -4.7h0m1 1.5h0m1 -8.4h0m1 5.6h0m1 -8.3h0m1 4.1h0m1 -5.9h0m1 1h0m1 -2h0m1 -1.3h0m1 -2h0m1 -5.1h0m1 3.6h0m1 -6.5h0m1 4.3h0m1 -8.1h0m1 5.8h0m1 -6.3h0m1 4.1h0m1 -4.7h0m1 0.3h0m1 1.4h0m1 -3.3h0m1 4h0m1 -5h0m1 5h0m1 -5.2h0m1 6h0m1 -5.8h0m1 6.3h0m1 -1.9h0m1 3.4h0m1 -0.4h0m1 0.6h0m1 4.4h0m1 -4.2h0m1 7.1h0m1 -3.8h0m1 7h0m1 -3.2h0m1 6.2h0m1 -3.2h0m1 4.5h0m1 0.9h0m1 1.3h0m1 4.9h0m1 -1.4h0m1 8.3h0m1 -5.9h0m1 7.1h0m1 -3.7h0m1 5.1h0m1 -5.6h0m1 2.9h0m1 -3.1h0m1 -0.4h0m1 -0.5h0m1 -3.9h0m1 1.9h0m1 -8.1h0m1 5.5h0m1 -6.4h0m1 4h0m1 -7.9h0m1 5.1h0m1 -5.3h0m1 -0.3h0m1 -1.7h0m1 -2.5h0m1 3.3h0m1 -5.1h0m1 5.6h0m1 -7.4h0m1 5.3h0m1 -6.6h0m1 3.7h0m1 -3.8h0m1 2.2h0m1 0h0m1 -2.1h0m1 3h0m1 -4h0m1 5.5h0m1 -4.3h0m1 6.8h0m1 -4h0m1 5.5h0m1 -2.8h0m1 4.1h0m1 0.3h0m1 0.6h0m1 4.1h0m1 -1.8h0m1 8.4h0m1 -4.2h0m1 8.2h0m1 -2.4h0m1 6.2h0m1 -4.4h0m1 4.5h0m1 -2.6h0m1 1.3h0m1 0.5h0m1 -5.3h0m1 4.2h0m1 -8h0m1 6.2h0m1 -8.2h0m1 5.1h0m1 -5.8h0m1 1.7h0m1 -4.3h0m1 1.6h0m1 0.1h0m1 -4.4h0m1 3h0m1 -5.6h0m1 4.6h0m1 -5.7h0m1 4.9h0m1 -5.4h0m1 2.9h0m1 -3h0m1 2.8h0m1 -0.9h0m1 -2.6h0m1 3h0m1 -3.8h0m1 4h0m1 -6.1h0m1 6.4h0m1 -6h0m1 4.8h0m1 -3.8h0m1 5.3h0m1 -1.2h0m1 1.8h0m1 3.9h0m1 -1.6h0m1 5.5h0m1 -4.6h0m1 7.6h0m1 -5h0m1 6.6h0m1 -5.7h0m1 4.2h0m1 -3.3h0m1 1.1h0m1 -0.9h0m1 -1.7h0m1 1.9h0m1 -6.3h0m1 6h0m1 -7h0m1 4.4h0m1 -5.8h0m1 4.4h0m1 -5.1h0m1 2.1h0m1 -0.4h0m1 -2.2h0m1 3.8h0m1 -6h0m1 6.3h0m1 -7.6h0m1 5.3h0m1 -6.6h0m1 5h0m1 -5h0m1 1.9h0m1 0.1h0m1 -2.3h0m1 3.1h0m1 -6.4h0m1 6.6h0m1 -7.2h0m1 6.2h0m1 -6.6h0m1 6.2h0m1 -5.1h0m1 4.6h0m1 1.1h0m1 -0.6h0m1 4.4h0m1 0.3h0m1 5.9h0m1 -3.1h0m1 9.3h0m1 -5.5h0m1 5.9h0m1 -5.2h0m1 5.3h0m1 -3.2h0m1 0.7h0m1 0.4h0m1 -3.1h0m1 5.9h0m1 -5.6h0m1 6.6h0m1 -7.8h0m1 6.6h0m1 -5h0m1 2.3h0m1 -4.1h0m1 0.3h0m1 -1h0m1 -2.6h0m1 3.6h0m1 -8h0" stroke="#68fcc1" stroke-width="3.6" stroke-linecap="round" fill="none"/>
<path d="M1142.2 839.8h0m1 0.3h0m1 -1h0m1 -2.2h0m1 -0.7h0m1 0.5h0m1 -0.9h0m1 -1.9h0m1 -0.2h0m1 0.7h0m1 -0.9h0m1 -1.6h0m1 0.1h0m1 0.6h0m1 -1.3h0m1 -1.7h0m1 0h0m1 0.4h0m1 -1.5h0m1 -1.7h0m1 0.3h0m1 0.2h0m1 -1.7h0m1 -1.6h0m1 0.3h0m1 0.1h0m1 -1.5h0m1 -0.9h0m1 1.2h0m1 1.1h0m1 -0.2h0m1 0.9h0m1 3h0m1 2.2h0m1 1.8h0m1 3.7h0m1 4.7h0m1 3.8h0m1 1.4h0m1 1.3h0m1 2.2h0m1 0.7h0m1 -0.7h0m1 0.5h0m1 1.4h0m1 -0.6h0m1 -2.4h0m1 -1.1h0m1 -0.4h0m1 -2h0m1 -2.4h0m1 0h0m1 0.8h0m1 -1h0m1 -1.4h0m1 0.5h0m1 0.9h0m1 -0.9h0m1 -0.9h0m1 1.1h0m1 1.3h0m1 -0.6h0m1 -0.5h0m1 1.3h0m1 0.8h0m1 -1.1h0m1 -0.7h0m1 1.2h0m1 0.5h0m1 -1.2h0m1 -0.4h0m1 1.3h0m1 1h0m1 -0.2h0m1 1.1h0m1 2.9h0m1 3.6h0m1 -850.6h0m1 3.2h0m1 4h0m1 2.8h0m1 1.3h0m1 2.5h0m1 3.2h0m1 1.1h0m1 -0.6h0m1 0.4h0m1 0.9h0m1 -1h0m1 -2h0m1 -0.4h0m1 0.1h0m1 -1.7h0m1 -2.3h0m1 -0.4h0m1 0h0m1 -1.8h0m1 -1.9h0m1 0h0m1 0h0m1 -1.9h0m1 -1.8h0m1 -0.1h0m1 -0.4h0m1 -2.4h0m1 851.4h0m1 -0.6h0m1 -1.3h0m1 -2.9h0m1 -2.2h0m1 -0.5h0m1 -1.4h0m1 -2.8h0m1 -1.5h0m1 0.2h0m1 -1h0m1 -2.3h0m1 -0.8h0m1 0.8h0m1 -0.2h0m1 -0.9h0m1 0.8h0m1 2.2h0m1 0.9h0m1 -0.2h0m1 1.6h0m1 3h0m1 1.5h0m1 0.7h0m1 2.1h0m1 2h0m1 -0.1h0m1 -0.6h0m1 1.2h0m1 1.4h0m1 -0.7h0m1 -1.1h0m1 0.5h0m1 0.3h0m1 -1.7h0m1 -1.6h0m1 0.3h0m1 0.1h0m1 -1.6h0m1 -0.9h0m1 0.9h0m1 0.4h0m1 -1.4h0m1 -0.6h0m1 1h0m1 0.1h0m1 -1.6h0m1 -0.7h0m1 0.5h0m1 -1h0m1 -2.7h0m1 -1.5h0m1 -0.1h0m1 -1.4h0m1 -3h0m1 -1.6h0m1 -0.4h0m1 -1.7h0m1 -2.1h0m1 0.1h0m1 1.4h0m1 0h0m1 -0.5h0m1 1.3h0m1 1.9h0m1 0.1h0m1 -0.5h0m1 1.2h0m1 1.5h0m1 -0.4h0m1 -0.6h0m1 1.3h0m1 1.1h0m1 -0.9h0m1 -1h0m1 0.5h0m1 0h0m1 -2h0m1 -1.6h0m1 0.4h0m1 0.1h0m1 -1.6h0m1 -0.8h0m1 0.8h0m1 0h0m1 -1.5h0m1 -0.4h0m1 1.1h0m1 0.4h0m1 -0.5h0m1 1.2h0m1 2.8h0m1 1.3h0m1 -0.2h0m1 0.6h0m1 1h0m1 -0.8h0m1 -2h0m1 -0.4h0m1 0.4h0m1 -1.2h0m1 -1.6h0m1 0.4h0m1 1.2h0m1 -0.5h0m1 -0.8h0m1 1h0m1 1.4h0m1 -0.4h0m1 -0.5h0m1 1.5h0m1 2.2h0m1 0.7h0m1 1h0m1 2.8h0m1 3h0m1 1.3h0m1 0.9h0m1 1.8h0m1 1.1h0m1 -0.7h0m1 -0.1h0m1 1.4h0m1 0.3h0m1 -1.7h0m1 -1.1h0m1 0.2h0m1 -1.1h0m1 -2.4h0m1 -1.1h0m1 0.7h0m1 -0.4h0m1 -1.6h0m1 -0.1h0m1 1.1h0m1 -0.4h0m1 -1.3h0m1 0.7h0m1 1.8h0m1 0.2h0m1 -0.4h0m1 1.1h0m1 1.5h0m1 -0.6h0m1 -1.3h0m1 0.5h0m1 0.7h0m1 -1.2h0m1 -1.3h0m1 0.5h0m1 0.7h0m1 -1.1h0m1 -0.5h0m1 2.2h0m1 2.3h0m1 0.8h0m1 1.2h0m1 3.4h0m1 -850.5h0m1 1.2h0m1 1.3h0m1 2.9h0m1 2h0m1 0.2h0m1 1h0m1 2.4h0m1 0.9h0m1 -1h0m1 -0.2h0m1 0.8h0m1 -0.8h0m1 -2.4h0m1 -1h0m1 -0.1h0m1 -1.6h0m1 -2.6h0m1 -1.2h0m1 -0.8h0m1 851.1h0m1 -3h0m1 -0.7h0m1 0.3h0m1 -1.4h0m1 -1.7h0m1 0.2h0m1 0.5h0m1 -1.3h0m1 -1.4h0m1 0.4h0m1 0.3h0m1 -1.5h0m1 -1.5h0m1 0.1h0m1 -0.3h0m1 -2.3h0m1 -1.8h0m1 0.1h0m1 -0.4h0m1 -2h0m1 -0.8h0m1 1.1h0m1 0.7h0m1 -0.7h0m1 0.5h0m1 2.3h0m1 1.3h0m1 -0.1h0m1 1.2h0m1 2.8h0m1 2.1h0m1 1.2h0m1 2.4h0m1 2.9h0m1 -852.6h0m1 0h0m1 1.3h0m1 1.7h0m1 -0.6h0m1 -1.9h0m1 -0.5h0m1 0.1h0m1 852h0m1 -2.3h0m1 -0.4h0m1 0.2h0m1 -1.4h0m1 -1.4h0m1 0.5h0m1 0.5h0m1 -1.2h0m1 -1.1h0m1 0.7h0m1 0.4h0m1 -1.5h0m1 -1.1h0m1 0.6h0m1 -0.3h0m1 -2.2h0m1 -1.7h0m1 -0.1h0m1 -1.1h0m1 -2.7h0m1 -1.8h0m1 -0.1h0m1 -1.2h0m1 -2.9h0m1 -1.8h0m1 -0.5h0m1 -1.5h0m1 -2.3h0m1 -0.3h0m1 1.4h0m1 0.1h0m1 -0.6h0m1 1.1h0m1 2.2h0m1 0.4h0m1 -0.2h0m1 1.9h0m1 2.9h0m1 0.7h0m1 -0.4h0m1 0.7h0m1 1h0m1 -1h0m1 -1.2h0m1 0.8h0m1 0.7h0m1 -1.1h0m1 -1h0m1 1h0m1 0.9h0m1 -0.9h0m1 -0.4h0m1 1.6h0m1 1h0m1 -0.7h0m1 0.1h0m1 2.4h0m1 1.9h0m1 0.5h0m1 1.6h0m1 2.8h0m1 1.3h0m1 -0.7h0m1 -0.1h0m1 1.2h0m1 -0.2h0m1 -1.6h0m1 -0.1h0m1 0.9h0m1 -1.1h0m1 -2.5h0m1 -1.2h0m1 -0.4h0m1 -2h0m1 -2.3h0m1 -0.1h0m1 1.1h0m1 -0.3h0m1 -0.6h0m1 1.4h0m1 1.7h0m1 0h0m1 -0.3h0m1 1.5h0m1 1.5h0m1 -0.3h0m1 -0.2h0m1 1.7h0m1 1.2h0m1 -0.8h0m1 -0.6h0m1 1.1h0m1 0.3h0m1 -1.4h0m1 -0.8h0m1 0.9h0m1 0.1h0m1 -1.5h0m1 -0.6h0m1 1h0m1 -0.1h0m1 -1.6h0m1 -0.2h0m1 1.1h0m1 -0.1h0m1 -1.1h0m1 0.8h0m1 2.2h0m1 0.8h0m1 -0.1h0m1 1.4h0m1 2.1h0m1 0.1h0m1 -1h0m1 0.4h0m1 1h0m1 -0.8h0m1 -1.4h0m1 0.4h0m1 0.8h0m1 -1.1h0m1 -1.2h0m1 0.7h0m1 0.7h0m1 -1h0m1 -0.3h0m1 2.1h0m1 2.1h0m1 0.5h0m1 1h0m1 2.8h0m1 -850.9h0m1 0.9h0m1 1.2h0m1 2h0m1 1.1h0m1 -0.7h0m1 0.2h0m1 1.5h0m1 0.1h0m1 -1.6h0m1 -0.8h0m1 0.4h0m1 -1.1h0m1 -2.6h0m1 851.3h0m1 -1.5h0m1 -1.8h0m1 -2h0m1 -0.2h0m1 0.7h0m1 -0.8h0m1 -1.6h0m1 0.3h0m1 0.8h0m1 -1h0m1 -1.4h0m1 0.3h0m1 0.5h0m1 -1.2h0m1 -1.5h0m1 0.5h0m1 0.4h0m1 -1.5h0m1 -1.3h0m1 0.5h0m1 0.2h0m1 -1.6h0m1 -1.3h0m1 0.3h0m1 -0.4h0m1 -2.1h0m1 -0.9h0m1 1.3h0m1 0.6h0m1 -0.9h0m1 0.3h0m1 1.9h0m1 0.9h0m1 -0.4h0m1 1.7h0m1 3.9h0m1 2.4h0m1 0.3h0m1 0.8h0m1 1.8h0m1 0.2h0m1 -0.9h0m1 0.6h0m1 1.4h0m1 -0.5h0m1 -1.5h0m1 -0.2h0m1 0.1h0m1 -1.8h0m1 -2.1h0m1 -0.2h0m1 0.4h0m1 -1.3h0m1 -1.4h0m1 0.4h0m1 0.5h0m1 -1.3h0m1 -1.3h0m1 0.7h0m1 0.3h0m1 -1.6h0m1 -1.2h0m1 0.6h0m1 0h0m1 -1.8h0m1 -1h0m1 0.6h0m1 -0.4h0m1 -1.9h0m1 -1h0m1 0.3h0m1 -1.1h0m1 -2.6h0m1 -1.4h0m1 0.3h0m1 -0.7h0m1 -1.4h0m1 0.4h0m1 1.8h0m1 0.5h0m1 -0.4h0m1 1.2h0m1 2.3h0m1 0.5h0m1 -0.1h0m1 2.1h0m1 2.8h0m1 0.5h0m1 -0.8h0m1 0.7h0m1 1h0m1 -0.9h0m1 -1.1h0m1 0.8h0m1 0.8h0m1 -1.1h0m1 -1h0m1 1h0m1 0.6h0m1 -1.2h0m1 -0.6h0m1 1.1h0m1 0.7h0m1 -0.8h0m1 0h0m1 1.9h0m1 1h0m1 -0.6h0m1 0.4h0m1 2.2h0m1 1.3h0m1 -0.3h0m1 0.7h0m1 1.5h0m1 -0.3h0m1 -2.2h0m1 -1.1h0m1 -0.2h0m1 -1.8h0m1 -2.7h0m1 -0.9h0m1 0.4h0m1 -1.3h0m1 -1.9h0m1 -0.2h0m1 0.4h0m1 -1.2h0m1 -1.5h0m1 0.6h0m1 1.1h0m1 0h0m1 0.3h0m1 2.2h0m1 2.1h0m1 -0.1h0m1 -0.3h0m1 1.6h0m1 1.3h0m1 -0.7h0m1 -0.2h0m1 1.5h0m1 0.8h0m1 -1.1h0m1 -0.4h0m1 1.2h0m1 0.4h0m1 -1.3h0m1 -0.2h0m1 1.2h0m1 0.2h0m1 -1.3h0m1 0h0m1 1.2h0m1 0h0m1 -1.3h0m1 0.6h0m1 2.1h0m1 0.8h0m1 -0.1h0m1 1.5h0m1 2.1h0m1 0.2h0m1 -0.7h0m1 1.1h0m1 1.6h0m1 -0.3h0m1 -0.9h0m1 0.7h0m1 0.7h0m1 -1.4h0m1 -1.7h0m1 0.1h0m1 0h0m1 -1.8h0m1 -1.7h0m1 0.3h0m1 0.2h0m1 -1.5h0m1 -0.8h0m1 2h0m1 2.1h0m1 0.6h0m1 0.9h0m1 1.7h0m1 0.6h0m1 -1h0m1 -0.1h0m1 1.4h0m1 0.2h0m1 -1.2h0m1 -0.1h0m1 1.2h0m1 -0.3h0m1 -1.6h0m1 -0.3h0m1 0.8h0m1 -0.7h0m1 -1.9h0m1 -0.8h0m1 -0.1h0m1 -1.8h0m1 -2.3h0m1 0.1h0m1 1.2h0m1 -0.6h0m1 -0.9h0m1 0.9h0m1 1.3h0m1 -0.6h0m1 -0.7h0m1 1.3h0m1 1.6h0m1 -0.1h0m1 -0.1h0m1 1.6h0m1 0.9h0m1 -1.5h0m1 -1.4h0m1 0.1h0m1 -0.7h0m1 -2.5h0m1 -1.6h0m1 0.2h0m1 -0.4h0m1 -1.6h0m1 -0.1h0m1 1.7h0m1 0.8h0m1 -0.6h0m1 0.8h0m1 2.1h0m1 1.1h0m1 0.1h0m1 1.6h0m1 2.6h0m1 0.9h0m1 -0.7h0m1 0.9h0m1 1.7h0m1 -0.1h0m1 -0.8h0m1 0.8h0m1 1.2h0m1 -0.6h0m1 -1.2h0m1 0.6h0m1 0.8h0m1 -1.1h0m1 -1.4h0m1 0.5h0m1 0.5h0m1 -1.5h0m1 -2h0m1 -0.6h0m1 -1.2h0m1 -2.9h0m1 -2.2h0m1 0.3h0m1 0.5h0m1 -0.7h0m1 0.4h0m1 2.1h0m1 1.1h0m1 -0.8h0m1 -0.4h0m1 0.4h0m1 -1.1h0m1 -2.8h0m1 -1.7h0m1 -0.1h0m1 -1.2h0m1 -2h0m1 -0.5h0m1 0.6h0m1 -0.7h0m1 -1.6h0m1 0.2h0m1 1.3h0m1 -0.3h0m1 -0.9h0m1 0.9h0m1 1.6h0m1 -0.2h0m1 -0.3h0m1 1.9h0m1 2.4h0m1 0.6h0m1 0.4h0m1 2.2h0m1 2.4h0m1 0.6h0m1 0.7h0m1 2.2h0m1 1.3h0m1 -1.1h0m1 -1.2h0m1 0.4h0m1 -0.5h0m1 -2.3h0m1 -1.5h0m1 0.2h0m1 -0.4h0m1 -1.7h0m1 -0.3h0m1 1.3h0m1 0.2h0m1 -1.1h0m1 0.1h0m1 1.5h0m1 0.2h0m1 -1h0m1 0.4h0m1 1.6h0m1 0h0m1 -1h0m1 0.7h0m1 1.7h0m1 0.1h0m1 -0.7h0m1 0.9h0m1 1.3h0m1 -1.1h0m1 -2.2h0m1 -0.7h0m1 -0.5h0m1 -2.4h0m1 -2.1h0m1 -0.4h0m1 -0.5h0m1 -2.2h0m1 -1.8h0m1 0.5h0m1 0.9h0m1 0.1h0m1 1.3h0m1 3.3h0m1 2.6h0m1 0.3h0m1 0.3h0m1 2h0m1 1.1h0m1 -0.5h0m1 0.3h0m1 1.9h0m1 0.7h0m1 -0.9h0m1 0.3h0m1 1.6h0m1 0.1h0m1 -1.3h0m1 -0.1h0m1 0.7h0m1 -1h0m1 -2.2h0m1 -0.4h0m1 0.5h0m1 -0.9h0m1 -1.3h0m1 0.9h0m1 1.8h0m1 0.3h0m1 0h0m1 1.8h0m1 1.9h0m1 -0.2h0m1 -0.8h0m1 0.7h0m1 0.6h0m1 -1.6h0m1 -1.4h0m1 0.4h0m1 0h0m1 -1.6h0m1 -1.2h0m1 0.6h0m1 0h0m1 -1.7h0m1 -1h0m1 0.6h0m1 -0.2h0m1 -1.8h0m1 -0.8h0m1 0.7h0m1 -0.5h0m1 -1.9h0" stroke="#96fca7" stroke-width="3.7" stroke-linecap="round" fill="none"/>
<path d="M1142 77.3h0m1 5.6h0m1 -6.8h0m1 5.7h0m1 -5.5h0m1 3.2h0m1 -4.3h0m1 0.6h0m1 -0.6h0m1 -1.5h0m1 2.6h0m1 -4.6h0m1 3.6h0m1 -6.9h0m1 5.5h0m1 -4.5h0m1 2.1h0m1 -3.1h0m1 1.5h0m1 -2.3h0m1 -2h0m1 2.9h0m1 -8.1h0m1 4h0m1 -7.4h0m1 1.6h0m1 -6.2h0m1 2.1h0m1 -3.8h0m1 -1.3h0m1 -0.4h0m1 -3.3h0m1 2.9h0m1 -5.9h0m1 4.4h0m1 -5.8h0m1 3.8h0m1 -6.5h0m1 1.8h0m1 -3.5h0m1 -1.9h0m1 0h0m1 -4.9h0m1 2.1h0m1 -7.5h0m1 4.1h0m1 -8.5h0m1 3.1h0m1 -7.8h0m1 0.1h0m1 -4.8h0m1 -5.3h0m1 -1.5h0m1 845h0m1 2h0m1 -8.9h0m1 3.7h0m1 -6.4h0m1 0.9h0m1 -6.1h0m1 -2h0m1 -3.7h0m1 -6.5h0m1 1.5h0m1 -6.5h0m1 2.4h0m1 -6.9h0m1 2.3h0m1 -8.6h0m1 -0.6h0m1 -3.7h0m1 -3.1h0m1 -0.3h0m1 -4.1h0m1 3.5h0m1 -6.6h0m1 4.3h0m1 -5.8h0m1 4.7h0m1 -4.6h0m1 2.4h0m1 -0.8h0m1 -0.2h0m1 3h0m1 -3.1h0m1 4.6h0m1 -5.2h0m1 6.8h0m1 -4.8h0m1 4.7h0m1 -3.1h0m1 2.5h0m1 -2.2h0m1 0.4h0m1 1.6h0m1 -3.9h0m1 5.7h0m1 -6h0m1 4.4h0m1 -4.3h0m1 2.9h0m1 -2.4h0m1 2.1h0m1 -0.4h0m1 -1.9h0m1 3.7h0m1 -4.7h0m1 5.3h0m1 -7.4h0m1 6.2h0m1 -4.7h0m1 2.6h0m1 -1.2h0m1 0.5h0m1 1.7h0m1 -2.6h0m1 3h0m1 -4.2h0m1 7.5h0m1 -5.6h0m1 7.1h0m1 -0.9h0m1 5h0m1 2.9h0m1 2.2h0m1 2.9h0m1 -0.1h0m1 7.8h0m1 -2.5h0m1 7.2h0m1 -2.7h0m1 9.2h0m1 -0.3h0m1 4h0m1 3.6h0m1 2.5h0m1 5.7h0m1 -3.7h0m1 8.3h0m1 -1.1h0m1 -841.4h0m1 -3.6h0m1 5.4h0m1 -1.2h0m1 3.4h0m1 0.2h0m1 -0.6h0m1 6.1h0m1 -3.5h0m1 7.4h0m1 -4.3h0m1 7.8h0m1 -3.4h0m1 3.6h0m1 -2.3h0m1 1.1h0m1 2h0m1 -1.9h0m1 4.4h0m1 -6.5h0m1 5.4h0m1 -3.8h0m1 5.7h0m1 -4.8h0m1 4.1h0m1 -0.2h0m1 0.2h0m1 3.9h0m1 -4h0m1 6.7h0m1 -4.1h0m1 6.8h0m1 -2.4h0m1 4.5h0m1 -0.7h0m1 2.5h0m1 1.8h0m1 0.3h0m1 3.8h0m1 -2.4h0m1 6.3h0m1 -5h0m1 7.5h0m1 -5.4h0m1 5.2h0m1 -1.7h0m1 2.3h0m1 1h0m1 0.5h0m1 4.5h0m1 -5h0m1 7.1h0m1 -4.9h0m1 6.8h0m1 -4.3h0m1 4.6h0m1 -0.9h0m1 -0.7h0m1 1.4h0m1 -3.8h0m1 3.5h0m1 -7.8h0m1 5.6h0m1 -6.8h0m1 2.9h0m1 -6.3h0m1 2.2h0m1 -2.8h0m1 -2.3h0m1 -0.9h0m1 -4.1h0m1 2.4h0m1 -8.9h0m1 4h0m1 -8.6h0m1 4.8h0m1 -5.8h0m1 -0.1h0m1 -1.9h0m1 -4.3h0m1 1.3h0m1 -6.2h0m1 4h0m1 -8.4h0m1 5.5h0m1 -7.9h0m1 2h0m1 -6h0m1 -0.9h0m1 -3.5h0m1 847.6h0m1 -0.5h0m1 -6.9h0m1 1.1h0m1 -7.3h0m1 2.3h0m1 -7.7h0m1 1.8h0m1 -3.8h0m1 -2.3h0m1 0.7h0m1 -5.3h0m1 3.7h0m1 -6.5h0m1 3.2h0m1 -5.6h0m1 3.6h0m1 -4.1h0m1 1.7h0m1 -2.1h0m1 -0.2h0m1 -0.2h0m1 -3h0m1 3.8h0m1 -6.5h0m1 6.7h0m1 -6.2h0m1 5.1h0m1 -4.3h0m1 1.5h0m1 1.2h0m1 -2.6h0m1 3.4h0m1 -2.2h0m1 5.1h0m1 -5.2h0m1 7.2h0m1 -5.9h0m1 5.8h0m1 -2.9h0m1 0.9h0m1 0.1h0m1 -1.7h0m1 4.6h0m1 -6.8h0m1 3.8h0m1 -6.8h0m1 5.5h0m1 -7.4h0m1 3.7h0m1 -4.7h0m1 0.9h0m1 -0.9h0m1 -5h0m1 5h0m1 -7.3h0m1 5.7h0m1 -6.8h0m1 3.6h0m1 -4.8h0m1 2.4h0m1 -1.8h0m1 -1.2h0m1 1.5h0m1 -2.3h0m1 2.3h0m1 -5.4h0m1 4.2h0m1 -6h0m1 5.2h0m1 -3.7h0m1 0.9h0m1 -1.3h0m1 1.3h0m1 1.8h0m1 -2.3h0m1 6.9h0m1 -3.6h0m1 7.1h0m1 -3.7h0m1 5.9h0m1 0.3h0m1 3.7h0m1 3h0m1 0.4h0m1 5.2h0m1 -1.3h0m1 9.1h0m1 -2.2h0m1 9.5h0m1 -3h0m1 7.2h0m1 0.4h0m1 5.4h0m1 5.4h0m1 -852.9h0m1 5.7h0m1 -3h0m1 8.8h0m1 -5.5h0m1 7.6h0m1 -3.7h0m1 3.1h0m1 1.6h0m1 -0.6h0m1 4.9h0m1 -4h0m1 7.1h0m1 -5.8h0m1 6.5h0m1 -4.2h0m1 3.7h0m1 -3.4h0m1 2.1h0m1 -2h0m1 -0.1h0m1 2.7h0m1 -6.2h0m1 5.2h0m1 -7.1h0m1 5.7h0m1 -7.5h0m1 4.5h0m1 -2.7h0m1 1.1h0m1 -0.6h0m1 -0.2h0m1 3h0m1 -2.8h0m1 5.6h0m1 -5.5h0m1 7.6h0m1 -3.3h0m1 4.9h0m1 0h0m1 0.6h0m1 2.8h0m1 -1.8h0m1 6.3h0m1 -4.1h0m1 6.8h0m1 -4.2h0m1 5.9h0m1 -3.7h0m1 4.7h0m1 -1h0m1 0.6h0m1 3.7h0m1 -4.6h0m1 6.2h0m1 -4.9h0m1 5.5h0m1 -4.6h0m1 6.3h0m1 -4.2h0m1 3.7h0m1 0.7h0m1 -1.6h0m1 4.6h0m1 -5h0m1 4.4h0m1 -6h0m1 4h0m1 -5.9h0m1 1.9h0m1 -3h0m1 -1h0m1 -1.8h0m1 -3.7h0m1 2.2h0m1 -7.4h0m1 2.4h0m1 -8.4h0m1 3.4h0m1 -5.5h0m1 -0.1h0m1 -2.4h0m1 -1.6h0m1 -2h0m1 -4.7h0m1 2.3h0m1 -7.2h0m1 3.6h0m1 845.9h0m1 1.5h0m1 -6.5h0m1 1.4h0m1 -3.1h0m1 -2h0m1 -0.7h0m1 -4h0m1 3.9h0m1 -6.8h0m1 4.8h0m1 -6.3h0m1 4.2h0m1 -6h0m1 3.3h0m1 -2.3h0m1 -1.6h0m1 2.7h0m1 -3.5h0m1 4.2h0m1 -6.4h0m1 5.6h0m1 -4.1h0m1 4.1h0m1 -4.3h0m1 1.5h0m1 0.7h0m1 -2.4h0m1 4.3h0m1 -5.5h0m1 6.2h0m1 -5h0m1 5.3h0m1 -6.3h0m1 3.4h0m1 -2.5h0m1 -0.1h0m1 -0.4h0m1 -4.3h0m1 3.4h0m1 -6.3h0m1 6.4h0m1 -6.6h0m1 4.1h0m1 -4.1h0m1 2.1h0m1 -1.8h0m1 -1.2h0m1 1.9h0m1 -3.1h0m1 3.7h0m1 -5.9h0m1 3.7h0m1 -5.3h0m1 3.7h0m1 -4.9h0m1 1.7h0m1 -2.5h0m1 -2.6h0m1 2.3h0m1 -5.8h0m1 3.9h0m1 -8.3h0m1 4.6h0m1 -6.7h0m1 3.5h0m1 -3.4h0m1 3h0m1 0.4h0m1 -3.3h0m1 4h0m1 -2.9h0m1 5.1h0m1 -5.6h0m1 6.2h0m1 -4.6h0m1 4.8h0m1 -1.2h0m1 0.8h0m1 2.8h0m1 -3.4h0m1 6.1h0m1 -3.4h0m1 5h0m1 -4.1h0m1 6.5h0m1 -3.7h0m1 5.4h0m1 -0.8h0m1 1.3h0m1 5.5h0m1 -2.4h0m1 9.2h0m1 -4.6h0m1 8.5h0m1 -2.9h0m1 7.2h0m1 -2h0m1 5.4h0m1 3.2h0m1 4.8h0m1 -846.5h0m1 -3.1h0m1 6.7h0m1 -5.1h0m1 5.2h0m1 -5.2h0m1 5.6h0m1 -3.1h0m1 0.8h0m1 2.5h0m1 -2.1h0m1 2.7h0m1 -4.6h0m1 5.6h0m1 -5.2h0m1 4.5h0m1 -4.5h0m1 2.9h0m1 -2.1h0m1 1h0m1 0.7h0m1 -3.3h0m1 4.7h0m1 -4.6h0m1 4.4h0m1 -4.8h0m1 4.4h0m1 -4.6h0m1 3.1h0m1 -3.2h0m1 -0.4h0m1 3.5h0m1 -3.6h0m1 3h0m1 -4.1h0m1 4.2h0m1 -5.1h0m1 5h0m1 -2.7h0m1 2.9h0m1 1.4h0m1 -1.6h0m1 3.1h0m1 -2.9h0m1 5.7h0m1 -4.5h0m1 7.5h0m1 -3.8h0m1 5h0m1 -1.3h0m1 2h0m1 2.8h0m1 -1.5h0m1 4.1h0m1 -3.4h0m1 5.6h0m1 -4.9h0m1 5.7h0m1 -2.9h0m1 3h0m1 -0.4h0m1 -0.4h0m1 1h0m1 -1.5h0m1 4.5h0m1 -4.7h0m1 4.3h0m1 -4.2h0m1 5.4h0m1 -5.2h0m1 3.2h0m1 -1.1h0m1 -1.9h0m1 2.2h0m1 -5.4h0m1 3.4h0m1 -7.9h0m1 4.4h0m1 -7.7h0m1 3.4h0m1 -4.5h0m1 0.7h0m1 -4.1h0m1 -4.3h0m1 -0.1h0m1 848h0m1 -849.3h0m1 845.6h0m1 -848.6h0m1 847.6h0m1 3.9h0m1 -5.1h0m1 0.2h0m1 0.7h0m1 -3.2h0m1 2.7h0m1 -4.6h0m1 4.4h0m1 -7.8h0m1 5.5h0m1 -5.1h0m1 2.9h0m1 -4.7h0m1 1.2h0m1 -1.1h0m1 -2.4h0m1 3.1h0m1 -5.5h0m1 4.1h0m1 -7.8h0m1 5.6h0m1 -5.7h0m1 3.7h0m1 -3.1h0m1 0.5h0m1 3.4h0m1 -3.7h0m1 6.7h0m1 -4.4h0m1 6.7h0m1 -4.6h0m1 4h0m1 -4.2h0m1 2.1h0m1 -0.5h0m1 -2.3h0m1 3.7h0m1 -6h0m1 4.6h0m1 -4.9h0m1 3.9h0m1 -8h0m1 2.7h0m1 -3.3h0m1 0h0m1 -1h0m1 -2.2h0m1 3.9h0m1 -6.9h0m1 7.1h0m1 -7h0m1 4.2h0m1 -3.9h0m1 1.5h0m1 -2.1h0m1 0h0m1 -0.3h0m1 -2.5h0m1 2.9h0m1 -7.1h0m1 4.7h0m1 -6.6h0m1 5.6h0m1 -5.4h0m1 3.4h0m1 -0.8h0m1 -0.2h0m1 0.5h0m1 -3h0m1 5h0m1 -5.5h0m1 6h0m1 -5.3h0m1 5.5h0m1 -4.3h0m1 2.4h0m1 0.3h0m1 -0.6h0m1 5.4h0m1 -3.1h0m1 7.7h0m1 -4.8h0m1 5.2h0m1 -4.8h0m1 5.7h0m1 -3.1h0m1 0.4h0m1 2h0m1 -2.2h0m1 4.8h0m1 -4.2h0m1 6.6h0m1 -5.3h0m1 6.8h0m1 -5.1h0m1 4.7h0m1 -1.8h0m1 3.1h0m1 0.8h0m1 -1h0m1 5.2h0m1 -3.6h0m1 5.8h0m1 -5.2h0m1 6.6h0m1 -3.9h0m1 4.3h0m1 0.2h0m1 -0.8h0m1 4.6h0m1 -4h0m1 4.8h0m1 -4h0m1 4.7h0m1 -4.7h0m1 6.2h0m1 -4.9h0m1 3.1h0m1 -2.1h0m1 -0.9h0m1 2.5h0m1 -5.7h0m1 4.8h0m1 -5.7h0m1 5.5h0m1 -6.1h0m1 4.9h0m1 -1.4h0m1 0.3h0m1 1.8h0m1 -2.8h0m1 4.6h0m1 -4.1h0m1 6.1h0m1 -5.1h0m1 6h0m1 -4.6h0m1 4.2h0m1 -1.6h0m1 -0.3h0m1 2.7h0m1 -3.1h0m1 4h0m1 -4.9h0m1 7.2h0m1 -5.5h0m1 4.4h0m1 -2.5h0m1 3.1h0m1 -852.1h0m1 2h0m1 3.5h0m1 -3.6h0m1 5.5h0m1 -3.6h0m1 6.9h0m1 -4.8h0m1 4.5h0m1 -2.6h0m1 3h0m1 0.5h0m1 -1.4h0m1 4.4h0m1 -4.7h0m1 5.5h0m1 -5h0m1 6.9h0m1 -4.6h0m1 3.3h0m1 -2.5h0m1 -0.2h0m1 0.8h0m1 -2.7h0m1 3.1h0m1 -5.8h0m1 5.7h0m1 -6.2h0m1 4.8h0m1 -5.1h0m1 2.3h0m1 -2.1h0m1 -1h0m1 1h0m1 -4.7h0m1 3.8h0m1 -7.2h0m1 4.5h0m1 848.7h0m1 -850.8h0m1 847.6h0m1 2.8h0m1 -1.9h0m1 -2h0m1 1.3h0m1 -4.8h0m1 2.6h0m1 -7.1h0m1 4.1h0m1 -6.4h0m1 4.1h0m1 -4.1h0m1 -0.7h0m1 0.7h0m1 -1.6h0m1 2.8h0m1 -5.2h0m1 5.2h0m1 -4.1h0m1 5.7h0m1 -5.5h0m1 4.2h0m1 -3.4h0m1 3.1h0m1 -0.2h0m1 -2.3h0m1 2.7h0m1 -6.1h0m1 5.6h0m1 -7.7h0m1 5.8h0m1 -6.1h0m1 3.4h0m1 -1.5h0m1 -0.9h0m1 1.8h0m1 -3.8h0m1 3.3h0m1 -5.4h0m1 5.3h0m1 -4h0m1 6.4h0m1 -4.6h0m1 4.2h0m1 0.5h0m1 -1h0m1 3.5h0m1 -3.9h0m1 3.5h0m1 -6.2h0m1 3.4h0m1 -5.9h0m1 3.9h0m1 -5.9h0m1 0.7h0m1 -1.3h0m1 -1.7h0m1 2.3h0m1 -3.8h0m1 3.8h0m1 -6.1h0m1 4.7h0m1 -5.8h0m1 4.3h0m1 -2.9h0" stroke="#c4e88a" stroke-width="3.9" stroke-linecap="round" fill="none"/>
<path d="M1142.5 122.7h0m1 1.3h0m1 2.6h0m1 0.8h0m1 1h0m1 2.3h0m1 0.8h0m1 0.4h0m1 2h0m1 0.5h0m1 -0.1h0m1 1.5h0m1 0.5h0m1 -0.4h0m1 1.4h0m1 0.8h0m1 -0.3h0m1 1.5h0m1 1.4h0m1 0.3h0m1 2h0m1 2h0m1 0.6h0m1 1.9h0m1 2.1h0m1 0.4h0m1 1.2h0m1 1.8h0m1 0h0m1 0.8h0m1 1.8h0m1 0h0m1 0.6h0m1 1.8h0m1 0.3h0m1 0.4h0m1 2.1h0m1 0.6h0m1 0.6h0m1 2.2h0m1 1h0m1 0.7h0m1 2.5h0m1 1.8h0m1 1.3h0m1 3.5h0m1 2.9h0m1 1.9h0m1 3.3h0m1 2.9h0m1 1.5h0m1 3h0m1 2.9h0m1 1.2h0m1 2.4h0m1 2.5h0m1 0.8h0m1 1.8h0m1 2.5h0m1 0.7h0m1 1.6h0m1 2.8h0m1 1.1h0m1 1.9h0m1 3.3h0m1 1.8h0m1 2.1h0m1 3.4h0m1 1.9h0m1 1.6h0m1 3.2h0m1 2.1h0m1 1.4h0m1 2.9h0m1 1.7h0m1 0.4h0m1 2h0m1 1.1h0m1 -0.1h0m1 1.6h0m1 1.1h0m1 -0.3h0m1 1.2h0m1 1.2h0m1 -0.4h0m1 1.1h0m1 1.4h0m1 -0.2h0m1 0.9h0m1 1.7h0m1 0h0m1 0.8h0m1 1.7h0m1 -0.1h0m1 0.3h0m1 1.5h0m1 -0.2h0m1 -0.3h0m1 1h0m1 -0.8h0m1 -1.1h0m1 0.4h0m1 -1.1h0m1 -1.7h0m1 0h0m1 -1.2h0m1 -1.9h0m1 -0.3h0m1 -0.9h0m1 -1.9h0m1 -0.2h0m1 -0.5h0m1 -1.9h0m1 -0.4h0m1 -0.4h0m1 -1.9h0m1 -0.7h0m1 -0.3h0m1 -2.1h0m1 -1h0m1 -0.4h0m1 -2.3h0m1 -1.8h0m1 -0.9h0m1 -2.8h0m1 -2.4h0m1 -1.1h0m1 -2.7h0m1 -2.3h0m1 -0.7h0m1 -2h0m1 -1.8h0m1 0h0m1 -1.1h0m1 -1.5h0m1 0.3h0m1 -0.7h0m1 -1.5h0m1 0.2h0m1 -0.6h0m1 -1.8h0m1 -0.3h0m1 -0.9h0m1 -2.5h0m1 -1.3h0m1 -1.5h0m1 -3.2h0m1 -2h0m1 -1.6h0m1 -3.2h0m1 -1.9h0m1 -1.2h0m1 -2.9h0m1 -2h0m1 -1h0m1 -2.7h0m1 -2.2h0m1 -1h0m1 -2.6h0m1 -2.5h0m1 -1h0m1 -2.6h0m1 -2.8h0m1 -1.4h0m1 -2.6h0m1 -3.2h0m1 -1.5h0m1 -2.3h0m1 -3.1h0m1 -1.1h0m1 -1.6h0m1 -2.8h0m1 -1.1h0m1 -1.5h0m1 -2.6h0m1 -1h0m1 -0.6h0m1 -1.7h0m1 0.1h0m1 0.9h0m1 -0.5h0m1 0.9h0m1 1.7h0m1 0.2h0m1 1.1h0m1 2.1h0m1 0.4h0m1 0.8h0m1 2.1h0m1 0.6h0m1 0.9h0m1 2.3h0m1 0.9h0m1 0.7h0m1 2.2h0m1 1h0m1 0.3h0m1 2h0m1 1.1h0m1 0.1h0m1 1.9h0m1 1.2h0m1 0h0m1 1.7h0m1 1.3h0m1 -0.1h0m1 1.4h0m1 1.4h0m1 0h0m1 1.3h0m1 1.7h0m1 -0.1h0m1 1h0m1 1.6h0m1 -0.3h0m1 0.3h0m1 1.1h0m1 -0.8h0m1 -0.2h0m1 1h0m1 -0.7h0m1 -0.4h0m1 1h0m1 -0.4h0m1 -0.7h0m1 1.1h0m1 0.2h0m1 0.1h0m1 2.3h0m1 1.4h0m1 0.7h0m1 2.4h0m1 1.8h0m1 1h0m1 2.8h0m1 2.6h0m1 1.1h0m1 2.5h0m1 2.1h0m1 0.4h0m1 1.5h0m1 1.9h0m1 0h0m1 1.3h0m1 2h0m1 0.4h0m1 1.4h0m1 2.8h0m1 1.4h0m1 2.2h0m1 3.6h0m1 1.9h0m1 2h0m1 3.3h0m1 1.8h0m1 1.7h0m1 3.3h0m1 1.8h0m1 0.9h0m1 2.2h0m1 0.9h0m1 -0.1h0m1 1.6h0m1 0.8h0m1 -0.3h0m1 1.2h0m1 0.9h0m1 -0.6h0m1 1h0m1 1h0m1 -0.6h0m1 0.8h0m1 1.2h0m1 -0.5h0m1 0.6h0m1 1.2h0m1 -0.4h0m1 0.3h0m1 1.3h0m1 -0.5h0m1 0h0m1 1.1h0m1 -0.5h0m1 -0.4h0m1 0.6h0m1 -1.4h0m1 -1.9h0m1 -0.5h0m1 -1.9h0m1 -2.6h0m1 -0.8h0m1 -1.7h0m1 -2.4h0m1 -0.3h0m1 -0.7h0m1 -1.7h0m1 0.1h0m1 -0.3h0m1 -1.6h0m1 0h0m1 0h0m1 -1.6h0m1 -0.2h0m1 0h0m1 -1.6h0m1 -0.5h0m1 0.1h0m1 -1.6h0m1 -0.7h0m1 0.2h0m1 -1.5h0m1 -0.9h0m1 0.3h0m1 -1.2h0m1 -1.1h0m1 0.5h0m1 -1h0m1 -1.1h0m1 0.5h0m1 -0.7h0m1 -1.2h0m1 0.6h0m1 -0.5h0m1 -1.3h0m1 0.3h0m1 -0.4h0m1 -1.5h0m1 0h0m1 -0.4h0m1 -2h0m1 -0.6h0m1 -0.9h0m1 -2.6h0m1 -1.3h0m1 -1h0m1 -2.8h0m1 -1.6h0m1 -0.8h0m1 -2.8h0m1 -2h0m1 -1.2h0m1 -2.8h0m1 -2.4h0m1 -1.2h0m1 -2.7h0m1 -2.4h0m1 -0.9h0m1 -2.2h0m1 -2.3h0m1 -0.6h0m1 -1.9h0m1 -2.4h0m1 -0.6h0m1 -1.6h0m1 -2.3h0m1 -0.5h0m1 -1h0m1 -2h0m1 -0.3h0m1 -0.5h0m1 -1.9h0m1 -0.3h0m1 -0.2h0m1 -1.7h0m1 -0.3h0m1 0.3h0m1 -1.2h0m1 0.2h0m1 1.3h0m1 -0.2h0m1 1h0m1 2.2h0m1 0.6h0m1 1.2h0m1 2.5h0m1 0.8h0m1 0.9h0m1 2.1h0m1 0.5h0m1 0.4h0m1 1.9h0m1 0.7h0m1 0.2h0m1 1.8h0m1 0.7h0m1 -0.1h0m1 1.5h0m1 0.7h0m1 -0.4h0m1 1.2h0m1 0.8h0m1 -0.5h0m1 1h0m1 1h0m1 -0.6h0m1 0.8h0m1 1.3h0m1 -0.5h0m1 0.9h0m1 1.6h0m1 -0.1h0m1 0.8h0m1 1.7h0m1 -0.2h0m1 0.2h0m1 1.2h0m1 -0.8h0m1 -0.8h0m1 0.4h0m1 -1.1h0m1 -1.4h0m1 0.3h0m1 -0.8h0m1 -1.2h0m1 0.8h0m1 0.2h0m1 -0.4h0m1 1.6h0m1 1.1h0m1 0.1h0m1 1.9h0m1 1.6h0m1 0.2h0m1 1.9h0m1 2.2h0m1 0.9h0m1 2.1h0m1 2.3h0m1 0.6h0m1 1.6h0m1 2.3h0m1 0.6h0m1 1.4h0m1 2.4h0m1 0.7h0m1 1.3h0m1 2.7h0m1 1h0m1 1.2h0m1 2.8h0m1 1.2h0m1 1.1h0m1 2.7h0m1 1.6h0m1 1h0m1 2.7h0m1 1.6h0m1 0.6h0m1 2h0m1 1.3h0m1 0.1h0m1 1.7h0m1 1.2h0m1 -0.4h0m1 0.7h0m1 0.5h0m1 -1.2h0m1 0.1h0m1 0.4h0m1 -1.3h0m1 -0.2h0m1 0.5h0m1 -1.3h0m1 -0.3h0m1 0.6h0m1 -1h0m1 -0.4h0m1 1h0m1 -0.7h0m1 -0.4h0m1 1h0m1 -0.4h0m1 -0.7h0m1 1h0m1 -0.2h0m1 -0.8h0m1 0.9h0m1 0h0m1 -0.9h0m1 0.4h0m1 -0.8h0m1 -2.3h0m1 -0.8h0m1 -1.2h0m1 -2.7h0m1 -1h0m1 -0.7h0m1 -2h0m1 -0.2h0m1 0.7h0m1 -1h0m1 0.2h0m1 0.8h0m1 -0.9h0m1 0h0m1 0.9h0m1 -0.8h0m1 -0.2h0m1 1h0m1 -0.7h0m1 -0.5h0m1 0.8h0m1 -0.8h0m1 -1.2h0m1 0.4h0m1 -0.8h0m1 -1.5h0m1 0.3h0m1 -0.7h0m1 -1.5h0m1 0.4h0m1 -0.3h0m1 -1.3h0m1 0.4h0m1 0h0m1 -1.3h0m1 0.2h0m1 0.1h0m1 -1.4h0m1 -0.1h0m1 0.2h0m1 -1.7h0m1 -0.8h0m1 -0.4h0m1 -2.4h0m1 -1.7h0m1 -0.9h0m1 -2.5h0m1 -2h0m1 -0.6h0m1 -2.2h0m1 -2.1h0m1 -0.7h0m1 -2.1h0m1 -2.3h0m1 -0.6h0m1 -1.6h0m1 -2h0m1 0h0m1 -0.9h0m1 -1.6h0m1 0.1h0m1 -0.4h0m1 -1.6h0m1 0.2h0m1 -0.2h0m1 -1.5h0m1 0.1h0m1 0h0m1 -1.5h0m1 -0.1h0m1 0.1h0m1 -1.5h0m1 -0.4h0m1 0.4h0m1 -1.4h0m1 -0.4h0m1 0.6h0m1 -1h0m1 -0.3h0m1 1h0m1 -0.4h0m1 -0.1h0m1 1.5h0m1 0.1h0m1 0.1h0m1 1.6h0m1 0.5h0m1 -0.1h0m1 1.8h0m1 1.1h0m1 0.4h0m1 2.2h0m1 1.4h0m1 0.2h0m1 1.6h0m1 0.8h0m1 -0.9h0m1 0.5h0m1 0.5h0m1 -1h0m1 0.4h0m1 0.7h0m1 -1h0m1 0.2h0m1 0.8h0m1 -0.9h0m1 0h0m1 1h0m1 -0.6h0m1 0.2h0m1 1.5h0m1 -0.1h0m1 0.2h0m1 1.6h0m1 0h0m1 -0.2h0m1 1.3h0m1 -0.1h0m1 -0.8h0m1 0.9h0m1 -0.2h0m1 -1h0m1 0.8h0m1 0h0m1 -1.1h0m1 0.6h0m1 0.2h0m1 -1.1h0m1 0.5h0m1 0.5h0m1 -1.1h0m1 0.6h0m1 1.3h0m1 -0.1h0m1 1.2h0m1 2.1h0m1 0.5h0m1 1.4h0m1 2.4h0m1 0.7h0m1 1h0m1 2.2h0m1 0.6h0m1 0.7h0m1 2.3h0m1 0.8h0m1 0.6h0m1 2.2h0m1 1h0m1 0.4h0m1 2.2h0m1 1.1h0m1 0.2h0m1 2h0m1 1.4h0m1 0.3h0m1 2h0m1 1.5h0m1 0.2h0m1 1.7h0m1 1.5h0m1 -0.1h0m1 1.1h0m1 1.4h0m1 -0.6h0m1 0.6h0m1 1.2h0m1 -0.6h0m1 0.3h0m1 1.2h0m1 -0.6h0m1 -0.1h0m1 1.1h0m1 -0.7h0m1 -0.8h0m1 0.4h0m1 -1.2h0m1 -1.5h0m1 0.1h0m1 -1.2h0m1 -1.5h0m1 0.2h0m1 -0.4h0m1 -1.1h0m1 0.8h0m1 0.2h0m1 -1h0m1 0.7h0m1 0.4h0m1 -1h0m1 0.5h0m1 0.5h0m1 -1h0m1 0.4h0m1 0.7h0m1 -1h0m1 0.2h0m1 0.8h0m1 -0.9h0m1 0h0m1 0.9h0m1 -0.8h0m1 -0.3h0m1 1h0m1 -0.7h0m1 -0.5h0m1 0.9h0m1 -0.5h0m1 -0.8h0m1 0.9h0m1 -0.4h0m1 -0.9h0m1 0.8h0m1 -0.3h0m1 -1h0m1 0.6h0m1 0h0m1 -1.2h0m1 0.5h0m1 0h0m1 -1.4h0m1 0.1h0m1 0h0m1 -1.6h0m1 -0.3h0m1 0.1h0m1 -1.7h0m1 -0.5h0m1 0.1h0m1 -1.5h0m1 -0.8h0m1 0.4h0m1 -1.4h0m1 -0.8h0m1 0.5h0m1 -1.1h0m1 -0.9h0m1 0.6h0m1 -0.9h0m1 -1.1h0m1 0.5h0m1 -0.7h0m1 -1.3h0m1 0.4h0m1 -0.7h0m1 -1.5h0m1 0.1h0m1 -0.7h0m1 -2h0m1 -0.4h0m1 -0.7h0m1 -2.2h0m1 -0.5h0m1 -0.4h0m1 -1.8h0m1 -0.4h0m1 -0.1h0m1 -1.7h0m1 -0.5h0m1 0.2h0m1 -1.5h0m1 -0.6h0m1 0.4h0m1 -1.3h0m1 -0.7h0m1 0.7h0m1 -1h0m1 -0.8h0m1 0.6h0m1 -0.7h0m1 -1h0m1 0.7h0m1 -0.5h0m1 -1h0m1 0.7h0m1 -0.2h0m1 -1h0m1 0.7h0m1 0.2h0m1 -0.9h0m1 0.8h0m1 0.6h0m1 -0.7h0m1 0.8h0m1 0.9h0m1 -0.6h0m1 0.8h0m1 1.2h0m1 -0.5h0m1 0.6h0m1 1.3h0m1 -0.4h0m1 0.4h0m1 1.4h0m1 -0.3h0m1 0.4h0m1 1.7h0m1 0.1h0m1 0.1h0m1 1.6h0m1 -0.1h0m1 -0.5h0m1 1h0m1 -0.3h0m1 -1h0m1 0.8h0m1 -0.3h0m1 -1.1h0m1 0.5h0m1 0h0m1 -1.3h0m1 0.5h0m1 0.2h0m1 -1.1h0m1 0.5h0m1 0.6h0m1 -0.8h0m1 0.6h0m1 1.1h0m1 -0.5h0m1 0.7h0m1 1.3h0m1 -0.3h0m1 0.4h0m1 1.5h0m1 -0.4h0m1 0.1h0m1 1.4h0m1 -0.3h0m1 -0.1h0m1 1.3h0m1 0h0m1 -0.3h0m1 1.4h0m1 0.2h0m1 -0.2h0m1 1.5h0m1 0.8h0m1 0.1h0m1 2h0m1 1.4h0m1 0.2h0m1 1.8h0m1 1.3h0m1 -0.2h0m1 1h0m1 1h0m1 -0.7h0m1 0.7h0m1 1.1h0m1 -0.7h0m1 0.4h0m1 1.1h0m1 -0.6h0m1 0.2h0m1 1.3h0m1 -0.5h0m1 0.1h0m1 1.4h0m1 -0.2h0m1 0h0m1 1.5h0m1 0h0m1 -0.2h0m1 1.5h0m1 0.2h0m1 -0.3h0m1 1.5h0m1 0.4h0m1 -0.3h0m1 1.4h0m1 0.7h0m1 -0.4h0m1 1.3h0m1 0.9h0m1 -0.4h0m1 1.1h0" stroke="#f4c069" stroke-width="3.8" stroke-linecap="round" fill="none"/>
<path d="M1142.5 278.7h0m1 1.2h0m1 0.8h0m1 6.9h0m1 0.4h0m1 -0.2h0m1 -1h0m1 -1.8h0m1 9h0m1 -2.7h0m1 -2.9h0m1 -2.7h0m1 -2.7h0m1 5.8h0m1 -3.2h0m1 -3h0m1 -3.1h0m1 4.3h0m1 -3.1h0m1 -3.1h0m1 -3.1h0m1 -3h0m1 3h0m1 -3.5h0m1 -3.4h0m1 -3.3h0m1 0.7h0m1 -3.8h0m1 -3.9h0m1 -4.1h0m1 -4.3h0m1 -0.9h0m1 -4.6h0m1 -5h0m1 -5.5h0m1 -5.6h0m1 -1.9h0m1 -4.8h0m1 -4.2h0m1 -4.2h0m1 -0.4h0m1 -3.3h0m1 -3.1h0m1 -3.2h0m1 -3.1h0m1 6.1h0m1 -2.8h0m1 -2.9h0m1 -2.9h0m1 7.4h0m1 -2.7h0m1 -2.8h0m1 -2.8h0m1 -2.7h0m1 8h0m1 -2.7h0m1 -2.7h0m1 -2.7h0m1 -2.7h0m1 8.7h0m1 -2.7h0m1 -2.7h0m1 -2.7h0m1 8.7h0m1 -2.7h0m1 -2.8h0m1 -2.7h0m1 -2.6h0m1 7.9h0m1 -3h0m1 -2.9h0m1 -2.8h0m1 5.1h0m1 -3.3h0m1 -3.2h0m1 -3.2h0m1 -3.1h0m1 3h0m1 -3.8h0m1 -3.7h0m1 -3.9h0m1 -3.9h0m1 0.1h0m1 -3.1h0m1 -3.1h0m1 -3.2h0m1 4.3h0m1 -2.9h0m1 -2.9h0m1 -3h0m1 -3.1h0m1 9.3h0m1 -2.3h0m1 -1.9h0m1 -1.6h0m1 8.5h0m1 -1.4h0m1 -1.3h0m1 -1.2h0m1 -1.1h0m1 8.2h0m1 -1.1h0m1 -1.3h0m1 -1.4h0m1 -1.2h0m1 8.2h0m1 -1h0m1 -1h0m1 -1h0m1 8.1h0m1 -1h0m1 -1.2h0m1 -1.4h0m1 -1.7h0m1 8.8h0m1 -2.1h0m1 -2.4h0m1 -2.6h0m1 7.7h0m1 -3h0m1 -3h0m1 -2.9h0m1 -3h0m1 5.8h0m1 -2.9h0m1 -2.9h0m1 -3h0m1 -2.8h0m1 6.6h0m1 -3h0m1 -2.9h0m1 -3h0m1 8h0m1 -2.8h0m1 -0.9h0m1 2.1h0m1 3.2h0m1 7.1h0m1 4.4h0m1 6h0m1 6.4h0m1 9.5h0m1 6.1h0m1 6h0m1 5.7h0m1 6.2h0m1 9.6h0m1 5h0m1 3.1h0m1 2h0m1 1.5h0m1 6.1h0m1 1h0m1 0.4h0m1 -0.6h0m1 8.1h0m1 -1.2h0m1 -2.4h0m1 -2.6h0m1 -2.6h0m1 8.6h0m1 -2.8h0m1 -2.8h0m1 -2.7h0m1 7.6h0m1 -2.9h0m1 -2.8h0m1 -2.8h0m1 -2.3h0m1 3h0m1 -3.9h0m1 -3.7h0m1 -3.7h0m1 -4h0m1 2.5h0m1 -3.3h0m1 -3.3h0m1 -3.4h0m1 5.7h0m1 -2h0m1 -2.3h0m1 -0.8h0m1 0.2h0m1 7h0m1 0.7h0m1 1h0m1 1h0m1 6.7h0m1 0.7h0m1 0.1h0m1 -0.2h0m1 0.1h0m1 7.2h0m1 0.1h0m1 -0.1h0m1 -0.4h0m1 -0.9h0m1 8h0m1 -1.2h0m1 -2h0m1 -2.6h0m1 9.3h0m1 -2.6h0m1 -2.6h0m1 -2.6h0m1 -2.6h0m1 9.4h0m1 -2.7h0m1 -2.5h0m1 -2.5h0m1 3.4h0m1 -3.9h0m1 -3.6h0m1 -3.6h0m1 -3.5h0m1 0.1h0m1 -4h0m1 -4.3h0m1 -4.4h0m1 -4.3h0m1 -0.5h0m1 -3.8h0m1 -4h0m1 -4h0m1 -0.3h0m1 -3.1h0m1 -3.2h0m1 -3.2h0m1 -3.1h0m1 6.6h0m1 -2.8h0m1 -2.8h0m1 -2.9h0m1 7.7h0m1 -2.7h0m1 -2.7h0m1 -2.8h0m1 -2.7h0m1 7.9h0m1 -2.7h0m1 -2.7h0m1 -2.7h0m1 -2.8h0m1 8.4h0m1 -2.7h0m1 -2.7h0m1 -2.7h0m1 8.4h0m1 -2.8h0m1 -2.7h0m1 -2.7h0m1 -2.8h0m1 8h0m1 -2.8h0m1 -2.7h0m1 -2.8h0m1 7.6h0m1 -2.9h0m1 -2.8h0m1 -2.9h0m1 -2.8h0m1 6h0m1 -3.6h0m1 -3.6h0m1 -3.8h0m1 -4h0m1 -0.3h0m1 -3.4h0m1 -3.3h0m1 -3.2h0m1 3.5h0m1 -3.1h0m1 -3.1h0m1 -3.1h0m1 -3.3h0m1 6.9h0m1 -2.5h0m1 -2.5h0m1 -2.6h0m1 9.3h0m1 -2.4h0m1 -2.5h0m1 -2.3h0m1 -2.3h0m1 9.1h0m1 -2.2h0m1 -2.3h0m1 -2.1h0m1 -2.2h0m1 9h0m1 -2h0m1 -1.4h0m1 -1h0m1 7.9h0m1 -0.7h0m1 -0.6h0m1 -0.6h0m1 -0.8h0m1 7.9h0m1 -0.9h0m1 -0.9h0m1 -0.9h0m1 8h0m1 -0.9h0m1 -0.9h0m1 -1h0m1 -1h0m1 8.1h0m1 -1.1h0m1 -1.2h0m1 -1.4h0m1 -1.5h0m1 8.5h0m1 -1.6h0m1 -1.5h0m1 -1.3h0m1 8.3h0m1 -1.2h0m1 -0.9h0m1 -0.5h0m1 -0.2h0m1 7.4h0m1 0h0m1 0.2h0m1 0.4h0m1 6.9h0m1 0.4h0m1 0.4h0m1 0.5h0m1 0.9h0m1 6.4h0m1 1.2h0m1 1.4h0m1 1h0m1 0.6h0m1 6.9h0m1 -0.1h0m1 -1.1h0m1 -1.3h0m1 8.3h0m1 -1.3h0m1 -1.5h0m1 -1.6h0m1 -1.7h0m1 8.7h0m1 -1.9h0m1 -2h0m1 -2.2h0m1 9.2h0m1 -2.4h0m1 -2.7h0m1 -2.6h0m1 -2.6h0m1 7.4h0m1 -2.9h0m1 -2.9h0m1 -2.9h0m1 -2.9h0m1 6.6h0m1 -2.9h0m1 -2.9h0m1 -2.9h0m1 7.7h0m1 -2.6h0m1 -2.6h0m1 -2.4h0m1 -1.7h0m1 8.6h0m1 -1.4h0m1 -0.9h0m1 -0.7h0m1 7.7h0m1 -0.4h0m1 -0.4h0m1 -0.5h0m1 -0.5h0m1 7.4h0m1 0h0m1 0.6h0m1 0.7h0m1 0.3h0m1 7.2h0m1 -0.2h0m1 -1.4h0m1 -2.5h0m1 9h0m1 -2.7h0m1 -2.8h0m1 -2.7h0m1 -2.7h0m1 7.9h0m1 -2.9h0m1 -2.8h0m1 -2.8h0m1 7.4h0m1 -2.9h0m1 -2.9h0m1 -2.9h0m1 -2.8h0m1 5.7h0m1 -3.1h0m1 -3.1h0m1 -3h0m1 -3h0m1 4.2h0m1 -3.3h0m1 -3.2h0m1 -3.1h0m1 0h0m1 -3.9h0m1 -4.1h0m1 -3.9h0m1 -3.8h0m1 0.9h0m1 -2.9h0m1 -3.2h0m1 -3.2h0m1 4h0m1 -3h0m1 -3h0m1 -3.1h0m1 -3.1h0m1 7.6h0m1 -2.5h0m1 -2.6h0m1 -2.7h0m1 -2.7h0m1 8.9h0m1 -2.6h0m1 -2.6h0m1 -2.7h0m1 9.4h0m1 -2.6h0m1 -2.3h0m1 -2.3h0m1 -2.1h0m1 9h0m1 -2.1h0m1 -2.1h0m1 -2.1h0m1 9h0m1 -2.1h0m1 -2.2h0m1 -2.3h0m1 -2.4h0m1 9.2h0m1 -2.5h0m1 -2.7h0m1 -2.6h0m1 -2.6h0m1 8.5h0m1 -2.7h0m1 -2.7h0m1 -2.8h0m1 7.5h0m1 -3.8h0m1 -3.8h0m1 -3.6h0m1 -3.8h0m1 0.3h0m1 -2.9h0m1 -2.9h0m1 -3h0m1 5.9h0m1 -2.9h0m1 -2.9h0m1 -2.9h0m1 -2.9h0m1 7.5h0m1 -2.7h0m1 -2.7h0m1 -2.7h0m1 -2.6h0m1 9.4h0m1 -2.6h0m1 -2.5h0m1 -2.5h0m1 9.2h0m1 -2.4h0m1 -2.5h0m1 -2.4h0m1 -2.4h0m1 9.2h0m1 -2.4h0m1 -2.3h0m1 -1.9h0m1 8.4h0m1 -1.2h0m1 -0.6h0m1 -0.2h0m1 -0.1h0m1 7.4h0m1 -0.1h0m1 -0.3h0m1 -0.7h0m1 -1.2h0m1 8.2h0m1 -1.3h0m1 -1.4h0m1 -1.5h0m1 8.5h0m1 -1.5h0m1 -1.6h0m1 -1.6h0m1 -1.6h0m1 8.5h0m1 -1.6h0m1 -1.5h0m1 -1.6h0m1 8.6h0m1 -1.6h0m1 -1.5h0m1 -1.6h0m1 -1.5h0m1 8.5h0m1 -1.5h0m1 -1.5h0m1 -1.5h0m1 -1.5h0m1 8.4h0m1 -1.4h0m1 -1.4h0m1 -1.3h0m1 8.3h0m1 -1.3h0m1 -1.2h0m1 -1.2h0m1 -1.2h0m1 8.2h0m1 -1.1h0m1 -1.2h0m1 -1.2h0m1 8.2h0m1 -1.2h0m1 -1.2h0m1 -1.1h0m1 -1h0m1 8.1h0m1 -0.9h0m1 -1h0m1 -1h0m1 -1.1h0m1 8.2h0m1 -1.3h0m1 -1.4h0m1 -1.8h0m1 8.8h0m1 -2h0m1 -2.2h0m1 -2.3h0m1 -2.3h0m1 9.1h0m1 -2.3h0m1 -2.4h0m1 -2.4h0m1 9.2h0m1 -2.4h0m1 -2.4h0m1 -2.3h0m1 -2.2h0m1 9h0m1 -2.1h0m1 -1.9h0m1 -1.7h0m1 -1.7h0m1 8.6h0m1 -1.6h0m1 -1.7h0m1 -1.7h0m1 8.7h0m1 -1.7h0m1 -2h0m1 -2.1h0m1 -2.3h0m1 9.2h0m1 -2.6h0m1 -2.7h0m1 -2.6h0m1 8.2h0m1 -2.9h0m1 -2.8h0m1 -2.8h0m1 -2.8h0m1 7.2h0m1 -2.9h0m1 -2.8h0m1 -2.8h0m1 -2.9h0m1 7.3h0m1 -2.9h0m1 -2.8h0m1 -2.8h0m1 7h0m1 -2.9h0m1 -2.9h0m1 -2.9h0m1 -2.8h0m1 6.2h0m1 -3h0m1 -3h0m1 -2.9h0m1 4.3h0m1 -3.7h0m1 -3.5h0m1 -3.4h0m1 -3.5h0m1 2.8h0m1 -3h0m1 -3.2h0m1 -3.2h0m1 -3.3h0m1 4.3h0m1 -3h0m1 -3h0m1 -3.2h0m1 8.3h0m1 -2.4h0m1 -2.5h0m1 -2.4h0m1 -2.3h0m1 9.1h0m1 -2.3h0m1 -2.2h0m1 -2.1h0m1 5.2h0m1 -4.2h0m1 6.2h0m1 -5.9h0m1 4.9h0m1 -1.9h0m1 1.7h0m1 1.9h0m1 -3.1h0m1 6.2h0m1 -5.5h0m1 7.9h0m1 -4.4h0m1 1.9h0m1 -0.1h0m1 -0.8h0m1 3.2h0m1 -5.1h0m1 5h0m1 -6h0m1 4.4h0m1 -4.2h0m1 2.4h0m1 -1.9h0m1 -1.2h0m1 2.7h0m1 -5.5h0m1 2.9h0m1 -6.5h0m1 4.2h0m1 -5.9h0m1 0.1h0m1 -1.2h0m1 -6.2h0m1 2.7h0m1 -5.8h0m1 4.5h0m1 -7.4h0m1 1.9h0m1 -4.1h0m1 -0.7h0m1 0h0m1 -4.8h0m1 4.1h0m1 -5.3h0m1 4.4h0m1 -3.9h0m1 3.9h0m1 -0.9h0m1 -2h0m1 4.4h0m1 -3.9h0m1 5.7h0m1 -6.2h0m1 6h0m1 -3.6h0m1 4.5h0m1 -1.3h0m1 -1.1h0m1 4.6h0m1 -4.1h0m1 7.1h0m1 -4.7h0m1 4.9h0m1 -0.9h0m1 2.1h0m1 4.4h0m1 -0.1h0m1 6.5h0m1 -4.3h0m1 7h0m1 -4.9h0m1 4.7h0m1 -2h0m1 1.1h0m1 3.2h0m1 -3.8h0m1 5.7h0m1 -5.6h0m1 5.9h0m1 -4.1h0m1 3.4h0m1 -1.9h0m1 1h0m1 1.2h0m1 -4.4h0m1 6.7h0m1 -6h0m1 5h0m1 -4.3h0m1 3.8h0m1 -0.7h0m1 -1.7h0m1 4.7h0m1 -4.4h0m1 5h0m1 -4.4h0m1 4.6h0m1 -1.6h0m1 2h0m1 0h0m1 -2.4h0m1 6.9h0m1 -5.5h0m1 6h0m1 -4.5h0m1 6.8h0m1 -2.2h0m1 0.8h0m1 3h0m1 -3.5h0m1 6.4h0m1 -6.1h0m1 7.1h0m1 -5.6h0m1 4.6h0m1 -2.7h0m1 0.2h0m1 2.8h0m1 -3.6h0m1 4.1h0m1 -4.3h0m1 5.5h0m1 -5.2h0m1 1.8h0m1 1h0m1 -1.8h0m1 4.1h0m1 -5.8h0m1 6.7h0m1 -7.2h0m1 5.1h0m1 -2.8h0m1 1.6h0m1 0.4h0m1 -2.5h0m1 3.6h0m1 -6h0m1 5.7h0m1 -6.4h0m1 3.2h0m1 -2h0m1 -1.1h0m1 2.2h0m1 -4.1h0m1 4.6h0m1 -6.3h0m1 7.4h0m1 -6.6h0m1 5.3h0m1 -1.7h0m1 -0.7h0m1 3.3h0m1 -5h0m1 7h0m1 -7.1h0m1 6.5h0m1 -4.5h0m1 3.1h0m1 -1h0m1 -0.7h0m1 3.3h0m1 -5.1h0m1 3.9h0m1 -5.7h0m1 5.4h0m1 -3.2h0m1 0.6h0m1 0.8h0m1 -3.9h0m1 5.4h0m1 -5.7h0m1 5.2h0m1 -6.2h0m1 4.8h0m1 -2.1h0m1 0.1h0m1 2h0m1 -4.3h0m1 3.9h0m1 -5.2h0m1 4.4h0m1 -4h0m1 0.9h0m1 -2.6h0m1 -4.6h0m1 -0.5h0m1 -7.7h0m1 5.1h0m1 -6.3h0m1 4.5h0m1 -4.8h0m1 2.3h0m1 -0.7h0m1 -1.9h0m1 2.4h0m1 -3.9h0m1 6.5h0m1 -7.3h0m1 5.6h0m1 -1.9h0m1 0.5h0m1 1.5h0m1 -1h0m1 3.8h0m1 -4h0m1 5h0m1 -5h0m1 4.1h0m1 -0.9h0m1 1.1h0m1 0.3h0m1 -3h0m1 6h0m1 -6.8h0m1 5.9h0m1 -4.3h0m1 3.8h0m1 -1.2h0m1 -0.5h0m1 2h0m1 -4.3h0m1 4.8h0m1 -6.3h0m1 6.2h0m1 -6.2h0m1 2.7h0m1 -1.8h0m1 -0.9h0m1 2.9h0m1 -7.4h0m1 6.2h0m1 -6.2h0m1 2.9h0" stroke="#ff8947" stroke-width="3.8" stroke-linecap="round" fill="none"/>
<path d="M1141.6 406.3h0m1 4h0m1 3.6h0m1 3.2h0m1 2.4h0m1 1.6h0m1 0.7h0m1 -0.4h0m1 -1.2h0m1 -1.9h0m1 -2.5h0m1 -2.8h0m1 -3h0m1 -3.1h0m1 -3h0m1 -2.8h0m1 -2.3h0m1 -1.8h0m1 -1.1h0m1 -0.2h0m1 0.8h0m1 1.5h0m1 2.2h0m1 2.5h0m1 2.7h0m1 2.7h0m1 2.5h0m1 2.2h0m1 1.5h0m1 0.8h0m1 -0.2h0m1 -0.7h0m1 -1.1h0m1 -1.5h0m1 -1.7h0m1 -1.7h0m1 -1.7h0m1 -1.6h0m1 -1.2h0m1 -0.9h0m1 -0.3h0m1 0.4h0m1 1.1h0m1 1.7h0m1 2.2h0m1 2.4h0m1 2.6h0m1 2.7h0m1 2.5h0m1 2.4h0m1 1.9h0m1 1.4h0m1 0.8h0m1 0h0m1 -0.9h0m1 -1.6h0m1 -2.2h0m1 -2.6h0m1 -2.8h0m1 -2.9h0m1 -2.7h0m1 -2.5h0m1 -2h0m1 -1.3h0m1 -0.6h0m1 0.4h0m1 1.4h0m1 2.1h0m1 2.7h0m1 3.1h0m1 3.2h0m1 3.2h0m1 3h0m1 2.6h0m1 1.9h0m1 1.2h0m1 0.3h0m1 -0.5h0m1 -1h0m1 -1.3h0m1 -1.6h0m1 -1.8h0m1 -1.7h0m1 -1.6h0m1 -1.4h0m1 -1h0m1 -0.5h0m1 0h0m1 0.8h0m1 1.4h0m1 1.9h0m1 2.2h0m1 2.3h0m1 2.3h0m1 2.3h0m1 2h0m1 1.6h0m1 1h0m1 0.4h0m1 -0.5h0m1 -1.4h0m1 -2.2h0m1 -2.7h0m1 -3.1h0m1 -3.3h0m1 -3.3h0m1 -3.2h0m1 -2.9h0m1 -2.5h0m1 -1.8h0m1 -1h0m1 0h0m1 0.9h0m1 1.5h0m1 2.1h0m1 2.4h0m1 2.6h0m1 2.5h0m1 2.3h0m1 2h0m1 1.4h0m1 0.6h0m1 -0.2h0m1 -0.9h0m1 -1.3h0m1 -1.8h0m1 -1.9h0m1 -2.1h0m1 -2.2h0m1 -1.9h0m1 -1.8h0m1 -1.3h0m1 -0.9h0m1 -0.2h0m1 0.7h0m1 1.5h0m1 2h0m1 2.5h0m1 2.7h0m1 2.7h0m1 2.6h0m1 2.2h0m1 1.6h0m1 0.8h0m1 0h0m1 -0.9h0m1 -1.4h0m1 -2h0m1 -2.4h0m1 -2.6h0m1 -2.8h0m1 -2.8h0m1 -2.7h0m1 -2.4h0m1 -2.1h0m1 -1.6h0m1 -1.1h0m1 -0.3h0m1 0.6h0m1 1.5h0m1 2.1h0m1 2.5h0m1 2.7h0m1 2.6h0m1 2.3h0m1 1.8h0m1 1.1h0m1 0.1h0m1 -0.6h0m1 -1.2h0m1 -1.7h0m1 -2.1h0m1 -2.3h0m1 -2.4h0m1 -2.4h0m1 -2.2h0m1 -2h0m1 -1.7h0m1 -1.1h0m1 -0.5h0m1 0.3h0m1 1.3h0m1 1.9h0m1 2.5h0m1 2.7h0m1 2.9h0m1 2.7h0m1 2.5h0m1 1.9h0m1 1.3h0m1 0.3h0m1 -0.5h0m1 -1.2h0m1 -1.7h0m1 -2.1h0m1 -2.4h0m1 -2.4h0m1 -2.6h0m1 -2.3h0m1 -2.2h0m1 -1.8h0m1 -1.3h0m1 -0.6h0m1 0.1h0m1 0.9h0m1 1.7h0m1 2.1h0m1 2.6h0m1 2.8h0m1 2.8h0m1 2.7h0m1 2.4h0m1 2h0m1 1.4h0m1 0.6h0m1 -0.2h0m1 -0.8h0m1 -1.3h0m1 -1.6h0m1 -1.9h0m1 -1.9h0m1 -2h0m1 -1.9h0m1 -1.6h0m1 -1.3h0m1 -0.8h0m1 -0.2h0m1 0.6h0m1 1.2h0m1 1.8h0m1 2.2h0m1 2.4h0m1 2.5h0m1 2.4h0m1 2.3h0m1 1.9h0m1 1.3h0m1 0.7h0m1 -0.1h0m1 -0.9h0m1 -1.6h0m1 -2.2h0m1 -2.5h0m1 -2.7h0m1 -2.7h0m1 -2.6h0m1 -2.4h0m1 -1.8h0m1 -1.3h0m1 -0.4h0m1 0.5h0m1 1.4h0m1 2.1h0m1 2.6h0m1 3h0m1 3.1h0m1 3.1h0m1 2.9h0m1 2.4h0m1 1.8h0m1 1.1h0m1 0.1h0m1 -0.5h0m1 -1h0m1 -1.4h0m1 -1.7h0m1 -1.8h0m1 -1.9h0m1 -1.8h0m1 -1.6h0m1 -1.3h0m1 -1h0m1 -0.4h0m1 0.2h0m1 0.8h0m1 1.2h0m1 1.6h0m1 1.9h0m1 2h0m1 2h0m1 2h0m1 1.9h0m1 1.6h0m1 1.2h0m1 0.8h0m1 0.2h0m1 -0.8h0m1 -1.6h0m1 -2.3h0m1 -2.8h0m1 -3.2h0m1 -3.2h0m1 -3.2h0m1 -2.9h0m1 -2.4h0m1 -1.8h0m1 -0.9h0m1 0h0m1 0.8h0m1 1.3h0m1 1.7h0m1 2h0m1 2.3h0m1 2.3h0m1 2.3h0m1 2.1h0m1 1.9h0m1 1.4h0m1 0.9h0m1 0.3h0m1 -0.4h0m1 -1h0m1 -1.5h0m1 -1.8h0m1 -2.1h0m1 -2.1h0m1 -2.1h0m1 -1.9h0m1 -1.6h0m1 -1.2h0m1 -0.7h0m1 0h0m1 0.8h0m1 1.5h0m1 2h0m1 2.4h0m1 2.6h0m1 2.6h0m1 2.5h0m1 2.2h0m1 1.8h0m1 1.3h0m1 0.5h0m1 -0.4h0m1 -1.2h0m1 -1.9h0m1 -2.5h0m1 -2.8h0m1 -3h0m1 -3.1h0m1 -3h0m1 -2.8h0m1 -2.3h0m1 -1.8h0m1 -1.1h0m1 -0.2h0m1 0.7h0m1 1.3h0m1 1.8h0m1 2.1h0m1 2.3h0m1 2.4h0m1 2.1h0m1 1.8h0m1 1.3h0m1 0.7h0m1 -0.2h0m1 -0.8h0m1 -1.3h0m1 -1.7h0m1 -2.1h0m1 -2.2h0m1 -2.3h0m1 -2.3h0m1 -2.1h0m1 -1.8h0m1 -1.4h0m1 -0.9h0m1 -0.3h0m1 0.6h0m1 1.3h0m1 2h0m1 2.5h0m1 2.7h0m1 2.9h0m1 2.8h0m1 2.6h0m1 2.2h0m1 1.7h0m1 0.9h0m1 0h0m1 -0.7h0m1 -1.4h0m1 -1.8h0m1 -2.2h0m1 -2.3h0m1 -2.4h0m1 -2.2h0m1 -2.1h0m1 -1.6h0m1 -1.1h0m1 -0.5h0m1 0.3h0m1 1h0m1 1.6h0m1 1.9h0m1 2.3h0m1 2.3h0m1 2.4h0m1 2.2h0m1 1.9h0m1 1.4h0m1 0.9h0m1 0.2h0m1 -0.7h0m1 -1.3h0m1 -1.8h0m1 -2.2h0m1 -2.4h0m1 -2.6h0m1 -2.4h0m1 -2.2h0m1 -1.8h0m1 -1.3h0m1 -0.7h0m1 0.2h0m1 0.7h0m1 1.2h0m1 1.6h0m1 1.9h0m1 2.1h0m1 2.2h0m1 2.2h0m1 2.1h0m1 1.8h0m1 1.6h0m1 1.1h0m1 0.6h0m1 0h0m1 -0.5h0m1 -1.1h0m1 -1.4h0m1 -1.6h0m1 -1.9h0m1 -2h0m1 -2h0m1 -1.9h0m1 -1.7h0m1 -1.4h0m1 -1.1h0m1 -0.6h0m1 0h0m1 0.7h0m1 1.4h0m1 2h0m1 2.3h0m1 2.6h0m1 2.8h0m1 2.7h0m1 2.6h0m1 2.3h0m1 1.8h0m1 1.3h0m1 0.6h0m1 -0.2h0m1 -0.8h0m1 -1.2h0m1 -1.6h0m1 -1.9h0m1 -2h0m1 -2h0m1 -2h0m1 -1.9h0m1 -1.6h0m1 -1.2h0m1 -0.8h0m1 -0.2h0m1 0.5h0m1 1.1h0m1 1.6h0m1 2h0m1 2.2h0m1 2.2h0m1 2.2h0m1 2h0m1 1.7h0m1 1.2h0m1 0.6h0m1 -0.1h0m1 -0.8h0m1 -1.6h0m1 -2.1h0m1 -2.4h0m1 -2.7h0m1 -2.8h0m1 -2.7h0m1 -2.5h0m1 -2.2h0m1 -1.8h0m1 -1.1h0m1 -0.3h0m1 0.4h0m1 1h0m1 1.5h0m1 1.9h0m1 2.1h0m1 2.3h0m1 2.3h0m1 2.2h0m1 2h0m1 1.6h0m1 1.2h0m1 0.7h0m1 0h0m1 -0.5h0m1 -1.1h0m1 -1.4h0m1 -1.7h0m1 -1.8h0m1 -2h0m1 -1.9h0m1 -1.8h0m1 -1.6h0m1 -1.3h0m1 -0.8h0m1 -0.4h0m1 0.3h0m1 1h0m1 1.6h0m1 1.9h0m1 2.2h0m1 2.4h0m1 2.3h0m1 2.2h0m1 1.9h0m1 1.4h0m1 0.9h0m1 0.2h0m1 -0.7h0m1 -1.4h0m1 -1.9h0m1 -2.3h0m1 -2.7h0m1 -2.7h0m1 -2.8h0m1 -2.6h0m1 -2.3h0m1 -1.9h0m1 -1.3h0m1 -0.6h0m1 0.2h0m1 0.7h0m1 1.2h0m1 1.5h0m1 1.8h0m1 1.9h0m1 1.9h0m1 1.9h0m1 1.8h0m1 1.5h0m1 1.2h0m1 0.7h0m1 0.2h0m1 -0.5h0m1 -1.1h0m1 -1.5h0m1 -1.8h0m1 -2.1h0m1 -2.1h0m1 -2.1h0m1 -1.9h0m1 -1.6h0m1 -1.1h0m1 -0.6h0m1 0h0m1 0.8h0m1 1.4h0m1 1.9h0m1 2.2h0m1 2.5h0m1 2.5h0m1 2.5h0m1 2.3h0m1 2.1h0m1 1.6h0m1 1h0m1 0.4h0m1 -0.4h0m1 -1h0m1 -1.5h0m1 -2h0m1 -2.2h0m1 -2.4h0m1 -2.5h0m1 -2.3h0m1 -2.1h0m1 -1.8h0m1 -1.3h0m1 -0.7h0m1 0h0m1 0.6h0m1 1.1h0m1 1.5h0m1 1.8h0m1 2h0m1 2h0m1 2.1h0m1 1.9h0m1 1.7h0m1 1.3h0m1 0.9h0m1 0.4h0m1 -0.3h0m1 -0.8h0m1 -1.2h0m1 -1.7h0m1 -1.8h0m1 -2.1h0m1 -2h0m1 -2h0m1 -1.9h0m1 -1.5h0m1 -1.2h0m1 -0.7h0m1 -0.2h0m1 0.5h0m1 0.9h0m1 1.4h0m1 1.7h0m1 1.9h0m1 2.1h0m1 2.2h0m1 2.1h0m1 2h0m1 1.9h0m1 1.5h0m1 1.2h0m1 0.7h0m1 0.2h0m1 -0.5h0m1 -1.1h0m1 -1.7h0m1 -1.9h0m1 -2.1h0m1 -2.2h0m1 -2.1h0m1 -1.9h0m1 -1.5h0m1 -1h0m1 -0.4h0m1 0.3h0m1 0.9h0m1 1.4h0m1 1.8h0m1 2h0m1 2.1h0m1 2.2h0m1 2.1h0m1 1.9h0m1 1.6h0m1 1.2h0m1 0.7h0m1 0h0m1 -0.5h0m1 -1.1h0m1 -1.6h0m1 -1.8h0m1 -2.1h0m1 -2.2h0m1 -2.1h0m1 -2.1h0m1 -1.8h0m1 -1.4h0m1 -1h0m1 -0.5h0m1 0.2h0m1 0.8h0m1 1.3h0m1 1.7h0m1 2h0m1 2.2h0m1 2.2h0m1 2.1h0m1 1.9h0m1 1.7h0m1 1.3h0m1 0.7h0m1 0.2h0m1 -0.5h0m1 -1h0m1 -1.5h0m1 -1.8h0m1 -2h0m1 -2.2h0m1 -2.3h0m1 -2.2h0m1 -2h0m1 -1.8h0m1 -1.5h0m1 -1h0m1 -0.5h0m1 0.2h0m1 0.7h0m1 1.3h0m1 1.7h0m1 1.9h0m1 2.2h0m1 2.2h0m1 2.1h0m1 2h0m1 1.7h0m1 1.4h0m1 0.8h0m1 0.2h0m1 -0.4h0m1 -0.9h0m1 -1.3h0m1 -1.7h0m1 -1.8h0m1 -1.9h0m1 -1.9h0m1 -1.9h0m1 -1.7h0m1 -1.3h0m1 -1h0m1 -0.6h0m1 0.1h0m1 0.7h0m1 1.1h0m1 1.5h0m1 1.9h0m1 2h0m1 2h0m1 2.1h0m1 1.9h0m1 1.6h0m1 1.3h0m1 0.9h0m1 0.3h0m1 -0.4h0m1 -1.1h0m1 -1.7h0m1 -2.2h0m1 -2.4h0m1 -2.7h0m1 -2.6h0m1 -2.6h0m1 -2.3h0m1 -2h0m1 -1.4h0m1 -0.8h0m1 0h0m1 0.5h0m1 0.9h0m1 1.4h0m1 1.6h0m1 1.7h0m1 1.9h0m1 1.9h0m1 1.9h0m1 1.7h0m1 1.5h0m1 1.2h0m1 0.8h0m1 0.3h0m1 -0.2h0m1 -0.8h0m1 -1.1h0m1 -1.5h0m1 -1.6h0m1 -1.7h0m1 -1.7h0m1 -1.7h0m1 -1.3h0m1 -1.1h0m1 -0.7h0m1 -0.1h0m1 0.4h0m1 0.8h0m1 1.1h0m1 1.4h0m1 1.6h0m1 1.7h0m1 1.8h0m1 1.8h0m1 1.7h0m1 1.6h0m1 1.3h0m1 1.1h0m1 0.8h0m1 0.3h0m1 -0.2h0m1 -0.9h0m1 -1.5h0m1 -1.9h0m1 -2.2h0m1 -2.4h0m1 -2.4h0m1 -2.3h0m1 -2.2h0m1 -1.9h0m1 -1.4h0m1 -0.8h0m1 -0.2h0m1 0.5h0m1 0.8h0m1 1.3h0m1 1.6h0m1 1.7h0m1 1.9h0m1 2h0m1 1.8h0m1 1.8h0m1 1.5h0m1 1.3h0m1 0.8h0m1 0.4h0m1 -0.2h0m1 -0.7h0m1 -1.1h0m1 -1.4h0m1 -1.6h0m1 -1.8h0m1 -1.9h0m1 -1.8h0m1 -1.6h0m1 -1.4h0m1 -1.1h0m1 -0.7h0m1 -0.2h0m1 0.5h0m1 1.1h0m1 1.5h0m1 1.9h0m1 2.2h0m1 2.3h0m1 2.3h0m1 2.2h0m1 1.9h0m1 1.7h0m1 1.1h0m1 0.6h0m1 0h0m1 -0.7h0m1 -1.1h0m1 -1.5h0m1 -1.8h0m1 -2h0m1 -2.2h0m1 -2.1h0m1 -2.1h0m1 -1.9h0m1 -1.6h0m1 -1.3h0m1 -0.8h0m1 -0.2h0m1 0.1h0m1 0.4h0m1 0.6h0m1 0.9h0m1 1.1h0m1 1.3h0m1 1.5h0m1 1.8h0m1 2h0m1 2.2h0m1 2.5h0m1 2.6h0m1 2.9h0" stroke="#ff4724" stroke-width="4.7" stroke-linecap="round" fill="none"/>
<path d="M1142.6 695.3h0m1 -0.3h0m1 -0.9h0m1 -1.2h0m1 -1.4h0m1 -1.9h0m1 -2.9h0m1 -3.7h0m1 -4h0m1 -3.8h0m1 -3.4h0m1 -3.5h0m1 -3.6h0m1 -3.3h0m1 -3.1h0m1 -2.8h0m1 -2.7h0m1 -2.6h0m1 -2.3h0m1 -1.7h0m1 -1h0m1 -0.7h0m1 -0.5h0m1 -0.3h0m1 0.1h0m1 0.4h0m1 0.6h0m1 0.7h0m1 0.7h0m1 0.7h0m1 0.6h0m1 0.4h0m1 0.1h0m1 -0.1h0m1 -0.1h0m1 -0.3h0m1 -0.3h0m1 -0.3h0m1 -0.4h0m1 -0.5h0m1 -0.4h0m1 -0.5h0m1 -0.5h0m1 -0.4h0m1 -0.5h0m1 -0.6h0m1 -0.8h0m1 -0.9h0m1 -1.3h0m1 -2.2h0m1 -2.7h0m1 -3.2h0m1 -3.3h0m1 -3.3h0m1 -3.8h0m1 -4.1h0m1 -4.3h0m1 -4.1h0m1 -4h0m1 -4.2h0m1 -4.3h0m1 -4h0m1 -3.2h0m1 -2.1h0m1 -1.7h0m1 -1.5h0m1 -1.3h0m1 -0.8h0m1 -0.2h0m1 0.2h0m1 0.5h0m1 0.7h0m1 0.9h0m1 0.9h0m1 0.9h0m1 0.9h0m1 0.7h0m1 0.5h0m1 0.5h0m1 0.4h0m1 0.4h0m1 0.4h0m1 0.3h0m1 0.4h0m1 0.4h0m1 0.5h0m1 0.5h0m1 0.7h0m1 0.8h0m1 0.8h0m1 0.7h0m1 0.7h0m1 0.5h0m1 0.3h0m1 0.1h0m1 -0.5h0m1 -0.9h0m1 -1.1h0m1 -1.4h0m1 -1.5h0m1 -2.1h0m1 -2.8h0m1 -3.1h0m1 -3h0m1 -2.5h0m1 -2.2h0m1 -2.4h0m1 -2.3h0m1 -2h0m1 -1.7h0m1 -1.1h0m1 -0.3h0m1 0.4h0m1 0.8h0m1 1.3h0m1 1.5h0m1 1.7h0m1 1.7h0m1 1.7h0m1 1.9h0m1 2.1h0m1 2.3h0m1 2.4h0m1 2.4h0m1 2.4h0m1 2.3h0m1 2.2h0m1 2.1h0m1 2.2h0m1 2.2h0m1 2.2h0m1 2.4h0m1 2.7h0m1 3h0m1 3.3h0m1 3.4h0m1 3.3h0m1 3h0m1 2.4h0m1 1.9h0m1 1.8h0m1 1.7h0m1 1.5h0m1 1.1h0m1 0.5h0m1 0h0m1 -0.4h0m1 -0.8h0m1 -1h0m1 -1h0m1 -1h0m1 -0.9h0m1 -0.6h0m1 -0.2h0m1 0.3h0m1 0.8h0m1 1.1h0m1 1.5h0m1 1.5h0m1 1.6h0m1 1.9h0m1 2.6h0m1 2.8h0m1 3h0m1 2.9h0m1 2.4h0m1 1.7h0m1 1.4h0m1 1.1h0m1 1.1h0m1 0.9h0m1 0.9h0m1 0.8h0m1 0.9h0m1 0.8h0m1 0.8h0m1 0.7h0m1 0.8h0m1 0.7h0m1 0.7h0m1 0.7h0m1 0.8h0m1 0.8h0m1 0.8h0m1 0.7h0m1 0.6h0m1 0.3h0m1 -0.1h0m1 -0.6h0m1 -1.2h0m1 -1.4h0m1 -1.6h0m1 -1.7h0m1 -2.4h0m1 -3h0m1 -3.1h0m1 -2.9h0m1 -2.2h0m1 -2h0m1 -2.1h0m1 -1.9h0m1 -1.7h0m1 -1.2h0m1 -0.8h0m1 -0.2h0m1 0.2h0m1 0.4h0m1 0.6h0m1 0.7h0m1 0.8h0m1 0.7h0m1 0.7h0m1 0.5h0m1 0.4h0m1 0.1h0m1 -0.2h0m1 -0.4h0m1 -0.7h0m1 -0.9h0m1 -1h0m1 -1h0m1 -1h0m1 -0.9h0m1 -0.8h0m1 -0.7h0m1 -0.4h0m1 -0.3h0m1 -0.2h0m1 -0.2h0m1 -0.3h0m1 -0.2h0m1 -0.3h0m1 -0.4h0m1 -0.5h0m1 -0.8h0m1 -1.4h0m1 -1.8h0m1 -2h0m1 -2.3h0m1 -2.8h0m1 -3.8h0m1 -4.3h0m1 -4.1h0m1 -3.5h0m1 -2.8h0m1 -2.8h0m1 -2.7h0m1 -2.4h0m1 -2h0m1 -1.6h0m1 -0.9h0m1 -0.4h0m1 -0.3h0m1 -0.2h0m1 0.1h0m1 0.3h0m1 0.7h0m1 0.8h0m1 0.9h0m1 0.9h0m1 0.7h0m1 0.6h0m1 0.2h0m1 -0.1h0m1 -0.1h0m1 -0.2h0m1 -0.3h0m1 -0.3h0m1 -0.3h0m1 -0.2h0m1 -0.2h0m1 0h0m1 0.3h0m1 0.6h0m1 0.8h0m1 0.7h0m1 0.6h0m1 0.4h0m1 0h0m1 0h0m1 0h0m1 0h0m1 0h0m1 -0.1h0m1 -1.1h0m1 -1.9h0m1 -2.2h0m1 -2.1h0m1 -1.6h0m1 -1.6h0m1 -1.6h0m1 -1.6h0m1 -1.5h0m1 -1.3h0m1 -1.1h0m1 -0.8h0m1 -0.4h0m1 0.1h0m1 0.5h0m1 0.9h0m1 1.1h0m1 1.3h0m1 1.4h0m1 1.3h0m1 1.5h0m1 1.7h0m1 2h0m1 2.1h0m1 2.1h0m1 1.9h0m1 1.7h0m1 1.5h0m1 1.3h0m1 1.3h0m1 1.1h0m1 1.2h0m1 1.2h0m1 1.2h0m1 1.4h0m1 1.6h0m1 1.9h0m1 2.1h0m1 2.3h0m1 2.3h0m1 2.1h0m1 1.8h0m1 1.5h0m1 1.6h0m1 1.5h0m1 1.3h0m1 1.1h0m1 0.6h0m1 0.1h0m1 -0.3h0m1 -0.5h0m1 -0.7h0m1 -0.9h0m1 -0.9h0m1 -0.9h0m1 -0.9h0m1 -0.8h0m1 -0.6h0m1 -0.3h0m1 -0.1h0m1 0.5h0m1 1h0m1 1.3h0m1 1.7h0m1 1.8h0m1 1.8h0m1 1.8h0m1 1.6h0m1 1.3h0m1 1h0m1 0.7h0m1 0.6h0m1 0.5h0m1 0.4h0m1 0.5h0m1 0.4h0m1 0.5h0m1 0.4h0m1 0.5h0m1 0.5h0m1 0.4h0m1 0.5h0m1 0.5h0m1 0.5h0m1 0.5h0m1 0.5h0m1 0.6h0m1 0.7h0m1 0.9h0m1 1h0m1 1h0m1 1h0m1 0.8h0m1 0.5h0m1 0.2h0m1 -0.4h0m1 -1.1h0m1 -1.5h0m1 -1.8h0m1 -1.9h0m1 -1.7h0m1 -1.4h0m1 -1.3h0m1 -1.5h0m1 -1.4h0m1 -1.4h0m1 -1.2h0m1 -0.9h0m1 -0.5h0m1 -0.1h0m1 0.1h0m1 0.2h0m1 0.3h0m1 0.3h0m1 0.3h0m1 0.2h0m1 0.2h0m1 0.1h0m1 -0.1h0m1 -0.5h0m1 -0.7h0m1 -0.9h0m1 -0.9h0m1 -1h0m1 -0.9h0m1 -0.9h0m1 -1.1h0m1 -1.1h0m1 -1.2h0m1 -1.1h0m1 -1h0m1 -0.8h0m1 -0.5h0m1 -0.3h0m1 -0.1h0m1 -0.1h0m1 0h0m1 -0.1h0m1 -0.1h0m1 0h0m1 -0.1h0m1 -0.2h0m1 -0.2h0m1 -0.6h0m1 -0.9h0m1 -1.1h0m1 -1.2h0m1 -1.3h0m1 -1.5h0m1 -1.8h0m1 -2.6h0m1 -3h0m1 -3.1h0m1 -3h0m1 -2.3h0m1 -1.5h0m1 -0.9h0m1 -0.8h0m1 -0.6h0m1 -0.3h0m1 0.1h0m1 0.2h0m1 0.4h0m1 0.5h0m1 0.5h0m1 0.6h0m1 0.5h0m1 0.4h0m1 0.2h0m1 0.1h0m1 -0.2h0m1 -0.3h0m1 -0.5h0m1 -0.5h0m1 -0.6h0m1 -0.5h0m1 -0.4h0m1 -0.3h0m1 -0.2h0m1 0.1h0m1 0.2h0m1 0.4h0m1 0.6h0m1 0.6h0m1 0.7h0m1 0.7h0m1 0.7h0m1 0.6h0m1 0.6h0m1 0.5h0m1 0.3h0m1 0.1h0m1 -0.2h0m1 -0.7h0m1 -1.1h0m1 -1.3h0m1 -1.5h0m1 -1.5h0m1 -1.4h0m1 -1.2h0m1 -0.8h0m1 -0.9h0m1 -0.8h0m1 -0.8h0m1 -0.7h0m1 -0.5h0m1 -0.3h0m1 -0.1h0m1 0.5h0m1 0.8h0m1 1.1h0m1 1.3h0m1 1.4h0m1 1.3h0m1 1.3h0m1 1.6h0m1 1.7h0m1 1.6h0m1 1.4h0m1 0.9h0m1 0.8h0m1 0.6h0m1 0.5h0m1 0.5h0m1 0.4h0m1 0.5h0m1 0.5h0m1 0.5h0m1 0.7h0m1 0.8h0m1 1.1h0m1 1.4h0m1 1.5h0m1 1.7h0m1 1.7h0m1 1.6h0m1 1.5h0m1 1.5h0m1 1.7h0m1 1.6h0m1 1.5h0m1 1.1h0m1 0.7h0m1 0.2h0m1 -0.3h0m1 -0.4h0m1 -0.7h0m1 -0.9h0m1 -0.9h0m1 -0.9h0m1 -1h0m1 -0.9h0m1 -0.7h0m1 -0.6h0m1 -0.3h0m1 -0.1h0m1 0.3h0m1 0.5h0m1 0.8h0m1 1h0m1 1.1h0m1 1.2h0m1 1.2h0m1 1.2h0m1 1.1h0m1 1h0m1 0.8h0m1 0.6h0m1 0.4h0m1 0h0m1 0h0m1 0h0m1 0h0m1 0h0m1 0h0m1 0h0m1 0.1h0m1 0.2h0m1 0.3h0m1 0.5h0m1 0.5h0m1 0.5h0m1 0.9h0m1 1.1h0m1 1.2h0m1 1.3h0m1 1.2h0m1 1h0m1 0.9h0m1 0.5h0m1 0.1h0m1 -0.4h0m1 -0.9h0m1 -1.1h0m1 -1.4h0m1 -1.4h0m1 -1.5h0m1 -1.3h0m1 -1.2h0m1 -1.3h0m1 -1.4h0m1 -1.5h0m1 -1.4h0m1 -1.3h0m1 -1h0m1 -0.7h0m1 -0.3h0m1 0h0m1 0.2h0m1 0.2h0m1 0.3h0m1 0.3h0m1 0.2h0m1 0.3h0m1 0.2h0m1 0.1h0m1 0h0m1 -0.4h0m1 -0.6h0m1 -0.9h0m1 -1h0m1 -1.2h0m1 -1.2h0m1 -1.2h0m1 -1.1h0m1 -1h0m1 -0.9h0m1 -0.6h0m1 -0.3h0m1 0h0m1 0.2h0m1 0.2h0m1 0.3h0m1 0.4h0m1 0.4h0m1 0.3h0m1 0.4h0m1 0.2h0m1 0.2h0m1 0h0m1 -0.3h0m1 -0.6h0m1 -0.8h0m1 -0.9h0m1 -0.9h0m1 -1.3h0m1 -1.7h0m1 -2h0m1 -2.2h0m1 -2.1h0m1 -2h0m1 -1.7h0m1 -1.1h0m1 -0.7h0m1 -0.4h0m1 -0.5h0m1 -0.3h0m1 -0.2h0m1 0h0m1 0.2h0m1 0.3h0m1 0.5h0m1 0.5h0m1 0.5h0m1 0.6h0m1 0.4h0m1 0.3h0m1 0.1h0m1 -0.1h0m1 -0.2h0m1 -0.4h0m1 -0.5h0m1 -0.5h0m1 -0.6h0m1 -0.6h0m1 -0.5h0m1 -0.4h0m1 -0.3h0m1 -0.2h0m1 0.1h0m1 0.3h0m1 0.5h0m1 0.7h0m1 0.7h0m1 0.9h0m1 0.9h0m1 0.8h0m1 0.7h0m1 0.6h0m1 0.5h0m1 0.2h0m1 -0.1h0m1 -0.3h0m1 -0.6h0m1 -0.8h0m1 -0.9h0m1 -1.1h0m1 -1.1h0m1 -1.2h0m1 -1.1h0m1 -1.1h0m1 -0.9h0m1 -0.8h0m1 -0.7h0m1 -0.4h0m1 -0.1h0m1 0.2h0m1 0.6h0m1 0.8h0m1 1h0m1 1.3h0m1 1.3h0m1 1.4h0m1 1.3h0m1 1.4h0m1 1.2h0m1 1.1h0m1 0.8h0m1 0.6h0m1 0.4h0m1 0.4h0m1 0.3h0m1 0.3h0m1 0.2h0m1 0.3h0m1 0.3h0m1 0.3h0m1 0.3h0m1 0.5h0m1 0.5h0m1 0.8h0m1 0.9h0m1 1h0m1 1.1h0m1 1.2h0m1 1.3h0m1 1.2h0m1 1.2h0m1 1.1h0m1 1h0m1 0.9h0m1 0.7h0m1 0.6h0m1 0.2h0m1 0.1h0m1 -0.3h0m1 -0.6h0m1 -0.7h0m1 -1h0m1 -1h0m1 -1.1h0m1 -1.1h0m1 -1h0m1 -1h0m1 -0.8h0m1 -0.5h0m1 -0.4h0m1 0h0m1 0.3h0m1 0.4h0m1 0.7h0m1 0.8h0m1 0.8h0m1 1h0m1 0.9h0m1 1h0m1 0.9h0m1 0.9h0m1 0.7h0m1 0.6h0m1 0.3h0m1 0.2h0m1 0h0m1 0h0m1 0h0m1 0h0m1 0h0m1 0h0m1 0h0m1 0h0m1 0h0m1 0.2h0m1 0.5h0m1 0.7h0m1 0.8h0m1 1h0m1 1h0m1 0.9h0m1 1h0m1 0.9h0m1 0.7h0m1 0.5h0m1 0.3h0m1 0.1h0m1 -0.3h0m1 -0.7h0m1 -0.8h0m1 -1.1h0m1 -1.3h0m1 -1.5h0m1 -1.5h0m1 -1.5h0m1 -1.6h0m1 -1.5h0m1 -1.5h0m1 -1.4h0m1 -1.1h0m1 -1h0m1 -0.7h0m1 -0.5h0m1 -0.1h0m1 0.1h0m1 0.2h0m1 0.2h0m1 0.3h0m1 0.4h0m1 0.3h0m1 0.4h0m1 0.3h0m1 0.2h0m1 0.2h0m1 0h0m1 -0.1h0m1 -0.3h0m1 -0.4h0m1 -0.4h0m1 -0.6h0m1 -0.6h0m1 -0.6h0m1 -0.6h0m1 -0.5h0m1 -0.5h0m1 -0.3h0m1 -0.2h0m1 -0.1h0m1 0.1h0m1 0.3h0m1 0.4h0m1 0.5h0m1 0.4h0m1 0.5h0m1 0.5h0m1 0.4h0m1 0.3h0m1 0.1h0m1 -0.1h0m1 -0.5h0m1 -0.8h0m1 -1.1h0m1 -1.3h0m1 -1.4h0m1 -1.6h0m1 -1.7h0m1 -1.6h0m1 -1.7h0m1 -1.5h0m1 -1.4h0m1 -1.3h0m1 -1h0m1 -0.7h0m1 -0.3h0m1 -0.1h0m1 0h0m1 0.1h0m1 0.2h0m1 0.2h0m1 0.3h0m1 0.4h0m1 0.4h0m1 0.6h0m1 0.7h0m1 0.8h0m1 1h0m1 1.1h0" stroke="#ff0000" stroke-width="4.7" stroke-linecap="round" fill="none"/>
</g>
<rect x="107.1" y="12.5" width="117.4" height="142" rx="5" fill="#fff" fill-opacity="0.8" stroke="#c4c4c4" stroke-opacity="0.8" stroke-width="1.6"/>
<circle cx="139.5" cy="33.3" r="5.5" fill="#8000ff"/>
<text x="181.0" y="38.7" font-size="23.8" font-style="italic">m</text>
<text x="203.4" y="42.1" font-size="15.7">1</text>
<circle cx="139.5" cy="67" r="5.5" fill="#2adddd"/>
<text x="181.0" y="72.5" font-size="23.8" font-style="italic">m</text>
<text x="203.4" y="75.8" font-size="15.7">2</text>
<circle cx="139.5" cy="100.8" r="5.5" fill="#d4dd80"/>
<text x="181.0" y="106.2" font-size="23.8" font-style="italic">m</text>
<text x="203.4" y="109.6" font-size="15.7">3</text>
<circle cx="139.5" cy="134.6" r="5.5" fill="#ff0000"/>
<text x="181.0" y="139.9" font-size="23.8" font-style="italic">m</text>
<text x="203.4" y="143.3" font-size="15.7">4</text>
<path d="M95.4 1.0V388.75 M95.4 388.75H954.25 M954.25 388.75V1.0 M95.4 1.0H954.25" stroke="#000" stroke-width="1.5" fill="none" stroke-linecap="square"/>
<path d="M95.4 465.95V853.95 M95.4 853.95H954.25 M954.25 853.95V465.95 M95.4 465.95H954.25" stroke="#000" stroke-width="1.5" fill="none" stroke-linecap="square"/>
<text x="85.1" y="385.8" font-size="15.5" text-anchor="end">1.0</text>
<text x="85.1" y="324" font-size="15.5" text-anchor="end">1.2</text>
<text x="85.1" y="262.1" font-size="15.5" text-anchor="end">1.4</text>
<text x="85.1" y="200.3" font-size="15.5" text-anchor="end">1.6</text>
<text x="85.1" y="138.5" font-size="15.5" text-anchor="end">1.8</text>
<text x="85.1" y="76.6" font-size="15.5" text-anchor="end">2.0</text>
<text x="85.1" y="14.8" font-size="15.5" text-anchor="end">2.2</text>
<text x="95.4" y="411.4" font-size="15.5" text-anchor="middle">0</text>
<text x="95.4" y="877" font-size="15.5" text-anchor="middle">0</text>
<text x="278.4" y="411.4" font-size="15.5" text-anchor="middle">1000</text>
<text x="278.4" y="877" font-size="15.5" text-anchor="middle">1000</text>
<text x="461.5" y="411.4" font-size="15.5" text-anchor="middle">2000</text>
<text x="461.5" y="877" font-size="15.5" text-anchor="middle">2000</text>
<text x="644.5" y="411.4" font-size="15.5" text-anchor="middle">3000</text>
<text x="644.5" y="877" font-size="15.5" text-anchor="middle">3000</text>
<text x="827.6" y="411.4" font-size="15.5" text-anchor="middle">4000</text>
<text x="827.6" y="877" font-size="15.5" text-anchor="middle">4000</text>
<text x="85.1" y="857.3" font-size="15.5" text-anchor="end">0.0050</text>
<text x="85.1" y="812.1" font-size="15.5" text-anchor="end">0.0075</text>
<text x="85.1" y="766.9" font-size="15.5" text-anchor="end">0.0100</text>
<text x="85.1" y="721.7" font-size="15.5" text-anchor="end">0.0125</text>
<text x="85.1" y="676.5" font-size="15.5" text-anchor="end">0.0150</text>
<text x="85.1" y="631.3" font-size="15.5" text-anchor="end">0.0175</text>
<text x="85.1" y="586.1" font-size="15.5" text-anchor="end">0.0200</text>
<text x="85.1" y="540.9" font-size="15.5" text-anchor="end">0.0225</text>
<text x="85.1" y="495.7" font-size="15.5" text-anchor="end">0.0250</text>
<path d="M90 379.4h5.4M90 317.6h5.4M90 255.7h5.4M90 193.9h5.4M90 132.1h5.4M90 70.2h5.4M90 8.4h5.4M95.4 388.8v5.4M95.4 854v5.4M278.4 388.8v5.4M278.4 854v5.4M461.5 388.8v5.4M461.5 854v5.4M644.5 388.8v5.4M644.5 854v5.4M827.6 388.8v5.4M827.6 854v5.4M90 850.9h5.4M90 805.7h5.4M90 760.5h5.4M90 715.3h5.4M90 670.1h5.4M90 624.9h5.4M90 579.7h5.4M90 534.5h5.4M90 489.3h5.4" stroke="#000" stroke-width="1.2" fill="none"/>
<text transform="translate(46.6 195.5) rotate(-90)" font-size="31" text-anchor="middle"><tspan font-style="italic">a</tspan> [AU]</text>
<text transform="translate(17.7 660.4) rotate(-90)" font-size="30.7" text-anchor="middle" font-style="italic">e</text>
<text x="524.3" y="908.8" font-size="30.7" text-anchor="middle"><tspan font-style="italic">t</tspan> [yr]</text>
<rect x="1793.3" y="14.8" width="191.6" height="550.4" rx="6" fill="#fff" fill-opacity="0.2" stroke="#ccc" stroke-opacity="0.3" stroke-width="1.6"/>
<circle cx="1833.8" cy="41.9" r="6.75" fill="#8000ff"/>
<text x="1885.6" y="49.3" font-size="29.5">θ</text>
<text x="1903.1" y="53.9" font-size="20.2">12,<tspan dx="3.7">in</tspan></text>
<circle cx="1833.8" cy="87.1" r="6.75" fill="#5247fc"/>
<text x="1885.6" y="94.5" font-size="29.5">θ</text>
<text x="1903.1" y="99.1" font-size="20.2">12,<tspan dx="3.7">out</tspan></text>
<circle cx="1833.8" cy="132.4" r="6.75" fill="#2489f5"/>
<text x="1885.6" y="139.8" font-size="29.5">θ</text>
<text x="1903.1" y="144.4" font-size="20.2">23,<tspan dx="3.7">in</tspan></text>
<circle cx="1833.8" cy="177.6" r="6.75" fill="#0ac0e8"/>
<text x="1885.6" y="185" font-size="29.5">θ</text>
<text x="1903.1" y="189.6" font-size="20.2">23,<tspan dx="3.7">out</tspan></text>
<circle cx="1833.8" cy="222.9" r="6.75" fill="#3ae8d6"/>
<text x="1885.6" y="230.3" font-size="29.5">θ</text>
<text x="1903.1" y="234.9" font-size="20.2">34,<tspan dx="3.7">in</tspan></text>
<circle cx="1833.8" cy="268.1" r="6.75" fill="#68fcc1"/>
<text x="1885.6" y="275.5" font-size="29.5">θ</text>
<text x="1903.1" y="280.1" font-size="20.2">34,<tspan dx="3.7">out</tspan></text>
<circle cx="1833.8" cy="313.3" r="6.75" fill="#96fca7"/>
<text x="1885.6" y="320.7" font-size="29.5">θ</text>
<text x="1903.1" y="325.3" font-size="20.2">13,<tspan dx="3.7">in</tspan></text>
<circle cx="1833.8" cy="358.6" r="6.75" fill="#c4e88a"/>
<text x="1885.6" y="366" font-size="29.5">θ</text>
<text x="1903.1" y="370.6" font-size="20.2">13,<tspan dx="3.7">out</tspan></text>
<circle cx="1833.8" cy="403.8" r="6.75" fill="#f4c069"/>
<text x="1885.6" y="411.2" font-size="29.5">θ</text>
<text x="1903.1" y="415.8" font-size="20.2">24,<tspan dx="3.7">in</tspan></text>
<circle cx="1833.8" cy="449.1" r="6.75" fill="#ff8947"/>
<text x="1885.6" y="456.5" font-size="29.5">θ</text>
<text x="1903.1" y="461.1" font-size="20.2">24,<tspan dx="3.7">out</tspan></text>
<circle cx="1833.8" cy="494.3" r="6.75" fill="#ff4724"/>
<text x="1885.6" y="501.7" font-size="29.5">θ</text>
<text x="1903.1" y="506.3" font-size="20.2">L,<tspan dx="3.7">in</tspan></text>
<circle cx="1833.8" cy="539.5" r="6.75" fill="#ff0000"/>
<text x="1885.6" y="546.9" font-size="29.5">θ</text>
<text x="1903.1" y="551.5" font-size="20.2">L,<tspan dx="3.7">out</tspan></text>
<path d="M1141.2 1.15V854.15 M1141.2 854.15H1999.85 M1999.85 854.15V1.15 M1141.2 1.15H1999.85" stroke="#000" stroke-width="1.7" fill="none" stroke-linecap="square"/>
<text x="1127.6" y="861.8" font-size="19.3" text-anchor="end">0</text>
<text x="1127.6" y="743.2" font-size="19.3" text-anchor="end">50</text>
<text x="1127.6" y="624.7" font-size="19.3" text-anchor="end">100</text>
<text x="1127.6" y="506.1" font-size="19.3" text-anchor="end">150</text>
<text x="1127.6" y="387.5" font-size="19.3" text-anchor="end">200</text>
<text x="1127.6" y="268.9" font-size="19.3" text-anchor="end">250</text>
<text x="1127.6" y="150.4" font-size="19.3" text-anchor="end">300</text>
<text x="1127.6" y="31.8" font-size="19.3" text-anchor="end">350</text>
<text x="1141.1" y="882.1" font-size="19.3" text-anchor="middle">0</text>
<text x="1324.1" y="882.1" font-size="19.3" text-anchor="middle">1000</text>
<text x="1507.1" y="882.1" font-size="19.3" text-anchor="middle">2000</text>
<text x="1690" y="882.1" font-size="19.3" text-anchor="middle">3000</text>
<text x="1873" y="882.1" font-size="19.3" text-anchor="middle">4000</text>
<path d="M1134.5 854h6.75M1134.5 735.4h6.75M1134.5 616.9h6.75M1134.5 498.3h6.75M1134.5 379.7h6.75M1134.5 261.1h6.75M1134.5 142.6h6.75M1134.5 24h6.75M1141.1 854.1v6.75M1324.1 854.1v6.75M1507.1 854.1v6.75M1690 854.1v6.75M1873 854.1v6.75" stroke="#000" stroke-width="1.5" fill="none"/>
<text transform="translate(1072.5 428.4) rotate(-90)" font-size="38.7" text-anchor="middle">Resonant angle [°]</text>
<text x="1570" y="922.8" font-size="38.7" text-anchor="middle"><tspan font-style="italic">t</tspan> [yr]</text>
</svg>
</body></html>
